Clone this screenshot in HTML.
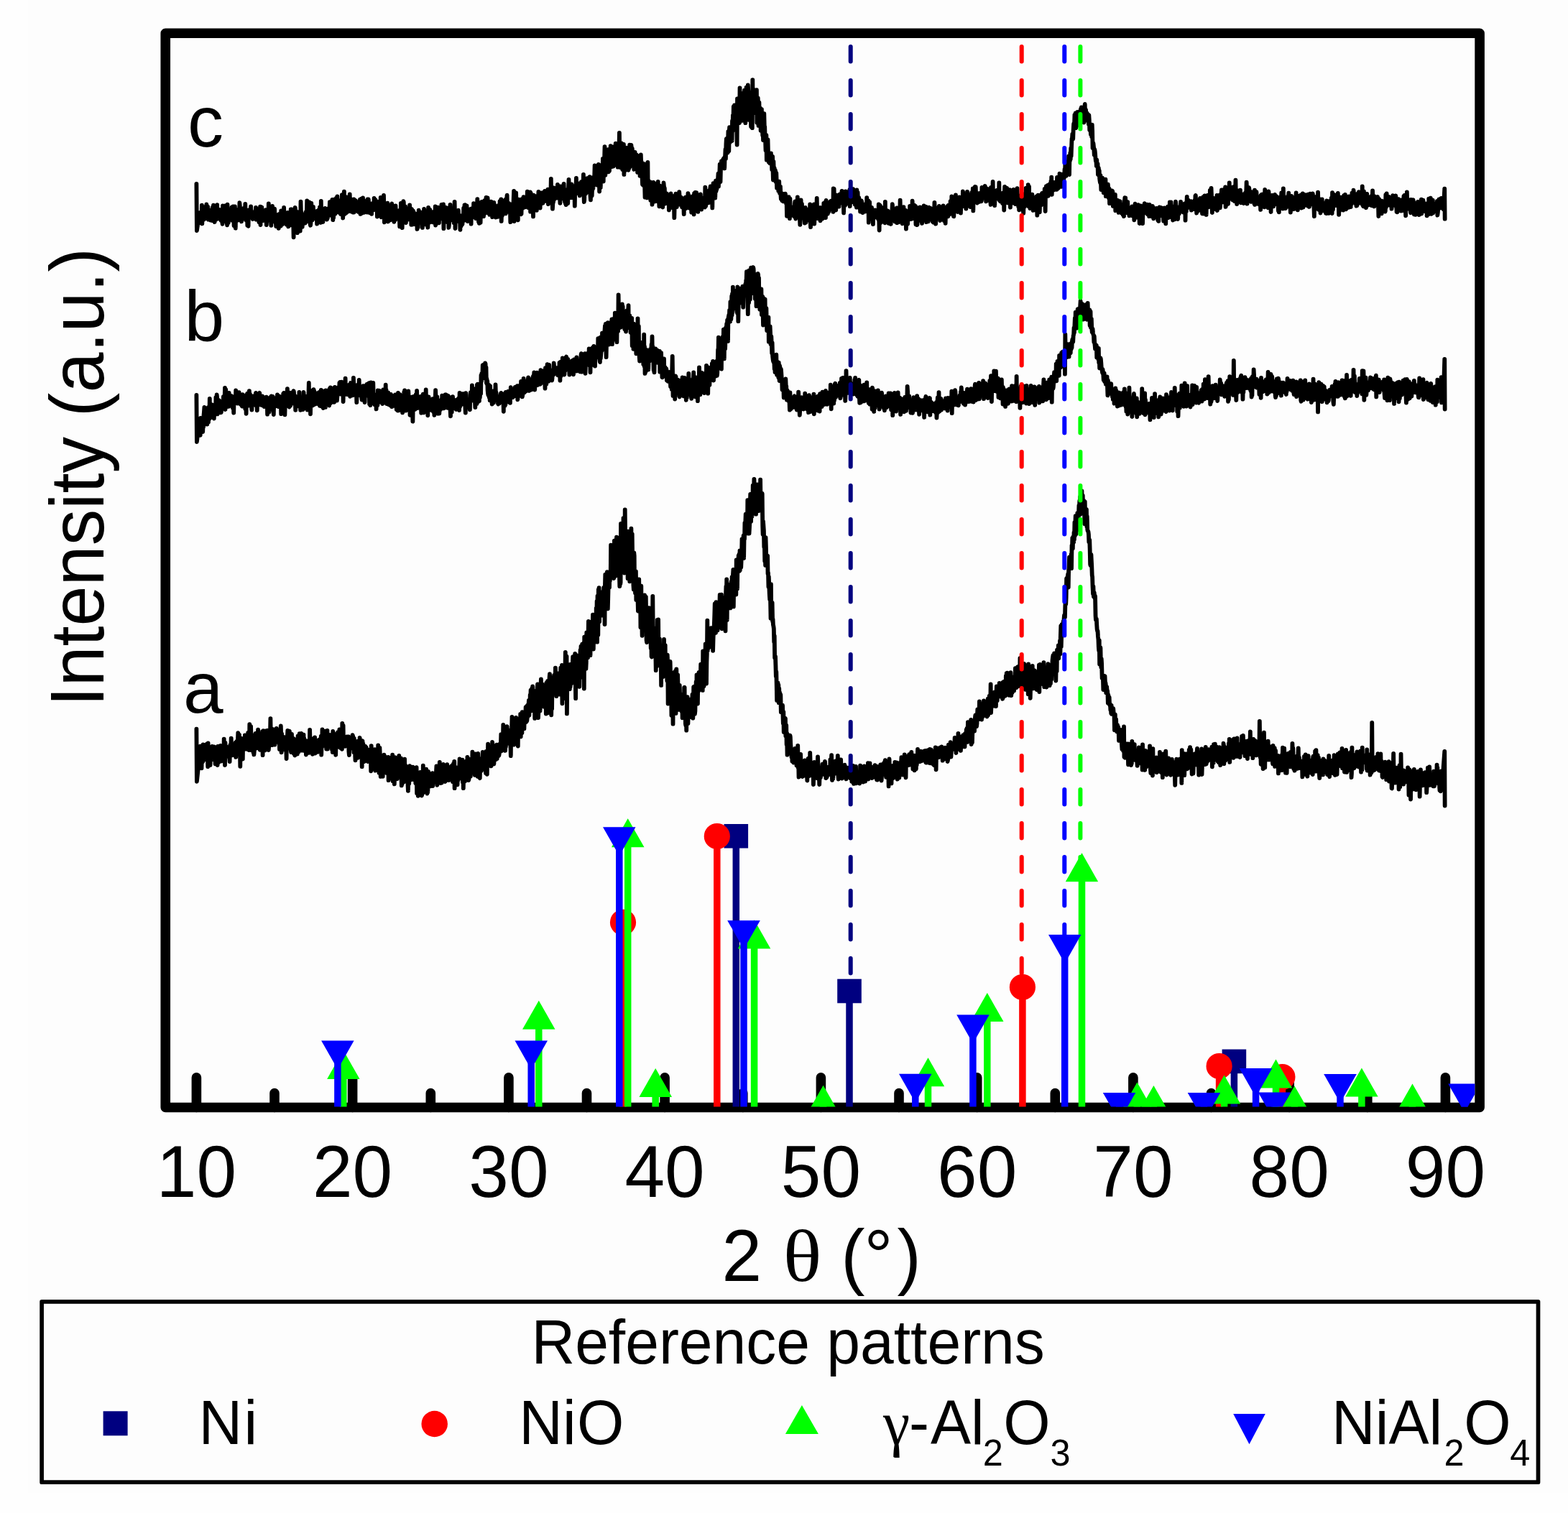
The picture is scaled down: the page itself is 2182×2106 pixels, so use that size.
<!DOCTYPE html>
<html><head><meta charset="utf-8"><style>html,body{margin:0;padding:0;background:#fdfdfd;}svg{display:block;}</style></head>
<body>
<svg width="2182" height="2106" viewBox="0 0 2182 2106" font-family="'Liberation Sans', Arial, sans-serif" fill="#000">
<defs><clipPath id="pc"><rect x="237" y="53" width="1815.3" height="1487.4"/></clipPath></defs>
<rect x="0" y="0" width="2182" height="2106" fill="#fdfdfd"/>
<rect x="0" y="0" width="39" height="2106" fill="#fefefe"/><rect x="0" y="2078" width="2182" height="28" fill="#fefefe"/>
<rect x="230.25" y="46.25" width="1828.85" height="1495.25" fill="none" stroke="#000" stroke-width="13.6" stroke-linejoin="round"/>
<path d="M273.4,1541.5V1499.8M382.0,1541.5V1521.5M490.6,1541.5V1499.8M599.3,1541.5V1521.5M707.9,1541.5V1499.8M816.5,1541.5V1521.5M925.1,1541.5V1499.8M1033.8,1541.5V1521.5M1142.4,1541.5V1499.8M1251.0,1541.5V1521.5M1359.7,1541.5V1499.8M1468.3,1541.5V1521.5M1576.9,1541.5V1499.8M1685.5,1541.5V1521.5M1794.2,1541.5V1499.8M1902.8,1541.5V1521.5M2011.4,1541.5V1499.8" stroke="#000" stroke-width="13.6" stroke-linecap="round" fill="none"/>
<g clip-path="url(#pc)">
<g fill="none" stroke="#000" stroke-width="5.8" stroke-linejoin="round" stroke-linecap="round">
<path d="M273.4,256.0l.5,65 3.1,-20.8 .4,10 .5,-1.1 .4,-13.1 .4,1.5 .5,-1.8 .4,8.3 .4,-4.8 .5,6.1 .4,-19.7 .4,25.8 .5,-12.6 .4,5.8 .4,-6.2 .5,-1.9 .4,6.4 .4,2.7 .5,-7.8 .4,.3 .4,6.3 .5,-11.8 .4,-4.9 .5,14.4 .4,-8.1 .4,-9.5 .5,8.4 .4,2.6 .4,-5.5 .5,-2.3 .4,11.5 .4,6.5 .5,-8.5 .4,-3.9 .4,8.5 .5,2.5 .4,-7.7 .4,6.4 .5,3.7 .4,-9.4 .4,-4.6 .5,8.7 .4,-.8 .4,6.5 .5,-18.1 .4,4.7 .4,-1.3 .5,-6.8 .4,14 .4,3.1 .5,-9.6 .4,16 .4,-4.3 .5,-1.4 .4,-1.8 .4,4.2 .5,-17.3 .4,14.7 .4,-.1 .5,-17.9 .4,15.9 .5,-4.5 .4,7.8 .4,-9.2 .5,3.1 .4,2.7 .4,-9.2 .5,11.1 .4,-5.3 .4,4.5 .5,-7.7 .4,12.2 .4,-3.7 .5,-5.9 .4,6.1 .4,4.7 .5,4 .4,-25.4 .4,18.5 .5,-3.1 .4,-4.3 .4,-6.9 .5,17.1 .4,-19 .4,13.8 .5,5.5 .4,-21.9 .4,9.8 .5,-7.7 .4,11.8 .4,9.5 .5,3.9 .4,-28.8 .4,9.1 .5,9.7 .4,6.6 .4,-8.8 .5,-8.8 .4,7.9 .5,-2.4 .4,-1.4 .4,-4 .5,8.5 .4,-.6 .4,-3 .5,-1 .4,-8 .4,6 .5,12.8 .4,-10.5 .4,-9.4 .5,20.9 .4,-6 .4,11.9 .5,-15.4 .4,-4 .4,-7.4 .5,20.9 .4,9.5 .4,-25.7 .5,1.4 .4,9.4 .4,-10.8 .5,4.2 .4,-.6 .4,4.2 .5,6.8 .4,-8.1 .4,6.8 .5,-10.1 .4,5.6 .4,-18.6 .5,5.2 .4,17 .4,-10.5 .5,8.9 .4,-.3 .5,5.9 .4,-3.8 .4,1.5 .5,-8.5 .4,-4.4 .4,-.2 .5,1.8 .4,-4.8 .4,4.4 .5,3.4 .4,2.6 .4,-4.4 .5,-12 .4,14 .4,2.3 .5,6.5 .4,-3.8 .4,-9.3 .5,-.5 .4,20.6 .4,-9.4 .5,8.1 .4,2.3 .4,-22.3 .5,9.1 .4,.6 .4,.7 .5,-.1 .4,-2.5 .4,-.2 .5,-12.7 .4,10.1 .4,-4.4 .5,6.6 .4,-4.4 .4,8.2 .5,1.5 .4,-3.8 .5,0 .4,-1.6 .4,-4.1 .5,2.1 .4,-2.5 .4,6.7 .5,-2.8 .4,4.3 .4,-14.4 .5,16.7 .4,-12.4 .4,.2 .5,4.1 .4,-2.8 .4,6.5 .5,-6.5 .4,-3.7 .4,1.7 .5,16.4 .4,-9.5 .4,-9.2 .5,9 .4,-11.8 .4,25.4 .5,-25 .4,15.2 .4,.5 .5,-15 .4,13.3 .4,5.3 .5,-4 .4,-1.5 .4,5.3 .5,-5.9 .4,1.4 .4,-3.5 .5,5.8 .4,-11.8 .5,13.1 .4,-9.7 .4,-4.4 .5,11 .4,10.1 .4,-5.4 .5,-11.2 .4,9.3 .4,-8.7 .5,2.6 .4,1.6 .4,-18.1 .5,19 .4,-9.2 .4,2.6 .5,-5.8 .4,-.3 .4,4.4 .5,13.4 .4,6.4 .4,-12.7 .5,8.5 .4,-10.2 .4,-12.4 .5,15.6 .4,2.3 .4,-6.5 .5,5.5 .4,2.1 .4,-10.8 .5,-4.6 .4,9.6 .4,.1 .5,-1 .4,10.2 .4,5.6 .5,-16.1 .4,8.5 .4,1.9 .5,-1.7 .4,2.6 .5,-10.8 .4,8.5 .4,9.8 .5,-9.2 .4,-10.7 .4,9.4 .5,5 .4,-6.7 .4,-7 .5,15.9 .4,-21 .4,13.3 .5,-3.9 .4,-8.8 .4,18.3 .5,-6.6 .4,-11.4 .4,13.4 .5,-7.7 .4,-11.1 .4,9.2 .5,7.3 .4,2.9 .4,-3.5 .5,-.9 .4,3.3 .4,-5.1 .5,10.5 .4,-7.7 .4,1.2 .5,1.9 .4,-12.1 .4,2.5 .5,16.9 .4,-9.1 .4,-4.7 .5,4.7 .4,-6.3 .5,5.7 .4,-7.2 .4,7 .5,-14 .4,21.9 .4,-14 .5,-8.1 .4,10.2 .4,-1.2 .5,3.9 .4,-9.9 .4,11.7 .5,24.3 .4,-37.1 .4,12.1 .5,-4.9 .4,3.7 .4,-15.2 .5,5 .4,12.1 .4,-3.8 .5,12.6 .4,-17.8 .4,6.6 .5,20.6 .4,-27.8 .4,-1.1 .5,6.5 .4,-.1 .4,6.6 .5,-5.4 .4,-6.8 .4,7.3 .5,18.3 .4,-10.4 .4,-30.7 .5,19.9 .4,-5.6 .5,11.2 .4,-6 .4,15.8 .5,-7.6 .4,-.4 .4,-5.3 .5,-1.8 .4,2.8 .4,7.2 .5,-5.8 .4,-6.8 .4,12.3 .5,-8.3 .4,-2.1 .4,-5.4 .5,1.6 .4,-.6 .4,-16.3 .5,28.7 .4,-3.4 .4,-6 .5,9.5 .4,-4.7 .4,-.5 .5,-21.6 .4,16.9 .4,5.7 .5,8.1 .4,1.7 .4,-3.2 .5,-19.7 .4,-7.9 .4,20.9 .5,-4.2 .4,7 .4,-8.3 .5,2.6 .4,-13.1 .5,14.7 .4,-6.8 .4,5.9 .5,.8 .4,-4.4 .4,3.2 .5,-2.6 .4,5.8 .4,-2 .5,-8 .4,-.4 .4,17.6 .5,-14.1 .4,8.2 .4,-4.5 .5,-7.3 .4,-1.5 .4,6.5 .5,1 .4,2.6 .4,-14.3 .5,5 .4,3.7 .4,12.8 .5,-30 .4,21.1 .4,-7.5 .5,7.3 .4,-7 .4,6.4 .5,9 .4,-9.2 .4,.5 .5,-.5 .4,-8.6 .4,9.5 .5,-5.9 .4,-4.9 .5,5.6 .4,-1.6 .4,7.1 .5,-6.3 .4,-3.9 .4,14.8 .5,-3.8 .4,1.9 .4,-5.3 .5,-5.7 .4,-2.6 .4,.8 .5,9.1 .4,-6.6 .4,-12.3 .5,10.7 .4,-10.7 .4,11.7 .5,-10.6 .4,-.7 .4,10.2 .5,-1.8 .4,-12.2 .4,18 .5,10.4 .4,-27.8 .4,24.7 .5,-19.2 .4,1.2 .4,2.2 .5,-9.9 .4,20.5 .4,-6.3 .5,-9.7 .4,3.4 .4,-9.6 .5,8.5 .4,9.5 .5,-20.3 .4,9.4 .4,4.2 .5,6.5 .4,2.1 .4,-14 .5,-2.2 .4,9.1 .4,-6.2 .5,.5 .4,10.5 .4,4.7 .5,-10.8 .4,-3.4 .4,5.8 .5,-18.5 .4,14.1 .4,-7.8 .5,26.1 .4,-12.6 .4,-4.3 .5,-2.5 .4,-17.5 .4,24.4 .5,7 .4,-17.8 .4,10.7 .5,.3 .4,-17.1 .4,18.8 .5,3.2 .4,-8.4 .4,-2.2 .5,6.5 .4,-17.6 .4,12.4 .5,7.3 .4,-17.3 .5,16.9 .4,-10.6 .4,-12.6 .5,15 .4,-6.5 .4,9.8 .5,-11.3 .4,16.9 .4,-13.5 .5,8.3 .4,-7.1 .4,2 .5,11.5 .4,-7.3 .4,-4.6 .5,-6.4 .4,18.2 .4,-3.2 .5,-8 .4,4.3 .4,-9.6 .5,.2 .4,1.4 .4,8.9 .5,-.4 .4,-7.8 .4,11.2 .5,.4 .4,-4.6 .4,6.5 .5,-10 .4,1.4 .4,4.4 .5,-3.8 .4,6.3 .4,-15.5 .5,20.3 .4,-16.7 .4,4.7 .5,-9.2 .4,15 .5,5.1 .4,-1.5 .4,-1.8 .5,-18 .4,5.9 .4,2.4 .5,-3.6 .4,15.6 .4,-7.1 .5,-1.5 .4,3.9 .4,-10.9 .5,.3 .4,.3 .4,10.4 .5,-1.1 .4,1.8 .4,3.8 .5,-18.4 .4,6 .4,5.4 .5,-11.3 .4,6.2 .4,11.7 .5,.7 .4,-.2 .4,-7.8 .5,-1.9 .4,9.8 .4,-11 .5,5.4 .4,7.5 .4,-12.8 .5,-1.8 .4,4.5 .4,4.7 .5,-.9 .4,-2.4 .5,3 .4,-16.3 .4,5.6 .5,7.8 .4,-8.3 .4,-3.1 .5,1.1 .4,2.3 .4,5.8 .5,-6.3 .4,9.7 .4,11.2 .5,-13.8 .4,10.9 .4,-7.4 .5,-10.5 .4,6.7 .4,-5.3 .5,13.3 .4,-14.3 .4,18.8 .5,-5.5 .4,-19.5 .4,21.4 .5,5.9 .4,-17.5 .4,13.5 .5,-20.9 .4,15.7 .4,-14.3 .5,16.3 .4,-17 .4,-6.3 .5,23.1 .4,14.4 .4,-21.6 .5,10.9 .4,-5.3 .5,-3.1 .4,7.2 .4,7.9 .5,-21.6 .4,13.7 .4,-1.5 .5,-13.2 .4,23.1 .4,2.7 .5,-21.8 .4,20.5 .4,-12.6 .5,-1.5 .4,12.7 .4,-9.5 .5,.9 .4,9.2 .4,-1.6 .5,-2.9 .4,-17.2 .4,-1.1 .5,20.5 .4,-15.3 .4,8.2 .5,-9.1 .4,6.9 .4,-8.1 .5,22.1 .4,-19.9 .4,6.9 .5,-.3 .4,10.7 .4,-19.7 .5,10.6 .4,-1.2 .4,5.7 .5,-.3 .4,-6.9 .5,5.4 .4,-4.6 .4,6.4 .5,-4.2 .4,-4.2 .4,4.8 .5,3 .4,14.4 .4,-20.8 .5,6.1 .4,8.8 .4,-26.7 .5,2.5 .4,4.3 .4,8.1 .5,19.4 .4,-15.5 .4,6.3 .5,-10.8 .4,-16.9 .4,1.2 .5,25.2 .4,-6.3 .4,-11.1 .5,18.3 .4,-20.1 .4,20.3 .5,2.4 .4,-16.7 .4,-2.5 .5,14.8 .4,-14.7 .4,14.9 .5,-15.5 .4,15.1 .4,-5.3 .5,-3.9 .4,-3.5 .5,8.6 .4,-16.1 .4,12.3 .5,-.9 .4,8.2 .4,-14.6 .5,22.5 .4,-15.3 .4,-6.2 .5,19.2 .4,2.1 .4,-13.9 .5,-5.3 .4,6.9 .4,-5.3 .5,2.9 .4,14.2 .4,-8.8 .5,-1.8 .4,1.5 .4,-3 .5,6.9 .4,.3 .4,-9.4 .5,3.6 .4,17.5 .4,-15 .5,-4.6 .4,17 .4,-15.4 .5,-8.3 .4,13.4 .4,-11.8 .5,3 .4,6.3 .4,-3.4 .5,-4.7 .4,1.6 .5,-.2 .4,13.3 .4,-14.2 .5,1.2 .4,19.8 .4,-19.5 .5,15.5 .4,-1.3 .4,-11.1 .5,-9.5 .4,14.2 .4,1.8 .5,2.2 .4,-6.7 .4,8.6 .5,1.5 .4,-18.4 .4,18.8 .5,-9.4 .4,-5.6 .4,1.9 .5,16.7 .4,-6.7 .4,-20.9 .5,14.2 .4,-1.6 .4,-.2 .5,-2.5 .4,-7.1 .4,17.6 .5,-13.6 .4,4.4 .4,-1.8 .5,-1 .4,11 .4,-2.9 .5,-8.1 .4,-2.2 .4,3.5 .5,10.8 .4,-6.5 .5,.7 .4,-4.4 .4,.4 .5,3.5 .4,-15.7 .4,26 .5,-18.3 .4,1.6 .4,14.3 .5,-8.6 .4,-1.5 .4,-4.8 .5,-7.5 .4,13.1 .4,7.5 .5,-16 .4,17 .4,-18.9 .5,2.8 .4,9.3 .4,-4 .5,5.1 .4,-10.9 .4,-2.3 .5,-6.5 .4,5 .4,1.1 .5,-2.6 .4,13.2 .4,-7.3 .5,-10 .4,33.9 .4,-25 .5,-3.1 .4,18.9 .4,-.5 .5,-17.5 .4,-2.3 .5,3.6 .4,16.2 .4,-10.9 .5,-3.7 .4,6 .4,9.4 .5,-19.6 .4,7.7 .4,-7.5 .5,27 .4,-2.6 .4,-6.5 .5,-8.2 .4,6.1 .4,-20.8 .5,18 .4,-12.1 .4,.1 .5,4.8 .4,2.7 .4,7.1 .5,1 .4,-3.2 .4,-9.1 .5,12.3 .4,-6 .4,9.9 .5,-15.7 .4,-13.9 .4,17.3 .5,19.9 .4,-12.6 .4,-5 .5,8.2 .4,-2.9 .4,-.4 .5,-7.5 .4,4.3 .5,.8 .4,-6.5 .4,-3.7 .5,9.3 .4,6.2 .4,-2.6 .5,-1.3 .4,-.1 .4,15.6 .5,-17.7 .4,5.8 .4,6.8 .5,-14.5 .4,1.4 .4,5.8 .5,4.7 .4,-10.5 .4,.2 .5,-2.2 .4,-9.9 .4,17.4 .5,-10.5 .4,-11.2 .4,11.8 .5,-12.1 .4,5.3 .4,7.6 .5,-7.2 .4,14.9 .4,-19.3 .5,12.9 .4,2.1 .4,6.7 .5,-4.2 .4,-5.3 .4,-1.3 .5,-1.2 .4,8.9 .5,-13.7 .4,8.8 .4,-4.8 .5,2.4 .4,-4 .4,18 .5,-21.2 .4,6.7 .4,.1 .5,2.4 .4,-1.4 .4,-.3 .5,4.1 .4,-19 .4,11.4 .5,-9.6 .4,11 .4,-10.9 .5,1.6 .4,6.6 .4,10.9 .5,-6.3 .4,-2.3 .4,8.3 .5,-17.9 .4,-8.8 .4,12.4 .5,1 .4,11.3 .4,6.7 .5,-26.3 .4,28.6 .4,-7 .5,-5.7 .4,-3.7 .4,15.5 .5,-17.9 .4,-4.3 .5,4.5 .4,-11.4 .4,13.9 .5,-4.4 .4,3.3 .4,.3 .5,-10.7 .4,17.9 .4,-17.6 .5,14.4 .4,-18.7 .4,14.8 .5,-9 .4,6.6 .4,-5.3 .5,-11.5 .4,8 .4,9 .5,4.2 .4,-15.8 .4,-4.9 .5,9.4 .4,5 .4,-3.1 .5,-1.4 .4,12.6 .4,.9 .5,-1.7 .4,-12.7 .4,7.7 .5,-2 .4,-9.4 .4,17.5 .5,-6 .4,-4.3 .4,14.4 .5,-4.9 .4,.7 .5,2.6 .4,-3.7 .4,-14.9 .5,6.6 .4,10.5 .4,-13.4 .5,6.1 .4,2.8 .4,7.9 .5,-1.1 .4,-3 .4,-8.2 .5,8.3 .4,-2.9 .4,-5.2 .5,11.5 .4,-6.5 .4,-9.4 .5,15.3 .4,-11.5 .4,6.4 .5,-16 .4,11.4 .4,-7 .5,-.2 .4,-7.1 .4,30.6 .5,-17.3 .4,3 .4,6.5 .5,-9.2 .4,4.8 .4,-14.2 .5,11.8 .4,-4.6 .4,6.9 .5,-2.4 .4,-11.8 .5,-3.5 .4,6.3 .4,13.2 .5,-2.3 .4,-.2 .4,-18.3 .5,-5 .4,15.6 .4,2.2 .5,-2 .4,7.2 .4,-3.9 .5,-7.7 .4,2.3 .4,7.7 .5,-.5 .4,-1.1 .4,17.7 .5,-19.1 .4,2.9 .4,-8.4 .5,4.8 .4,6.5 .4,.1 .5,-5.7 .4,4 .4,-2.7 .5,-14.9 .4,-10.7 .4,42.1 .5,-11.4 .4,-6.9 .4,-12.9 .5,3.3 .4,19.7 .4,-31.5 .5,18.4 .4,8.9 .4,-5.7 .5,4.4 .4,-6.9 .5,18.9 .4,-26 .4,-2.7 .5,12.2 .4,8.5 .4,-11.4 .5,8.2 .4,-12.2 .4,-5.1 .5,19.4 .4,1 .4,-.4 .5,-15.1 .4,-5.6 .4,-.3 .5,7 .4,5.9 .4,-.8 .5,-14.8 .4,12.1 .4,-1.5 .5,.3 .4,-1 .4,-1.6 .5,5.9 .4,-3.7 .4,.5 .5,-7.1 .4,8 .4,-4.1 .5,-15.2 .4,19.4 .4,-5.8 .5,8.8 .4,-8.4 .4,.3 .5,2.2 .4,-1.9 .5,-3.5 .4,-10.4 .4,27.3 .5,-26 .4,9.2 .4,7.3 .5,-2.3 .4,1.3 .4,1.4 .5,3.6 .4,-7.4 .4,19.6 .5,-29.8 .4,9.3 .4,-4.6 .5,-1.5 .4,6.2 .4,8.7 .5,-16.5 .4,-.1 .4,10.7 .5,-1.5 .4,10.6 .4,-7.2 .5,-6.2 .4,-4.3 .4,4 .5,-3.1 .4,-9.1 .4,10.2 .5,-1.5 .4,-.5 .4,-1.6 .5,15.9 .4,-7.7 .4,1.7 .5,-11.8 .4,-3.2 .5,5.4 .4,3.9 .4,-4.6 .5,1.1 .4,8.5 .4,-5.1 .5,-9.8 .4,4.1 .4,-1.9 .5,6.2 .4,-10.3 .4,7.4 .5,6.4 .4,-5.1 .4,-7.3 .5,2.2 .4,5.4 .4,2.6 .5,2.6 .4,-7.6 .4,-9 .5,20.6 .4,-8.6 .4,.7 .5,-.9 .4,-10.3 .4,5.3 .5,4.3 .4,5.7 .4,-7.5 .5,-24.1 .4,21.6 .4,4.4 .5,7 .4,-4.5 .4,13.4 .5,-8.1 .4,-.6 .5,-3.1 .4,-17.6 .4,16.8 .5,-1.9 .4,-8.5 .4,8.4 .5,-1.4 .4,-6.7 .4,2.6 .5,-1.1 .4,3.7 .4,-5 .5,7.3 .4,-18.7 .4,12.4 .5,-10.7 .4,9.1 .4,7.5 .5,-3.8 .4,-1 .4,1.3 .5,11.3 .4,-20.3 .4,15.1 .5,-18.2 .4,7.8 .4,4.8 .5,-7.7 .4,7.9 .4,3.9 .5,-14.5 .4,8.4 .4,-2.3 .5,-11.9 .4,13.2 .4,-4.6 .5,16.1 .4,-16.8 .5,19.4 .4,-16.9 .4,18.7 .5,-10.6 .4,-.7 .4,2.6 .5,.7 .4,3.7 .4,2.5 .5,-15.8 .4,-6.8 .4,-10.8 .5,17.2 .4,8.7 .4,-3 .5,-2 .4,-3.6 .4,-2.2 .5,2.7 .4,5 .4,-16.3 .5,18.8 .4,-16.7 .4,9.7 .5,-3.8 .4,1.8 .4,-5.3 .5,-1 .4,6.8 .4,-6.6 .5,26.6 .4,-21.9 .4,-2.1 .5,.6 .4,-4.2 .4,-11 .5,16.9 .4,4.3 .5,-14.6 .4,11.8 .4,-9.9 .5,9.2 .4,3 .4,.9 .5,-.6 .4,-9.5 .4,12.9 .5,-11.2 .4,6.5 .4,2.8 .5,-8.7 .4,-8.6 .4,16.1 .5,-15.1 .4,1.7 .4,-2 .5,16.8 .4,-9 .4,-18.7 .5,26.3 .4,11.8 .4,-2.5 .5,-21.5 .4,5.6 .4,3.8 .5,3.4 .4,-8.1 .4,-10.7 .5,17 .4,-1.4 .4,-18.5 .5,8.9 .4,5.8 .4,-2.7 .5,4.8 .4,2.5 .4,-2.6 .5,-6.5 .4,-12.3 .5,19.1 .4,7.6 .4,5.6 .5,-20.2 .4,-.2 .4,14.8 .5,-.2 .4,-11.4 .4,3.2 .5,-15.7 .4,13.2 .4,-15.2 .5,6.4 .4,-.4 .4,-4.3 .5,-18 .4,12.9 .4,11.7 .5,-4.9 .4,-4.2 .4,8.2 .5,2.2 .4,1.1 .4,-18.5 .5,8.3 .4,-4.4 .4,-6.6 .5,-7.3 .4,14.5 .4,-9 .5,32.1 .4,-25 .4,-2 .5,-2.5 .4,23.9 .4,-31 .5,7.8 .4,-7.2 .5,6.3 .4,.4 .4,11.6 .5,-27.8 .4,14.4 .4,17.1 .5,-23.6 .4,2.9 .4,-8.2 .5,-19.4 .4,26.5 .4,13.2 .5,-18.3 .4,-15.6 .4,22.2 .5,-2.6 .4,9.7 .4,-1.2 .5,-13 .4,7 .4,-24 .5,31.2 .4,-10.3 .4,9.5 .5,-.5 .4,-14.9 .4,1.3 .5,-8.1 .4,-13.2 .4,20.7 .5,2.8 .4,-13.6 .4,19.1 .5,-6.9 .4,3.6 .4,-13.4 .5,-11 .4,27.2 .5,-2.1 .4,-8 .4,-3.7 .5,1.3 .4,1.3 .4,-4.3 .5,-16.4 .4,29.9 .4,-24.9 .5,12.3 .4,0 .4,5.9 .5,-20.5 .4,30.2 .4,-6.2 .5,1 .4,5.1 .4,-22.3 .5,-25.2 .4,37.5 .4,10.5 .5,-1.6 .4,-18.3 .4,4.8 .5,4.1 .4,-22.6 .4,12.3 .5,.4 .4,23.9 .4,-24.1 .5,24 .4,-16.8 .4,-18.2 .5,42 .4,-34.4 .4,17.2 .5,11.7 .4,-24.2 .5,-7.5 .4,24.5 .4,-10.5 .5,-14 .4,1.6 .4,7.5 .5,14.6 .4,-13.5 .4,10.2 .5,10.7 .4,-4.1 .4,1.8 .5,-2.2 .4,-30.7 .4,30.6 .5,-9.7 .4,-4.8 .4,-10.4 .5,-5.5 .4,5.2 .4,11.8 .5,-12.5 .4,3.9 .4,2.1 .5,14.5 .4,-9.8 .4,2.3 .5,16.5 .4,-17.1 .4,10.6 .5,-17.3 .4,15.6 .4,-1.6 .5,1.3 .4,-6.3 .4,-5.5 .5,8.6 .4,-1.2 .5,16.9 .4,-.7 .4,-22.2 .5,20.4 .4,-11.3 .4,10.8 .5,-9.5 .4,-10 .4,27.5 .5,-5.5 .4,-17.4 .4,-6.6 .5,15.6 .4,-6 .4,9.9 .5,11.7 .4,10.2 .4,-18.7 .5,19.8 .4,-1.2 .4,-16.3 .5,-12.2 .4,28.3 .4,-1.6 .5,19.9 .4,-9 .4,-5.9 .5,10.8 .4,-28.5 .4,14.5 .5,-4 .4,22.8 .4,-11.6 .5,-37.9 .4,48.6 .4,-23.4 .5,19.1 .4,-12.6 .5,8 .4,4.3 .4,-4.4 .5,-12 .4,25.1 .4,-10.4 .5,-4.1 .4,7.8 .4,-12.8 .5,25.5 .4,-17.1 .4,1.6 .5,0 .4,-12.8 .4,-2.5 .5,14.6 .4,1.6 .4,10.5 .5,-9.1 .4,-15.6 .4,16.8 .5,3.3 .4,2 .4,-6.7 .5,-15.6 .4,24.4 .4,-19 .5,13.5 .4,-21.5 .4,23.8 .5,-15.4 .4,18.9 .4,7.1 .5,-5.8 .4,-23.2 .4,2.5 .5,.9 .4,15.5 .5,-3 .4,-1.6 .4,1.7 .5,2.8 .4,.9 .4,10.4 .5,-16.9 .4,2.7 .4,-19.9 .5,5.5 .4,6.3 .4,-4.6 .5,13.8 .4,8.1 .4,-14 .5,-.3 .4,0 .4,6.3 .5,-6.2 .4,9.4 .4,-1 .5,.6 .4,4.2 .4,-6.8 .5,1.3 .4,15.4 .4,-16.8 .5,8.1 .4,-6.8 .4,-4.6 .5,.2 .4,-3.1 .4,7.9 .5,-5.5 .4,1.9 .4,15.3 .5,-12.2 .4,11.9 .4,-7.9 .5,5.7 .4,-13.3 .5,7.1 .4,22.8 .4,-16.2 .5,1.8 .4,-6.8 .4,5.8 .5,-18 .4,3.1 .4,11.6 .5,3.7 .4,-10.8 .4,2.2 .5,-1.3 .4,1.7 .4,-8.7 .5,-1.9 .4,12.1 .4,-14.3 .5,6.9 .4,3 .4,-3.2 .5,11.4 .4,-5.8 .4,3.4 .5,-7.8 .4,2.5 .4,11 .5,-1.1 .4,-6.9 .4,7.2 .5,-1.3 .4,-.3 .4,12.1 .5,-16.9 .4,6.8 .4,0 .5,-5.6 .4,-7.8 .5,15.5 .4,-3.7 .4,-1.8 .5,-.3 .4,0 .4,-7.6 .5,9.7 .4,-17.3 .4,14.6 .5,-12.1 .4,9.3 .4,8.6 .5,-7.9 .4,-1.9 .4,8 .5,-6.4 .4,-1.1 .4,0 .5,15.3 .4,-6.8 .4,-1.6 .5,-13.5 .4,14.5 .4,-15.4 .5,14.2 .4,-13 .4,24.4 .5,-29.3 .4,23 .4,-3.5 .5,-20.7 .4,12 .4,13.2 .5,-2.6 .4,-22.4 .4,8.8 .5,-5.3 .4,1 .5,2.8 .4,19.4 .4,-13.6 .5,-3.1 .4,-1 .4,7.7 .5,0 .4,-12.8 .4,18.5 .5,-20.2 .4,6.1 .4,5.5 .5,9.7 .4,-16.3 .4,4.8 .5,7.7 .4,-5.5 .4,3.7 .5,-.9 .4,-6.2 .4,2.7 .5,2 .4,-7.5 .4,12.4 .5,-27.8 .4,8 .4,18 .5,-8 .4,-8.4 .4,7.6 .5,5.3 .4,-12.8 .4,9.9 .5,-6.9 .4,-.2 .4,.2 .5,8.8 .4,-17.1 .5,5.1 .4,7.2 .4,-14.8 .5,-3.3 .4,15.6 .4,-4.9 .5,-1.7 .4,1.6 .4,-9 .5,28.5 .4,-29.8 .4,3.5 .5,-7.9 .4,6.9 .4,13.9 .5,-11.9 .4,3.7 .4,-8.6 .5,16.5 .4,-12.9 .4,-11.2 .5,14.6 .4,-9.3 .4,6.9 .5,-4.2 .4,.4 .4,-2 .5,-9.8 .4,-6.5 .4,17.9 .5,-10.5 .4,1.6 .4,-7.7 .5,-14.4 .4,4.3 .4,20.1 .5,-19.6 .4,1.6 .5,-10.7 .4,6.1 .4,-.4 .5,-.5 .4,-.4 .4,-6.5 .5,-1.3 .4,3.1 .4,1.2 .5,-5.9 .4,14.7 .4,-15.3 .5,-2.3 .4,-9 .4,13.1 .5,-20.2 .4,-7.2 .4,3.9 .5,12.7 .4,-18 .4,20.5 .5,-13.9 .4,-15.7 .4,10.1 .5,17 .4,-26.6 .4,-6.4 .5,15.2 .4,5.8 .4,-4.9 .5,-16.1 .4,3.2 .4,-.7 .5,7.3 .4,9.1 .4,-28 .5,14.4 .4,-21.8 .5,9.1 .4,-21.2 .4,.6 .5,14.9 .4,-17.7 .4,23.5 .5,-19.9 .4,8.3 .4,-2.6 .5,-4 .4,6.4 .4,13.7 .5,29.8 .4,-64.1 .4,21.7 .5,-7.4 .4,-11.3 .4,17.5 .5,-17.6 .4,11.5 .4,19.2 .5,-48.7 .4,33.3 .4,2.6 .5,-21.2 .4,21.7 .4,-2.9 .5,-10.7 .4,22.8 .4,-37.8 .5,28.7 .4,-13.4 .4,-12.6 .5,12.8 .4,-2.9 .4,17.4 .5,-34.4 .4,19.2 .4,-3.9 .5,30.1 .4,-40 .5,32.3 .4,-41.8 .4,31.1 .5,-7.2 .4,7.6 .4,-16.1 .5,-18.5 .4,5.9 .4,42.4 .5,-16.3 .4,-16.1 .4,26.2 .5,-24.5 .4,0 .4,-7.1 .5,35.5 .4,11.6 .4,-43.5 .5,18.6 .4,10.2 .4,16.8 .5,-67.1 .4,37.7 .4,7.4 .5,-31.6 .4,28 .4,-3.1 .5,7.7 .4,-19.4 .4,14.8 .5,-15.2 .4,17.9 .4,-6.7 .5,-7.9 .4,-15.5 .4,45.5 .5,-8.1 .4,-3.4 .5,-22.7 .4,6.7 .4,31.7 .5,-11.5 .4,-20.7 .4,14.8 .5,3.5 .4,-2.6 .4,-7.7 .5,31.1 .4,-6.7 .4,-8 .5,-15 .4,14.6 .4,9.2 .5,12.5 .4,-12.5 .4,19.1 .5,-9 .4,-7.6 .4,-20.2 .5,19.2 .4,-1.4 .4,15.4 .5,6.3 .4,11.8 .4,-12.1 .5,-9.2 .4,34.5 .4,-17.7 .5,-3.8 .4,1.6 .4,-8.5 .5,19.8 .4,-.9 .4,12.5 .5,-2.9 .4,-.6 .5,5.1 .4,-11.7 .4,.6 .5,5.6 .4,-8.5 .4,11.7 .5,.4 .4,10.7 .4,-3.9 .5,-14.2 .4,18.7 .4,13.8 .5,-25.5 .4,11.2 .4,8 .5,-10.2 .4,7.5 .4,6.1 .5,-10.3 .4,14.3 .4,1.9 .5,-12.6 .4,11.5 .4,9.5 .5,-9 .4,5.8 .4,2.7 .5,-5.9 .4,10.5 .4,-3.7 .5,-9.6 .4,12.7 .4,3.6 .5,.5 .4,-9.9 .4,9.3 .5,7.8 .4,-7.5 .5,8.1 .4,1.7 .4,-9 .5,5.9 .4,-6.2 .4,10.6 .5,-7.6 .4,-2.5 .4,4.6 .5,.4 .4,4 .4,1.4 .5,-10.9 .4,4.5 .4,8 .5,1.6 .4,-2 .4,19 .5,-10.1 .4,-7.8 .4,6.6 .5,5.1 .4,-6.2 .4,-14.3 .5,14 .4,.4 .4,15.7 .5,-27.6 .4,24.5 .4,-12 .5,7.9 .4,-8.6 .4,3.5 .5,7 .4,-7.4 .4,7.1 .5,-8 .4,-2.2 .5,1.5 .4,-1.9 .4,2.9 .5,10.7 .4,-17.9 .4,-3.4 .5,11.9 .4,12.3 .4,-4.4 .5,2.1 .4,-.4 .4,-14 .5,6.2 .4,-19.7 .4,14.8 .5,8.8 .4,-15.3 .4,-3.5 .5,5.6 .4,11 .4,6.9 .5,10.3 .4,-8.1 .4,-20.9 .5,-5.6 .4,17.8 .4,6.6 .5,-18.9 .4,7.9 .4,.7 .5,3.6 .4,-1.4 .4,5.1 .5,4 .4,-6.8 .4,4.8 .5,8.9 .4,-21.5 .5,-.1 .4,11.1 .4,9.5 .5,-12 .4,6.6 .4,-9.9 .5,8.7 .4,-11 .4,9.3 .5,-2 .4,0 .4,7.1 .5,-2.2 .4,-11.9 .4,10.6 .5,-18.4 .4,19.2 .4,12.5 .5,-15.8 .4,-.1 .4,-3.1 .5,5.4 .4,-9.1 .4,8 .5,-6.6 .4,-1.1 .4,3.9 .5,-1.3 .4,-11.9 .4,27.1 .5,-13.7 .4,-13.1 .4,19.7 .5,-7.8 .4,1.6 .4,3.6 .5,-11.4 .4,-14.5 .5,20.2 .4,2.4 .4,5.4 .5,-12.5 .4,3.5 .4,4.7 .5,-5.1 .4,.4 .4,3.3 .5,-9.1 .4,18.1 .4,-18.1 .5,6.6 .4,-2.9 .4,-2.9 .5,8.6 .4,3.1 .4,2.9 .5,-6.4 .4,-7.6 .4,9.1 .5,-16.7 .4,10.4 .4,3.1 .5,-.1 .4,-12.5 .4,-2.8 .5,22.1 .4,-15.8 .4,-8.4 .5,2.6 .4,8.5 .4,8 .5,-8.8 .4,8.2 .4,-7.2 .5,1.4 .4,3.3 .4,-10 .5,4.4 .4,-5.2 .5,-2.1 .4,8.8 .4,-10.8 .5,6.1 .4,-6.5 .4,4.6 .5,-3.4 .4,11.1 .4,-7.5 .5,-.4 .4,10.8 .4,-32.5 .5,12.2 .4,-11.8 .4,19 .5,2.8 .4,1.1 .4,-3 .5,-8.5 .4,18.3 .4,-10.5 .5,-4.2 .4,-6.2 .4,10.8 .5,-6.6 .4,.2 .4,4.6 .5,-.1 .4,-7.5 .4,14.6 .5,-16.1 .4,-.9 .4,10 .5,-1.4 .4,-.5 .4,-3.6 .5,3.1 .4,-4.4 .5,-7.8 .4,16.8 .4,-12.5 .5,5.5 .4,6.6 .4,-5.1 .5,19.1 .4,-29.4 .4,4.5 .5,5.8 .4,8.9 .4,-11.5 .5,-8.4 .4,18 .4,-14.7 .5,5 .4,7.5 .4,-11 .5,1.4 .4,6.5 .4,-5 .5,3.4 .4,-8.8 .4,5.7 .5,-7 .4,-3.4 .4,23.3 .5,-9.3 .4,3.2 .4,-13.5 .5,6.6 .4,-1.4 .4,-8.7 .5,13.8 .4,-9.1 .4,3.6 .5,-9.3 .4,18.1 .5,-1.3 .4,-2.2 .4,-8.8 .5,3 .4,12.8 .4,-10.2 .5,4.2 .4,-.5 .4,-8.5 .5,19 .4,-24.4 .4,16 .5,-1.9 .4,-10.4 .4,14.2 .5,1.7 .4,-3 .4,-5.8 .5,9.4 .4,5 .4,-5.9 .5,11 .4,-5.7 .4,-.3 .5,4.8 .4,-14.1 .4,1.4 .5,7.6 .4,.4 .4,7.4 .5,-2.2 .4,-6.5 .4,.7 .5,-3.1 .4,-.2 .4,-.2 .5,9.9 .4,-9.3 .5,1.2 .4,4 .4,-4.3 .5,2.3 .4,-13.3 .4,18.3 .5,-4.3 .4,3.9 .4,1.6 .5,-15.3 .4,30.4 .4,-15.4 .5,.6 .4,-13.4 .4,17.1 .5,-1.3 .4,-5.2 .4,4.5 .5,7.4 .4,-11.2 .4,-3.8 .5,15.9 .4,-7.3 .4,-3 .5,17.6 .4,-14.9 .4,-2.2 .5,3.2 .4,-4.6 .4,4.5 .5,-.4 .4,-5.5 .4,2.9 .5,4.1 .4,.6 .4,1.5 .5,1.6 .4,-3.7 .5,2 .4,-6.2 .4,1 .5,9.2 .4,-21 .4,16.5 .5,19.7 .4,-35.1 .4,23.7 .5,-22.8 .4,14.9 .4,9 .5,-.9 .4,-16.7 .4,-2.7 .5,-.8 .4,15.2 .4,-7.7 .5,2.9 .4,1.8 .4,1.2 .5,1 .4,-2.8 .4,-12 .5,21.6 .4,-29.4 .4,28.1 .5,-12.8 .4,3 .4,-2.2 .5,1.2 .4,2.5 .4,-1.6 .5,-5.7 .4,13.8 .4,-9.9 .5,13.6 .4,-10.4 .5,-3.7 .4,8.1 .4,3.3 .5,-12.6 .4,4.3 .4,11.9 .5,-17.1 .4,1 .4,7 .5,-9.8 .4,-8.8 .4,5.5 .5,14.1 .4,1.9 .4,-.5 .5,-1.5 .4,-11.5 .4,13.3 .5,3.2 .4,-13.1 .4,11.4 .5,-9.2 .4,3.8 .4,1.1 .5,-13.1 .4,20.6 .4,-16.3 .5,5.1 .4,-2.8 .4,6.5 .5,-.2 .4,-3 .4,9.6 .5,-8 .4,-4.8 .4,-17.5 .5,18.1 .4,-.2 .4,-4.1 .5,-.1 .4,10.1 .5,3 .4,5.9 .4,-5.4 .5,-13 .4,6.6 .4,-11.4 .5,14.6 .4,-2.8 .4,-6.8 .5,3.4 .4,-1.1 .4,-2.8 .5,13.6 .4,12.3 .4,-16 .5,1.5 .4,-6.3 .4,-3.7 .5,17.7 .4,-18 .4,5.2 .5,-3.7 .4,4.9 .4,-4.6 .5,4.4 .4,-13.1 .4,8.1 .5,10.1 .4,-16.8 .4,2.4 .5,14.1 .4,-6.8 .4,4.6 .5,-23 .4,16.8 .4,-9.8 .5,-.7 .4,12.6 .5,5.5 .4,-18.5 .4,2.8 .5,3.7 .4,3.3 .4,-8.3 .5,25.2 .4,-11.6 .4,-6.5 .5,-1 .4,20 .4,-.5 .5,-19 .4,6 .4,6.4 .5,-16.9 .4,4.3 .4,13.6 .5,-14.2 .4,2 .4,-6.3 .5,4.2 .4,10.2 .4,-10.5 .5,-3.2 .4,4.8 .4,16.9 .5,-11.1 .4,-5 .4,5.1 .5,2.1 .4,-2.2 .4,-13.3 .5,14.8 .4,-3.5 .4,7.5 .5,-15.2 .4,16.8 .5,-10.7 .4,-8.3 .4,21.3 .5,-12.8 .4,6.3 .4,-3.6 .5,8.9 .4,.2 .4,.1 .5,-2.7 .4,-16.2 .4,-.6 .5,13 .4,-8.2 .4,9.8 .5,-2.2 .4,-11.2 .4,2.5 .5,-.8 .4,1.6 .4,4.6 .5,6.1 .4,4.4 .4,-16.2 .5,2.7 .4,14.7 .4,-4.8 .5,-4.8 .4,-18.1 .4,9.2 .5,8 .4,-5.3 .4,17.9 .5,-13.5 .4,1.3 .4,-9.8 .5,.2 .4,2.5 .5,.2 .4,2.6 .4,4.1 .5,-1.1 .4,5.2 .4,-16.6 .5,10.8 .4,.1 .4,9.3 .5,-12.8 .4,3.7 .4,-8.1 .5,8.5 .4,-.3 .4,-7.3 .5,1.2 .4,2.7 .4,4.2 .5,-12.3 .4,14.1 .4,-8.6 .5,15.5 .4,-3.2 .4,-13.2 .5,-1.7 .4,21.4 .4,-12.9 .5,-.5 .4,-7.1 .4,1.9 .5,6.4 .4,-1.4 .4,-10.3 .5,14.4 .4,-6.7 .4,-8.9 .5,13.5 .4,-8.3 .5,6.5 .4,-9.5 .4,6.3 .5,-14 .4,13.8 .4,-13.3 .5,11.6 .4,-19 .4,17.1 .5,5.4 .4,-1.8 .4,4.8 .5,-15.9 .4,18.3 .4,.1 .5,-19.7 .4,2.5 .4,1.3 .5,3.6 .4,1.2 .4,-18.8 .5,21.1 .4,-6.2 .4,-5.5 .5,13.4 .4,-9.3 .4,10.1 .5,-4.5 .4,-6.2 .4,10.1 .5,-2.8 .4,-9.4 .4,-7.9 .5,7.1 .4,7.9 .4,-6.2 .5,13.6 .4,-10.7 .5,-.7 .4,1.2 .4,-9.2 .5,5 .4,-4 .4,-12 .5,3.7 .4,17.2 .4,-8.4 .5,1.9 .4,-9.7 .4,6 .5,9.2 .4,-5 .4,-4.5 .5,13.9 .4,-11.3 .4,-2.2 .5,10.1 .4,-20.3 .4,15.6 .5,-11.8 .4,2 .4,.5 .5,5.4 .4,-.5 .4,1.1 .5,-.9 .4,8 .4,1.8 .5,-7.1 .4,.1 .4,-8 .5,-5.1 .4,11.5 .4,-4 .5,5.6 .4,-18.8 .5,31.1 .4,-27.5 .4,8.9 .5,6.5 .4,-16.6 .4,5.6 .5,-10.4 .4,4 .4,-3.7 .5,14 .4,1.2 .4,-4.4 .5,10.8 .4,.7 .4,-9.8 .5,-1.6 .4,-.5 .4,-1.4 .5,12 .4,-7.5 .4,-4.1 .5,.5 .4,5.2 .4,-6.6 .5,4.7 .4,-2.5 .4,9.4 .5,-1.5 .4,-17.9 .4,8.5 .5,5.9 .4,-8.2 .4,8.6 .5,-3.5 .4,1.7 .4,-4.7 .5,2.4 .4,1.4 .4,-14 .5,3.7 .4,-.9 .5,18.6 .4,-9.7 .4,.3 .5,-1.5 .4,-4.9 .4,-1.8 .5,10.9 .4,-8.4 .4,13.6 .5,-9.4 .4,-.6 .4,-2 .5,1.1 .4,.8 .4,10.4 .5,5.7 .4,-23.9 .4,9.8 .5,3.2 .4,-11 .4,2 .5,1.3 .4,-13.3 .4,21.2 .5,-4.7 .4,-.2 .4,1.3 .5,1.3 .4,14.3 .4,-14.6 .5,4.6 .4,-9.2 .4,6.1 .5,-4.4 .4,1.2 .4,-5.1 .5,.7 .4,8.9 .5,2.1 .4,-1.8 .4,-7.7 .5,6.9 .4,-19.5 .4,24 .5,-6.6 .4,2.2 .4,6.3 .5,-10.8 .4,9.6 .4,-9.5 .5,6.9 .4,-6.4 .4,5 .5,7.9 .4,-14.3 .4,.4 .5,2.1 .4,4.4 .4,16.9 .5,-22.7 .4,-9.9 .4,9.6 .5,-6.2 .4,7.1 .4,4.1 .5,-6.6 .4,2 .4,-8 .5,14.1 .4,-6.2 .4,12.6 .5,-.1 .4,-13 .4,3.5 .5,3 .4,4.9 .5,-16.5 .4,11.1 .4,13.3 .5,-13.2 .4,2.2 .4,-1.4 .5,-8 .4,14.7 .4,-4.5 .5,-.6 .4,3.9 .4,.6 .5,-18.3 .4,16.4 .4,-7.2 .5,5.2 .4,-5.8 .4,-1 .5,12.6 .4,-6.5 .4,-1.7 .5,0 .4,2.7 .4,-.6 .5,-15.9 .4,10.3 .4,4.5 .5,6.8 .4,4.3 .4,-15.6 .5,19.8 .4,-12.5 .4,2.8 .5,-6.9 .4,-.3 .4,14 .5,-11.1 .4,.9 .5,8.7 .4,3.9 .4,-22 .5,8.9 .4,1.3 .4,12.4 .5,4.5 .4,-17.2 .4,2.9 .5,3.4 .4,2 .4,-10.1 .5,8.1 .4,-10.6 .4,-13.5 .5,8.8 .4,10.9 .4,3.9 .5,-20.7 .4,3.1 .4,12.1 .5,-22.8 .4,26.8 .4,3.3 .5,-27.4 .4,25.6 .4,-6.5 .5,11 .4,-7.8 .4,-3.5 .5,2.5 .4,5.5 .4,-5 .5,-1.1 .4,-10 .4,13.1 .5,-3.1 .4,12.3 .5,-12.6 .4,-.5 .4,-3.6 .5,9.2 .4,-6.3 .4,-3.4 .5,15.7 .4,1.2 .4,-15.2 .5,-3.9 .4,14.7 .4,-13.4 .5,24.9 .4,-20.1 .4,7.5 .5,-15.4 .4,8.6 .4,7.2 .5,-5 .4,-7.1 .4,19.9 .5,-12.2 .4,-7.1 .4,-3 .5,1.8 .4,10.5 .4,-14.9 .5,4.9 .4,-6.3 .4,13.7 .5,-10.2 .4,6.5 .4,-2.5 .5,-8.3 .4,8.3 .4,1.1 .5,-14.7 .4,12.1 .5,19 .4,-26.8 .4,5.9 .5,-13.9 .4,11.7 .4,-7.6 .5,8.7 .4,-6.1 .4,-8.1 .5,15 .4,-9.5 .4,-5.9 .5,6.9 .4,-7.6 .4,8.8 .5,-3.6 .4,-2.6 .4,6.7 .5,-13.6 .4,14.9 .4,-20.7 .5,24.3 .4,-10.1 .4,-3.5 .5,-3.6 .4,8.4 .4,-5.2 .5,-.5 .4,7.9 .4,-10.4 .5,.9 .4,4.2 .4,4 .5,-8.7 .4,1.7 .4,-1.2 .5,4.4 .4,4.7 .4,-16.9 .5,5 .4,.2 .5,4 .4,5.8 .4,-10.7 .5,1.2 .4,5.9 .4,-16.7 .5,2.9 .4,1.8 .4,2.6 .5,1.3 .4,-5.6 .4,15.2 .5,-17.2 .4,3 .4,8.5 .5,-2.6 .4,-5.7 .4,2.2 .5,2.4 .4,-6.7 .4,3.4 .5,-11.6 .4,5.6 .4,-12.6 .5,4 .4,-2.7 .4,14.9 .5,-12.4 .4,4 .4,-9.1 .5,3.7 .4,-1.6 .4,-4.8 .5,10.1 .4,-17.4 .4,13.7 .5,12 .4,-23.3 .5,4.3 .4,-11.1 .4,8.5 .5,-14.9 .4,10.7 .4,-11.2 .5,-12.6 .4,-.8 .4,-5.9 .5,3.9 .4,2.8 .4,-11.9 .5,-8.9 .4,-1.3 .4,4.9 .5,-16.3 .4,17.3 .4,-1.9 .5,-18 .4,20.8 .4,-17.6 .5,7.6 .4,7.3 .4,-17.4 .5,-2 .4,3.4 .4,-.7 .5,4.6 .4,-3.1 .4,-.7 .5,-.8 .4,.9 .4,-4.7 .5,5.9 .4,-2.7 .4,-6.5 .5,16.1 .4,-18.3 .5,11.3 .4,-9 .4,6.1 .5,.6 .4,1.6 .4,2.9 .5,-13.5 .4,21.1 .4,-14.6 .5,-7.4 .4,-3.5 .4,21.1 .5,-4.4 .4,-9 .4,6.2 .5,5 .4,-5.3 .4,-1.3 .5,4 .4,6.9 .4,-3 .5,-5.5 .4,13.2 .4,-12.6 .5,7.4 .4,13.3 .4,-4.1 .5,1.8 .4,1 .4,7.4 .5,-3.7 .4,-8.4 .4,15.3 .5,-16.6 .4,8.5 .4,23.7 .5,-.6 .4,-6.1 .5,4.9 .4,3.5 .4,7.9 .5,-7.6 .4,1.9 .4,4.1 .5,7.1 .4,3.3 .4,-1.8 .5,8.5 .4,-8.5 .4,7.3 .5,-1.7 .4,0 .4,14.8 .5,-7.2 .4,-2.1 .4,7.9 .5,-4.2 .4,11.1 .4,3.3 .5,2.9 .4,-10.4 .4,7.2 .5,12.7 .4,-11.5 .4,9.4 .5,2.2 .4,-16.6 .4,16 .5,-2.1 .4,1.4 .4,5.5 .5,-6.8 .4,-1.7 .4,3.9 .5,-5.2 .4,5.7 .5,-14.7 .4,23.5 .4,-13.2 .5,7.2 .4,-.8 .4,-.7 .5,.7 .4,.3 .4,-10 .5,7.4 .4,11.5 .4,-13.3 .5,.4 .4,20.6 .4,-5.1 .5,2.9 .4,-9.3 .4,2.4 .5,3.7 .4,-.6 .4,-3.6 .5,-8.2 .4,5.3 .4,-4.4 .5,20.6 .4,-12.2 .4,2 .5,3.6 .4,-1.1 .4,4 .5,-7 .4,-5.3 .4,22.2 .5,-15.6 .4,2.1 .4,-1.5 .5,2.3 .4,4.3 .5,5.5 .4,-11.4 .4,9.6 .5,-5.9 .4,13.3 .4,-15.8 .5,9.6 .4,4.5 .4,-14 .5,10.1 .4,.3 .4,-6.3 .5,4 .4,8.4 .4,-5 .5,-4.5 .4,1.5 .4,4.6 .5,5.7 .4,-3.2 .4,-.3 .5,5.8 .4,-21.2 .4,.8 .5,-5.6 .4,21.3 .4,-21.2 .5,15.4 .4,5.5 .4,-14.6 .5,5.1 .4,2.8 .4,6.9 .5,-15.3 .4,12.6 .4,2.7 .5,-3.7 .4,.2 .5,7.5 .4,-6.9 .4,-1.6 .5,-2 .4,6.8 .4,-6.3 .5,6.5 .4,-3.7 .4,7 .5,-12.9 .4,5.9 .4,1.9 .5,.5 .4,5 .4,-5 .5,3.6 .4,7.2 .4,-7.5 .5,-12.9 .4,-2.4 .4,14.3 .5,-7 .4,4.6 .4,-3.1 .5,10.1 .4,-.7 .4,-15.7 .5,9.6 .4,-3.9 .4,-6.7 .5,13.3 .4,-5.3 .4,4 .5,13.9 .4,-7.7 .4,-1.5 .5,-10.2 .4,-5.1 .4,16.5 .5,-10.5 .4,2.5 .5,-2.8 .4,3.3 .4,15.6 .5,-18.3 .4,.3 .4,3.3 .5,.6 .4,-9.9 .4,-3.9 .5,8.2 .4,2.5 .4,-3.8 .5,-1.4 .4,.5 .4,3.7 .5,1.9 .4,-10.2 .4,7.4 .5,6.2 .4,-3.2 .4,-8.3 .5,6.8 .4,2.3 .4,5.4 .5,-16.2 .4,15.7 .4,-7.7 .5,4.5 .4,3.3 .4,-10.5 .5,.5 .4,4.7 .4,5.7 .5,-8.5 .4,-5.9 .4,4.9 .5,7.3 .4,5.3 .5,-11.2 .4,1.2 .4,1 .5,.4 .4,-5.5 .4,3.5 .5,4.4 .4,-.7 .4,-.5 .5,-6.9 .4,3.1 .4,-1 .5,11.9 .4,2.7 .4,-7.4 .5,8.5 .4,-12.7 .4,.1 .5,-6.7 .4,10.3 .4,-4.7 .5,3.6 .4,2.5 .4,-5 .5,-6 .4,7.1 .4,-.3 .5,.6 .4,4.2 .4,-6 .5,-.5 .4,13.3 .4,-4.5 .5,-7.9 .4,-5.8 .4,3.2 .5,5.4 .4,3 .5,10.4 .4,-17.8 .4,2.5 .5,-3.5 .4,2.8 .4,-3.2 .5,-4.6 .4,13.8 .4,-6 .5,7.6 .4,-12.1 .4,5.1 .5,2.5 .4,-17 .4,3.6 .5,13.7 .4,-4.4 .4,-13 .5,7.2 .4,-2.2 .4,3.7 .5,13.4 .4,-14.2 .4,17.2 .5,-15.3 .4,-3.3 .4,15.3 .5,-4.3 .4,2.8 .4,3.7 .5,-6 .4,1 .4,-19.7 .5,5.8 .4,8.4 .4,-1.7 .5,3.3 .4,-8 .5,10.5 .4,6 .4,-9.6 .5,1.7 .4,-2.3 .4,2.8 .5,-4.8 .4,-4.9 .4,4.6 .5,-.6 .4,-11 .4,11.7 .5,-1.5 .4,1.2 .4,-5.1 .5,6.8 .4,.9 .4,-9 .5,6.8 .4,3 .4,-.3 .5,-11.2 .4,-.7 .4,6.9 .5,-7.3 .4,23.6 .4,-22.1 .5,0 .4,9.5 .4,-7.5 .5,-12.6 .4,14.5 .4,-5.7 .5,3 .4,-7.3 .4,4.6 .5,4.8 .4,.5 .5,-7 .4,2.6 .4,-1 .5,6.5 .4,-2 .4,-7.4 .5,12.5 .4,-9 .4,7.2 .5,-8.8 .4,8 .4,-2.9 .5,1.1 .4,3 .4,-.5 .5,-1.9 .4,-.1 .4,-9.7 .5,7.9 .4,-14.3 .4,-.5 .5,12.8 .4,.4 .4,11.3 .5,-5.6 .4,2.8 .4,-9.6 .5,4.9 .4,4.7 .4,-4.3 .5,-1.3 .4,-1.8 .4,-6.9 .5,0 .4,-3.7 .4,12.2 .5,-4.7 .4,-2.8 .5,6.8 .4,-6.3 .4,10.6 .5,5.7 .4,-9.9 .4,-7.7 .5,-5.5 .4,23.3 .4,-10.6 .5,-10.9 .4,14.9 .4,-18.4 .5,8 .4,1.2 .4,-.9 .5,-5.3 .4,23.4 .4,-18.7 .5,5 .4,-2.4 .4,-11 .5,6.8 .4,5 .4,4.7 .5,-8.7 .4,4.7 .4,-4.9 .5,6.1 .4,-20.6 .4,20.4 .5,-8.3 .4,.2 .4,-15.3 .5,11.8 .4,11.1 .4,11.2 .5,-20.3 .4,.2 .4,7.6 .5,-1.5 .4,-6 .5,2.7 .4,-1.6 .4,6.6 .5,1 .4,6.4 .4,-5.8 .5,-1.8 .4,-3.5 .4,5.1 .5,-13.1 .4,21 .4,-12.7 .5,7.4 .4,-14.9 .4,12.1 .5,-4.3 .4,-4.1 .4,-3.4 .5,-1.5 .4,17.8 .4,-4 .5,-7.5 .4,.4 .4,-6.3 .5,-7.6 .4,.1 .4,7.9 .5,2.9 .4,-7 .4,13.1 .5,-2 .4,-2.5 .4,-13.1 .5,10.3 .4,1.1 .4,-8.4 .5,-6.4 .4,27.5 .5,-8.9 .4,-6.9 .4,13.3 .5,-3.4 .4,-4.6 .4,-1.7 .5,3.6 .4,4.5 .4,-9.5 .5,-2.2 .4,5.4 .4,-23.1 .5,19.5 .4,-3.5 .4,2.5 .5,-1.3 .4,3.4 .4,-1.7 .5,-.3 .4,-1.5 .4,3.8 .5,-6.6 .4,9.9 .4,-18.1 .5,12.6 .4,1.5 .4,-11.7 .5,5.5 .4,11.7 .4,-9.9 .5,-5.2 .4,-14.3 .4,22.2 .5,-1.7 .4,3.3 .4,9.6 .5,-14 .4,.8 .5,-5.4 .4,4.3 .4,.4 .5,5.4 .4,-1.2 .4,-8.8 .5,2.1 .4,12.6 .4,-15.6 .5,11.6 .4,6.1 .4,-6.5 .5,-2.5 .4,7.6 .4,-6.7 .5,-2.3 .4,-1.2 .4,9.2 .5,-2.9 .4,5.9 .4,-12.6 .5,.3 .4,-.7 .4,4.9 .5,-6.4 .4,11 .4,-3.8 .5,-8.8 .4,-13.2 .4,7.8 .5,22.1 .4,-10 .4,1.6 .5,-3.8 .4,5.7 .4,-15.5 .5,-.4 .4,2.6 .5,11.6 .4,4.4 .4,-1.4 .5,-3.9 .4,-7.7 .4,14.1 .5,-7.1 .4,1.9 .4,-.3 .5,-2.5 .4,-1.6 .4,1 .5,-4.6 .4,10.5 .4,-2.7 .5,8.2 .4,-19 .4,20.2 .5,-8.3 .4,-.6 .4,-4.2 .5,-.1 .4,-4.5 .4,16.2 .5,-7.4 .4,6.3 .4,.8 .5,-8.9 .4,1.9 .4,-.7 .5,9.3 .4,-5.9 .4,.3 .5,3.8 .4,-5.4 .4,14.4 .5,-20 .4,14.8 .5,1.1 .4,-17.1 .4,13.5 .5,-3.8 .4,4 .4,-13.9 .5,9.8 .4,-8.2 .4,4.5 .5,11.8 .4,-10.4 .4,-14.2 .5,5.8 .4,1.8 .4,14.6 .5,-11.5 .4,-5.7 .4,18.1 .5,-5.8 .4,.7 .4,-7.7 .5,15.1 .4,-10.4 .4,-12.4 .5,5.7 .4,2 .4,4.7 .5,6.3 .4,-10 .4,.9 .5,19 .4,-14.3 .4,-4 .5,3.8 .4,-8.6 .4,12.1 .5,3 .4,-10.4 .5,10.8 .4,-8.7 .4,4 .5,-6.9 .4,-.4 .4,-4.6 .5,11.6 .4,-3.3 .4,.3 .5,-5.9 .4,-.2 .4,3.7 .5,7.5 .4,-1.1 .4,-6.6 .5,6.7 .4,9.9 .4,-11.1 .5,13 .4,-10.6 .4,6.1 .5,-12.5 .4,11.6 .4,-15.9 .5,9.6 .4,-3.9 .4,-11.2 .5,4.2 .4,16.9 .4,-4.4 .5,5.4 .4,-7.4 .4,-20.9 .5,21.2 .4,-5.5 .4,.4 .5,.3 .4,-2.1 .5,-1.3 .4,14.8 .4,-5.4 .5,-7.4 .4,1.5 .4,9.4 .5,-4 .4,-1.3 .4,-9.6 .5,5.4 .4,-4.8 .4,-5.3 .5,19 .4,-8.3 .4,-.6 .5,-3.7 .4,11.6 .4,9 .5,-10.2 .4,2.3 .4,-14.7 .5,9.6 .4,.2 .4,8.6 .5,-10 .4,-6.5 .4,6 .5,-2.5 .4,12.6 .4,-5.3 .5,-2.2 .4,-1.1 .4,4.5 .5,-9 .4,-2.9 .4,-6.5 .5,20.6 .4,-4.6 .4,.9 .5,-4 .4,10.9 .5,-17.9 .4,14.7 .4,-13.8 .5,2.6 .4,-5.2 .4,8.9 .5,-2.6 .4,4.8 .4,-6.9 .5,-5.4 .4,13.2 .4,4.8 .5,-3.7 .4,-5.4 .4,3.1 .5,-14.2 .4,9.2 .4,10 .5,-4.7 .4,-8.9 .4,11.5 .5,-6.7 .4,5.9 .4,-14.5 .5,5.9 .4,5.8 .4,-.2 .5,1.7 .4,-3.8 .4,-1.2 .5,4.6 .4,2.7 .4,-16 .5,8.1 .4,.9 .4,2.5 .5,5.8 .4,-15.7 .5,12.6 .4,-15.2 .4,6.6 .5,1.6 .4,1.8 .4,-2.3 .5,.8 .4,1.2 .4,.5 .5,-10.5 .4,3 .4,6.6 .5,6.5 .4,3.3 .4,12.5 .5,-18.4 .4,-6 .4,6.6 .5,3.4 .4,-3.6 .4,-8 .5,6.5 .4,.5 .4,-9.1 .5,1.4 .4,16.2 .4,-23 .5,16.2 .4,-2.8 .4,11.1 .5,-5.2 .4,-9.8 .4,14.3 .5,-12.2 .4,17.2 .4,-2.2 .5,-11.5 .4,5.7 .5,-3.9 .4,-7.2 .4,13.3 .5,-4.3 .4,3 .4,1.5 .5,2.4 .4,-2.5 .4,-7.5 .5,1.3 .4,2.2 .4,-3.5 .5,-.7 .4,14.1 .4,-9.1 .5,9.5 .4,-17.8 .4,4.9 .5,-2.6 .4,.4 .4,.7 .5,1.2 .4,-2 .4,15 .5,-7.5 .4,-9.4 .4,1.4 .5,8.7 .4,-1.3 .4,-7.7 .5,10.3 .4,-15.7 .4,6.5 .5,14.8 .4,-28.9 .4,15.9 .5,7.9 .4,-7.7 .5,-4.4 .4,-.8 .4,-8.1 .5,4.9 .4,9.2 .4,-4.4 .5,3.7 .4,-1.1 .4,2.8 .5,-13.1 .4,8.9 .4,-.3 .5,.1 .4,-4 .4,-8.8 .5,18.7 .4,1.1 .4,10.3 .5,-11.1 .4,6 .4,-7.1 .5,-6.6 .4,5.7 .4,-11.2 .5,9.3 .4,-2.5 .4,-6.4 .5,15.1 .4,-.8 .4,-4.5 .5,2.3 .4,5.4 .4,-12 .5,-8.3 .4,2.6 .4,10.9 .5,-3.2 .4,-11.6 .5,18.6 .4,-7.5 .4,9.3 .5,-3.4 .4,-10.5 .4,3.4 .5,-5.7 .4,-.8 .4,3.5 .5,5.3 .4,5.7 .4,-15.3 .5,10.6 .4,-4.6 .4,-1.8 .5,8.9 .4,-10 .4,11.5 .5,-11.6 .4,-4 .4,11.2 .5,-15 .4,1.7 .4,6.6 .5,1.1 .4,-1.9 .4,-11.6 .5,4.2 .4,12.3 .4,.1 .5,-10.5 .4,8.4 .4,-.5 .5,5.3 .4,-11.8 .4,14.6 .5,-12 .4,11.6 .5,-3.5 .4,-13.1 .4,4.5 .5,4 .4,4.9 .4,-16 .5,6 .4,7.7 .4,-.9 .5,-10.2 .4,1.1 .4,9 .5,-9.7 .4,8.6 .4,4.6 .5,-5.9 .4,-18.1 .4,26 .5,-.1 .4,1.9 .4,-3.6 .5,-17 .4,20.9 .4,-7.1 .5,4 .4,-7.3 .4,-.4 .5,.1 .4,12.4 .4,-8.8 .5,-3.1 .4,-7.2 .4,11.9 .5,-3 .4,1 .4,5.7 .5,-1.7 .4,-4.7 .4,1.5 .5,-.8 .4,4.3 .5,-.1 .4,-3.6 .4,-6.6 .5,11.5 .4,.5 .4,-13.2 .5,9.9 .4,-5.1 .4,-12.1 .5,14.5 .4,6.8 .4,-11.2 .5,.2 .4,11.7 .4,-14.2 .5,1.2 .4,4.2 .4,6.5 .5,.1 .4,-7.7 .4,1.5 .5,2.8 .4,-3.1 .4,-3.2 .5,-1.4 .4,12.2 .4,-6.2 .5,20.9 .4,-15 .4,-9.2 .5,5.2 .4,2.3 .4,.5 .5,.4 .4,.1 .4,-3.9 .5,5.4 .4,10.5 .5,-17.6 .4,.4 .4,7.5 .5,3.7 .4,-2.8 .4,2.7 .5,-8.4 .4,-1.2 .4,6 .5,.2 .4,6.8 .4,-.8 .5,-22.7 .4,17.6 .4,-9.7 .5,-9.6 .4,16.8 .4,-3.7 .5,-1.2 .4,-6.2 .4,1.8 .5,5.4 .4,-8.5 .4,9.3 .5,1.6 .4,-1.8 .4,3.1 .5,-2.4 .4,-7.4 .4,.9 .5,7.9 .4,5.7 .4,-5.5 .5,-4.3 .4,4.5 .4,-13.2 .5,5.5 .4,4.2 .5,2.1 .4,-1.7 .4,.4 .5,-6.1 .4,4.2 .4,5.5 .5,-14 .4,4.4 .4,5.7 .5,12.4 .4,-5.4 .4,6 .5,-1.4 .4,-12 .4,2.6 .5,-7.4 .4,15.8 .4,-2.9 .5,-.9 .4,.5 .4,-1.3 .5,-1.6 .4,.5 .4,6.3 .5,-13.4 .4,-1.7 .4,7.1 .5,7.8 .4,-6.1 .4,-3 .5,7.1 .4,-4.8 .4,-13.5 .5,6 .4,-7.2 .4,12.6 .5,-1.5 .4,6.1 .5,11.2 .4,-18.1 .4,4.1 .5,-2.6 .4,-16.3 .4,13.9 .5,.3 .4,6.7 .4,-7.4 .5,-3 .4,12.7 .4,-4.4 .5,-5.5 .4,.9 .4,3.1 .5,7.6 .4,4 .4,-18.3 .5,16.7 .4,-7.5 .4,2.1 .5,4.1 .4,-13 .4,12.3 .5,-14.6 .4,5.7 .4,-2.6 .5,17.1 .4,-.3 .4,-5.9 .5,-1.6 .4,-7 .4,15.3 .5,-2.3 .4,-3.3 .4,-6.8 .5,-1.6 .4,1.8 .5,9.5 .4,-15.2 .4,7.1 .5,10.2 .4,-5 .4,5.8 .5,-8.9 .4,.1 .4,6.5 .5,-4.9 .4,-2.1 .4,-5.7 .5,-6.4 .4,19.9 .4,-12.8 .5,-2.1 .4,10.8 .4,-11.7 .5,-3.1 .4,5.2 .4,3.5 .5,2.2 .4,1.7 .4,3 .5,-7.2 .4,3.2 .4,-3.1 .5,-3.6 .4,7 .4,-.3 .5,10.1 .4,-8.4 .4,-8.6 .5,8.6 .4,-5.6 .4,12.2 .5,-21.9 .4,7 .5,0 .4,5.2 .4,-1.6 .5,-9.7 .4,-1.8 .4,13.6 .5,8.6 .4,-.1 .4,-12.3 .5,5.7 .4,-8.8 .4,-3.8 .5,17.8 .4,-3.6 .4,-6.8 .5,-.2 .4,8.6 .4,-3.9 .5,-4.4 .4,4.1 .4,-1.9 .5,-2.8 .4,-2.1 .4,10.8 .5,-9.4 .4,-4.9 .4,19.8 .5,-3.8 .4,-5 .4,-4 .5,1.6 .4,-11 .4,9.4 .5,1.8 .4,-3.3 .4,4.1 .5,-8.1 .4,6.2 .5,-11.8 .4,10.2 .4,-4.1 .5,-4.8 .4,6 .4,2.7 .5,-4.2 .4,9.9 1.6,-28.8 .4,42"/>
<path d="M273.4,550.0l.5,65 3.1,-25.4 .4,.2 .5,-2 .4,3.9 .4,14.1 .5,-23.9 .4,17.7 .4,1.1 .5,-13.3 .4,-3.8 .4,7.5 .5,4.3 .4,5.7 .4,-10.6 .5,4 .4,-16.5 .4,-4.3 .5,-6.9 .4,3.8 .4,5.5 .5,3.6 .4,-11.6 .5,15.4 .4,-7.3 .4,-4.4 .5,-1.3 .4,20.2 .4,-14.2 .5,-8.3 .4,-.9 .4,20.3 .5,-18.4 .4,12.7 .4,1.3 .5,-28.2 .4,26.8 .4,-12 .5,-6.9 .4,3.6 .4,7.7 .5,-1.8 .4,0 .4,-9 .5,14.4 .4,1.3 .4,2.2 .5,-6.4 .4,6.5 .4,1.2 .5,-10.5 .4,1.1 .4,-2.5 .5,-.4 .4,2.1 .4,-19.3 .5,10 .4,5.8 .4,-19.5 .5,4.8 .4,22.2 .5,-19.8 .4,4.2 .4,6 .5,-6.6 .4,-3 .4,2.3 .5,.4 .4,-1.3 .4,5.4 .5,10.4 .4,-9.5 .4,9.2 .5,-6.8 .4,.5 .4,-2.1 .5,-6.8 .4,5.1 .4,-1.1 .5,-10.7 .4,13.6 .4,-1.5 .5,-1.8 .4,-7.1 .4,-15.6 .5,30.2 .4,-11.6 .4,-15.9 .5,20.8 .4,-10.2 .4,10.1 .5,-6.1 .4,8.9 .4,-6.9 .5,.1 .4,-1.1 .4,7.8 .5,-19 .4,18.1 .5,-3.8 .4,-9.3 .4,4.1 .5,-3.3 .4,3.8 .4,6.6 .5,-12 .4,10.5 .4,1.5 .5,-2.2 .4,6.9 .4,-12.1 .5,5.7 .4,13.2 .4,-18.1 .5,-1.3 .4,1.1 .4,4.4 .5,-9 .4,2.8 .4,-11.2 .5,5.3 .4,.2 .4,-1 .5,5.3 .4,8.5 .4,-8 .5,-6.9 .4,11.6 .4,-.5 .5,-11.7 .4,11.6 .4,-9.1 .5,3.3 .4,-.8 .4,11.6 .5,-12.2 .4,3.8 .5,3.7 .4,6.4 .4,1.1 .5,-16.3 .4,16.4 .4,-6.6 .5,6.7 .4,-1.1 .4,-11.7 .5,4.3 .4,-2.5 .4,5 .5,9.5 .4,-11.9 .4,-5.3 .5,23.8 .4,-26.2 .4,7.4 .5,0 .4,-9.3 .4,15.3 .5,2 .4,-8.4 .4,1 .5,-1.6 .4,-11.8 .4,14.9 .5,-11 .4,2.2 .4,10 .5,4 .4,-13.3 .4,15 .5,4.6 .4,-11.8 .4,-1.8 .5,2.1 .4,-4.4 .5,-3.4 .4,11.2 .4,.6 .5,-9 .4,.7 .4,-1.6 .5,-.5 .4,-2 .4,-3.9 .5,17.9 .4,-9.3 .4,3.1 .5,12.8 .4,-16.8 .4,7.9 .5,-14.3 .4,5.4 .4,9.8 .5,-7 .4,-8.7 .4,-.7 .5,13.9 .4,-9.4 .4,11.9 .5,-2.9 .4,-4.4 .4,1.9 .5,6.1 .4,-5.3 .4,-7.2 .5,9.5 .4,-5.1 .4,1 .5,5.9 .4,-1.8 .4,5.1 .5,-8.8 .4,-1.9 .5,.9 .4,5.3 .4,-8.7 .5,3.3 .4,-3.5 .4,.5 .5,4.5 .4,18.9 .4,-20.4 .5,4.7 .4,-1.1 .4,-1.9 .5,1.5 .4,14 .4,-16.1 .5,13.6 .4,-6.9 .4,-11 .5,1.6 .4,1.4 .4,-4.5 .5,16.3 .4,-5.3 .4,.8 .5,-11.3 .4,10.8 .4,-7.3 .5,21.5 .4,-18.3 .4,2.7 .5,1 .4,-6.5 .4,.6 .5,-.1 .4,9 .4,-11.4 .5,4.1 .4,3.5 .4,-5.4 .5,-6.9 .4,1.2 .5,5.6 .4,-4 .4,14 .5,-6.9 .4,-.3 .4,-7.2 .5,11.1 .4,-6.4 .4,-4.3 .5,2.2 .4,21.8 .4,-21.6 .5,-1.9 .4,14.6 .4,-3 .5,-7.5 .4,12 .4,-20.5 .5,7.1 .4,-8.4 .4,21.6 .5,-9.5 .4,18.3 .4,-15.4 .5,.1 .4,-11.6 .4,-.4 .5,4.9 .4,10 .4,-14.1 .5,-9.7 .4,23.3 .4,.4 .5,-13.3 .4,9.8 .4,4.8 .5,.3 .4,-19.7 .5,11.7 .4,-6.1 .4,12.5 .5,-6.4 .4,-9.4 .4,9.4 .5,3.5 .4,-15.5 .4,1.4 .5,4.8 .4,2.7 .4,-2 .5,-9.1 .4,1.8 .4,11.1 .5,3.2 .4,-9.4 .4,7.6 .5,12.4 .4,-15.1 .4,-1.7 .5,-1.9 .4,8.5 .4,-1.7 .5,.2 .4,-4.6 .4,5.7 .5,0 .4,-4.1 .4,9.4 .5,-19.7 .4,16.4 .4,-6.1 .5,7 .4,7.7 .4,-13.5 .5,-1.8 .4,1.3 .5,10.1 .4,1.2 .4,-10.1 .5,3.5 .4,8.4 .4,-9.2 .5,-14.9 .4,4.9 .4,2.4 .5,6.4 .4,-7 .4,14.2 .5,-13.7 .4,14.9 .4,-16.2 .5,14.5 .4,-8.4 .4,8.9 .5,3.9 .4,-1.5 .4,-5.2 .5,-13.1 .4,-.5 .4,-17.4 .5,34 .4,-1.5 .4,-1.8 .5,-15.9 .4,28.5 .4,-25.1 .5,11.2 .4,-18.3 .4,7.4 .5,13.4 .4,-1.5 .4,-15.5 .5,7.3 .4,8.8 .5,-21.8 .4,19.1 .4,-17.1 .5,15.9 .4,-6.6 .4,9.1 .5,-11.1 .4,1.1 .4,-.1 .5,-4.6 .4,4.9 .4,-5.5 .5,3.2 .4,9.1 .4,-7.4 .5,10.2 .4,-2.8 .4,.9 .5,-14.6 .4,11.4 .4,7.5 .5,-4 .4,2.3 .4,2.2 .5,-22.5 .4,15.3 .4,-.2 .5,-5.5 .4,-8.3 .4,10.7 .5,-2.3 .4,15.5 .4,-4.9 .5,-12.9 .4,-5 .4,1.4 .5,5.7 .4,-5.1 .5,19.7 .4,-23.5 .4,7.9 .5,1.6 .4,1.8 .4,-10 .5,5 .4,2.8 .4,.9 .5,-6.8 .4,1.8 .4,3.7 .5,12.4 .4,-23.2 .4,13.9 .5,6.4 .4,-22.1 .4,20.8 .5,-.5 .4,-10 .4,6.5 .5,3.6 .4,-12.1 .4,2.6 .5,-9.7 .4,2.6 .4,5.5 .5,-1.3 .4,12.4 .4,-13.7 .5,-7.4 .4,15.3 .4,0 .5,-4 .4,-4.1 .4,-5 .5,.9 .4,15.8 .5,-5.6 .4,-5.2 .4,2.2 .5,-5.8 .4,-4.5 .4,3.2 .5,2.9 .4,-11.9 .4,1.2 .5,-2.3 .4,9.2 .4,7.6 .5,-14.6 .4,1.3 .4,-3.7 .5,8.2 .4,-5.6 .4,1.1 .5,-.9 .4,24.5 .4,-17.4 .5,-4.4 .4,1.3 .4,9.6 .5,.6 .4,-5.4 .4,-16.6 .5,21.6 .4,.4 .4,-2.3 .5,-2.4 .4,-3.1 .4,8.1 .5,-11.2 .4,9.7 .4,-11.4 .5,.6 .4,-.3 .5,-.7 .4,.7 .4,9.3 .5,6.1 .4,-16.5 .4,-2.3 .5,17 .4,-11.5 .4,4.7 .5,-.7 .4,5.7 .4,-13 .5,15.1 .4,-2.4 .4,-21.9 .5,15.2 .4,-1.5 .4,5.8 .5,-3.1 .4,-4.9 .4,3.1 .5,5.3 .4,-2.1 .4,-1.2 .5,17.6 .4,-12.3 .4,-11.9 .5,9.3 .4,1.7 .4,-9.6 .5,8.4 .4,-6.9 .4,-10 .5,19.1 .4,2.2 .4,.1 .5,-5.4 .4,-3.1 .4,6.2 .5,1.6 .4,3.8 .5,3.3 .4,-3.7 .4,-10.1 .5,4.1 .4,-9.8 .4,15.8 .5,-.8 .4,4.6 .4,-4.9 .5,8.1 .4,-16.5 .4,7.7 .5,-4.1 .4,.4 .4,-11.3 .5,7.6 .4,-9 .4,12.2 .5,-2.6 .4,6.2 .4,-14.2 .5,9.6 .4,2 .4,-14.9 .5,29 .4,-8.4 .4,-9.1 .5,19.6 .4,-3.8 .4,-28 .5,16.1 .4,-2.3 .4,5 .5,-7.2 .4,5.2 .4,2.6 .5,-18.8 .4,19.3 .5,9.6 .4,-9.3 .4,7.7 .5,3.3 .4,-9.4 .4,.9 .5,.3 .4,-6 .4,20 .5,-13.3 .4,1 .4,3 .5,4 .4,-20.8 .4,2.6 .5,8.8 .4,2.9 .4,-12.7 .5,-1.1 .4,15.9 .4,-.2 .5,-7.4 .4,.1 .4,-2.4 .5,-3.9 .4,2.2 .4,7.8 .5,-2.5 .4,8.6 .4,-16.8 .5,-2.7 .4,16.8 .4,-11 .5,4.7 .4,2.6 .4,-9.4 .5,-2 .4,13.4 .5,-21.9 .4,24.7 .4,-17.6 .5,19.2 .4,-3.6 .4,-.4 .5,2 .4,-2.5 .4,-11 .5,16.3 .4,-5 .4,2.6 .5,-4.3 .4,-.8 .4,8.9 .5,.2 .4,-5.1 .4,-10.5 .5,2.1 .4,-.5 .4,15.8 .5,-4.5 .4,-3.1 .4,-1.5 .5,-4.2 .4,11.5 .4,-13.6 .5,1.5 .4,12.5 .4,-1.5 .5,-5 .4,-8.8 .4,.1 .5,15.6 .4,-3.4 .4,8.3 .5,-14.4 .4,3 .5,-6.3 .4,19.1 .4,-24.5 .5,17 .4,7.4 .4,-18.9 .5,-3.5 .4,3.2 .4,-3 .5,13.1 .4,-3.2 .4,-6 .5,4.7 .4,13.2 .4,-12.9 .5,-1.1 .4,17.4 .4,-20.9 .5,3.1 .4,14.4 .4,-10.6 .5,-14.4 .4,7.7 .4,-10.2 .5,11.9 .4,7.2 .4,-14.6 .5,23.6 .4,-2 .4,-3.4 .5,-11.3 .4,5.7 .4,3.9 .5,3.1 .4,2.4 .4,-25.5 .5,10.8 .4,-3.3 .5,6.1 .4,4.2 .4,15.5 .5,-17.7 .4,7.5 .4,-5.9 .5,-1 .4,13.2 .4,-21.2 .5,13.4 .4,10.4 .4,10.1 .5,-29.2 .4,-3.1 .4,-2.4 .5,6.4 .4,3 .4,.2 .5,8.3 .4,-10.7 .4,4.8 .5,-14.7 .4,7.4 .4,3.8 .5,-16.4 .4,18.5 .4,5.7 .5,-6 .4,1.1 .4,-1.7 .5,-8.8 .4,9.2 .4,-4.5 .5,4.9 .4,-.1 .4,.3 .5,-10.7 .4,9.4 .5,13.5 .4,-6 .4,-8.7 .5,-3.7 .4,12.8 .4,-7.4 .5,-13.2 .4,9.9 .4,15.9 .5,-25.2 .4,13.1 .4,-6.1 .5,5.1 .4,-2.6 .4,-3.5 .5,-12.7 .4,17.6 .4,1.9 .5,-1.3 .4,-6.9 .4,3.3 .5,21.2 .4,-25 .4,6 .5,-6.9 .4,7.7 .4,3.5 .5,7.3 .4,-7.4 .4,-1.6 .5,2.7 .4,1.5 .4,-4.4 .5,.1 .4,9.3 .4,-14.4 .5,4.7 .4,-6.2 .4,3 .5,14.9 .4,-16.3 .5,9.1 .4,11.9 .4,-11.8 .5,-5.1 .4,-4.6 .4,-13.2 .5,11.9 .4,.2 .4,14.1 .5,-2 .4,-14.9 .4,14.4 .5,-9.4 .4,18.4 .4,-2.6 .5,-5.9 .4,-7.9 .4,16.2 .5,-6.6 .4,2.2 .4,-4.5 .5,-5.9 .4,7.9 .4,-12 .5,12.2 .4,-4.6 .4,-13.7 .5,15.9 .4,-4.1 .4,-2.6 .5,2.2 .4,6.4 .4,-14.4 .5,.5 .4,13.3 .4,-4.1 .5,-14.4 .4,13.7 .5,-13.6 .4,17.8 .4,-3.2 .5,1.4 .4,-15.1 .4,5.4 .5,12.2 .4,-16.9 .4,14.2 .5,-5.6 .4,2.6 .4,-7.3 .5,10.6 .4,-1.6 .4,3.4 .5,12 .4,-20 .4,2.1 .5,-8.4 .4,20.8 .4,-15.7 .5,8.4 .4,-14.3 .4,6.6 .5,6.3 .4,-.9 .4,-5.7 .5,8.8 .4,-5.9 .4,7 .5,-9.6 .4,6.6 .4,-8.4 .5,13 .4,-9.6 .4,.4 .5,-4.7 .4,11.7 .5,-6.4 .4,-2.9 .4,11.5 .5,-15.6 .4,12.9 .4,3.8 .5,-24.1 .4,19.5 .4,-2.7 .5,-2.7 .4,1.1 .4,-11.8 .5,12.7 .4,-2.1 .4,-12.8 .5,9.6 .4,-7.7 .4,9.6 .5,-7.3 .4,7.3 .4,-11.5 .5,6.5 .4,.9 .4,1.4 .5,10 .4,7.6 .4,-27.5 .5,17.5 .4,-8.4 .4,-.1 .5,-.2 .4,1.1 .4,.3 .5,6.7 .4,3.1 .4,-6.9 .5,-2.5 .4,3.8 .5,-1.5 .4,10.3 .4,-20.6 .5,-3.5 .4,8.1 .4,4 .5,-4.1 .4,3.1 .4,-21 .5,13.2 .4,.5 .4,-5.3 .5,5.3 .4,2.5 .4,4.3 .5,-9.9 .4,-5.6 .4,14.9 .5,11 .4,-13.2 .4,-.5 .5,-8.8 .4,8.2 .4,9.3 .5,-26.5 .4,21.2 .4,-22.3 .5,24.6 .4,-5.5 .4,-8.9 .5,3.8 .4,9.5 .4,-20.6 .5,15.9 .4,-6.1 .4,-7.1 .5,7.7 .4,-25.5 .5,8.3 .4,-10.8 .4,5.5 .5,1.5 .4,-18.4 .4,11 .5,-2.7 .4,-9.1 .4,1 .5,5.7 .4,-4.6 .4,12.3 .5,-16.8 .4,1.3 .4,20.6 .5,-15.8 .4,21.5 .4,-6.2 .5,7.9 .4,-4.5 .4,13.1 .5,5 .4,2 .4,-2.3 .5,-12.1 .4,17.4 .4,-5.5 .5,9.7 .4,-19.9 .4,15.1 .5,-5.7 .4,3.7 .4,7.4 .5,0 .4,4.5 .4,-6.8 .5,.7 .4,-1.5 .5,-10.5 .4,16.3 .4,-13.7 .5,2.4 .4,7 .4,-7.9 .5,1.7 .4,-14.7 .4,11.8 .5,-1.6 .4,3.6 .4,8.6 .5,-5.8 .4,1.1 .4,1.9 .5,6.7 .4,.7 .4,-4.7 .5,-4.6 .4,8.3 .4,-8.4 .5,1 .4,3.7 .4,-5.7 .5,-4.2 .4,-.9 .4,6.8 .5,3.5 .4,2.9 .4,-10.5 .5,7 .4,-1.5 .4,-3.6 .5,21.2 .4,-23.7 .4,-.9 .5,6.8 .4,10 .5,-14 .4,12.1 .4,-17.2 .5,4.3 .4,1.3 .4,-.7 .5,2 .4,-1.3 .4,-.9 .5,-5.8 .4,10.5 .4,-3.4 .5,1.2 .4,6.6 .4,-5 .5,-2.1 .4,8.2 .4,-13.5 .5,-8.2 .4,6.8 .4,-4.8 .5,6.7 .4,-.1 .4,1 .5,2.2 .4,2.2 .4,-1.6 .5,-2.3 .4,-3.5 .4,-1.6 .5,3.1 .4,-2 .4,-6.2 .5,4.5 .4,7.6 .4,-4.9 .5,-6.5 .4,7.3 .4,2.5 .5,-12.3 .4,19.1 .5,-3.9 .4,-9.4 .4,8.7 .5,-6.2 .4,2.3 .4,-10.8 .5,2.5 .4,1.5 .4,.7 .5,-3 .4,-7.9 .4,3 .5,10.5 .4,-6.1 .4,14.2 .5,-2.6 .4,-11.3 .4,2.7 .5,-14.4 .4,17.4 .4,2.5 .5,-13.3 .4,-.3 .4,1.1 .5,8.8 .4,1.9 .4,-14.3 .5,3.9 .4,6.1 .4,-2.4 .5,-3.9 .4,5.4 .4,-10.1 .5,-4.3 .4,14.3 .4,.6 .5,3.8 .4,-11.5 .5,-3.9 .4,6.1 .4,-1.2 .5,.7 .4,-1.2 .4,9.6 .5,-7.3 .4,6.9 .4,-14.4 .5,-2.3 .4,13.1 .4,-15 .5,.2 .4,-.1 .4,-5.2 .5,15.8 .4,8.2 .4,-7.9 .5,1.6 .4,-8.4 .4,-4.5 .5,10.1 .4,-11.9 .4,-2.9 .5,4.4 .4,13.1 .4,-5 .5,-4.5 .4,-6.1 .4,.7 .5,8.6 .4,-3.1 .4,-5 .5,13.1 .4,-12.8 .4,-6.9 .5,9.2 .4,9 .5,-2.8 .4,1.3 .4,-12.4 .5,8.5 .4,-2.3 .4,-2.9 .5,-6.6 .4,16.4 .4,-8.1 .5,-4.8 .4,8.8 .4,12.3 .5,-28.5 .4,12.1 .4,10.7 .5,-.1 .4,-20.3 .4,3.3 .5,-10.8 .4,14 .4,-11 .5,3.3 .4,17.2 .4,-18.5 .5,-4.2 .4,12.6 .4,1.2 .5,.1 .4,6.6 .4,-13.2 .5,3.9 .4,5.4 .4,-7.6 .5,12.8 .4,-3.1 .4,-6.7 .5,-1.6 .4,1.4 .5,1.9 .4,-16.3 .4,4.6 .5,3.4 .4,-.6 .4,1.3 .5,0 .4,4.7 .4,-3.1 .5,4.6 .4,-.3 .4,-2.8 .5,-2.8 .4,-2.4 .4,10.5 .5,-8.9 .4,4.6 .4,4 .5,-4.4 .4,-12.9 .4,5.6 .5,19.2 .4,-25.8 .4,20.2 .5,-16.8 .4,8.2 .4,6.8 .5,-14.9 .4,14.1 .4,-23.1 .5,14.5 .4,-3.6 .4,7.3 .5,2.4 .4,2.8 .4,-.5 .5,-11.2 .4,-3.7 .5,9.4 .4,-7 .4,-11.4 .5,-.7 .4,12.3 .4,-.2 .5,3.3 .4,.7 .4,-12.9 .5,13.3 .4,-10.4 .4,11.1 .5,-3.4 .4,11.2 .4,-8.7 .5,-6.6 .4,2 .4,1.9 .5,3.7 .4,1.3 .4,-11.8 .5,-1.1 .4,12.5 .4,-5.3 .5,7.5 .4,-4.2 .4,8.5 .5,-7.6 .4,-13.4 .4,5.6 .5,6.9 .4,-11.6 .4,7.5 .5,4.6 .4,3 .4,-1.8 .5,-17 .4,19 .5,-14.8 .4,6.8 .4,-6.5 .5,12.4 .4,-7.2 .4,2.1 .5,1.3 .4,-3.7 .4,-4.1 .5,14.5 .4,-6.2 .4,1.1 .5,-18.2 .4,-1.9 .4,25.6 .5,-7 .4,-17.8 .4,15.1 .5,-2.6 .4,-7.8 .4,3.6 .5,15.7 .4,-18.3 .4,8.2 .5,-9.3 .4,-5.4 .4,27.7 .5,-12.6 .4,-8.5 .4,.5 .5,.4 .4,-5.8 .4,10.3 .5,1 .4,-7.7 .4,2.4 .5,-9.1 .4,10.7 .4,-16.1 .5,13 .4,10.9 .5,-12.8 .4,21.9 .4,-28.6 .5,6.1 .4,1.4 .4,7.2 .5,2 .4,-8.3 .4,-14 .5,23.8 .4,-6.6 .4,1.1 .5,-20.6 .4,17.3 .4,-5.8 .5,9.6 .4,6.7 .4,-23.4 .5,6.4 .4,1 .4,-7.8 .5,12 .4,-.5 .4,-14 .5,-.9 .4,9.7 .4,-21 .5,19.6 .4,4.4 .4,-.9 .5,-19.3 .4,27 .4,2.2 .5,-34.4 .4,29.2 .4,-5.2 .5,-5.3 .4,-18.9 .5,18.5 .4,-24.4 .4,11.9 .5,7.9 .4,-4.3 .4,-10 .5,6.7 .4,-6.8 .4,3.9 .5,-13.4 .4,-5.9 .4,6.3 .5,-8.9 .4,28.4 .4,17.8 .5,-23.8 .4,5.7 .4,-28.3 .5,11.2 .4,-12.8 .4,21.9 .5,-7.1 .4,-14.5 .4,30 .5,-18.6 .4,9.8 .4,1.1 .5,6.3 .4,-2.3 .4,-16.1 .5,-3.9 .4,-5.7 .4,-5.7 .5,34.8 .4,-29.8 .4,24.3 .5,-29.2 .4,1.3 .5,20.6 .4,-14.9 .4,-8.7 .5,29.7 .4,-36.9 .4,5.3 .5,18.1 .4,9.9 .4,-19.6 .5,-11 .4,37.9 .4,-28.4 .5,-8.6 .4,8.9 .4,12.8 .5,-50.6 .4,21.6 .4,21.7 .5,-2.7 .4,-6.5 .4,-3 .5,8.7 .4,5.7 .4,-21 .5,1.3 .4,14.5 .4,-14.3 .5,-12.8 .4,14.1 .4,-11.3 .5,21.9 .4,3.6 .4,-18.5 .5,6.8 .4,6.4 .4,11.7 .5,-2.6 .4,-8.8 .5,1.7 .4,13 .4,-8.3 .5,-1.2 .4,-19.5 .4,16.2 .5,3.5 .4,-4.2 .4,-13.5 .5,-9.4 .4,30.5 .4,.6 .5,-5.3 .4,-11.8 .4,6.4 .5,5.9 .4,11.3 .4,-7 .5,-10.3 .4,4.8 .4,-7.3 .5,38.4 .4,-30.5 .4,28 .5,-13.4 .4,20.4 .4,-35.1 .5,23.8 .4,-19.5 .4,1.3 .5,2.8 .4,-6.3 .4,6.2 .5,8.8 .4,24.5 .4,-25.3 .5,-12.9 .4,27.5 .5,10.2 .4,-48.5 .4,38.5 .5,-22.8 .4,-4.9 .4,32 .5,10.9 .4,5.6 .4,-21.9 .5,-4.2 .4,7.7 .4,5.9 .5,4.6 .4,6.6 .4,-10.9 .5,3.1 .4,-3.6 .4,-11.1 .5,15.2 .4,13.1 .4,-7.9 .5,-33.6 .4,44.2 .4,-27.3 .5,37.4 .4,-1.1 .4,-16.2 .5,14.1 .4,-30.1 .4,7.7 .5,-5 .4,12.6 .4,-2.7 .5,1.9 .4,-1.4 .4,15 .5,-16.5 .4,-5 .5,5.8 .4,3.8 .4,-.5 .5,-16.1 .4,5.6 .4,1.8 .5,-6.7 .4,-7.4 .4,10.4 .5,-21.4 .4,24.4 .4,-10.4 .5,9.9 .4,1.8 .4,21 .5,.8 .4,2.4 .4,-21.7 .5,-5.9 .4,13.4 .4,-18.9 .5,9.4 .4,-6.5 .4,7.7 .5,8.6 .4,-17.2 .4,13.7 .5,-.1 .4,1 .4,3.3 .5,-7.7 .4,3.6 .4,-1.8 .5,-10.4 .4,28.8 .4,-6.6 .5,.4 .4,-11.3 .5,-9.1 .4,18.8 .4,-9.8 .5,25 .4,.2 .4,-19.6 .5,17.5 .4,-4.9 .4,-6.4 .5,-12.6 .4,20.2 .4,3.2 .5,.9 .4,-12.2 .4,5.9 .5,.8 .4,.5 .4,-5.1 .5,15.8 .4,-3.9 .4,-8 .5,8 .4,5.5 .4,-5 .5,.3 .4,4.8 .4,-13.2 .5,13.7 .4,-11.6 .4,8.4 .5,9.9 .4,-14.5 .4,15.1 .5,-3.8 .4,7 .4,-25.1 .5,-21.1 .4,27.3 .4,27.8 .5,-15.5 .4,-4.6 .5,3 .4,4.2 .4,-5.2 .5,22.7 .4,-19.3 .4,-12.7 .5,.7 .4,10.8 .4,1.3 .5,7.8 .4,1.5 .4,1.1 .5,-18.1 .4,13.4 .4,-9.4 .5,7.8 .4,-10.7 .4,21.7 .5,1 .4,-9.1 .4,-11.3 .5,18.4 .4,-6.5 .4,-14.5 .5,18.1 .4,2 .4,-3.5 .5,-20.5 .4,22.3 .4,2.4 .5,-14.1 .4,15.2 .4,-5.2 .5,4.1 .4,-24.4 .4,13 .5,6.9 .4,-17.9 .5,14.6 .4,14.4 .4,-29.4 .5,26.6 .4,-4.6 .4,-16.2 .5,.7 .4,-.6 .4,10.7 .5,-24 .4,27.2 .4,-19.9 .5,10.4 .4,-.6 .4,10.6 .5,-16.1 .4,1.3 .4,18.1 .5,3.9 .4,-15.6 .4,-3 .5,5.4 .4,-1.9 .4,-.8 .5,-9.4 .4,-11.3 .4,22.1 .5,-2.9 .4,10.7 .4,-.4 .5,4.6 .4,-19.7 .4,11 .5,-18.2 .4,13.5 .4,2 .5,-11.4 .4,5.5 .5,23.1 .4,-30.3 .4,17.1 .5,-13.1 .4,11.4 .4,-32 .5,11.3 .4,9.5 .4,17.2 .5,-16.9 .4,-10.1 .4,7.1 .5,10.9 .4,-21.5 .4,14.5 .5,-2.6 .4,-2.1 .4,7.2 .5,-10.8 .4,12 .4,.3 .5,9.9 .4,-12.8 .4,-3.9 .5,-9.7 .4,5 .4,-7.2 .5,24.3 .4,-33.9 .4,24.8 .5,-.2 .4,1.1 .4,-10.7 .5,23.6 .4,-23.8 .4,-12.2 .5,7.8 .4,-1.4 .5,18 .4,-12.9 .4,-8.7 .5,-.7 .4,6.4 .4,-3.5 .5,2.7 .4,9.6 .4,-22.7 .5,5.9 .4,8 .4,-17.1 .5,19.8 .4,6.7 .4,-12.6 .5,6.4 .4,-12 .4,3.1 .5,1.8 .4,-4.4 .4,11.9 .5,-18.7 .4,13.1 .4,-15.4 .5,20.2 .4,-3.3 .4,-12.2 .5,-20.4 .4,4 .4,-21.4 .5,37.5 .4,-16.2 .4,-4.6 .5,7.4 .4,-18.4 .4,9.8 .5,6.4 .4,8.1 .5,14 .4,-37.7 .4,19.7 .5,-20 .4,-6.6 .4,15.9 .5,-6.5 .4,-19.8 .4,16.9 .5,23.9 .4,-36.5 .4,-1.8 .5,24.4 .4,-14.4 .4,-14.8 .5,14.5 .4,-15 .4,-5.1 .5,13.7 .4,-18.7 .4,20.2 .5,9 .4,-31.5 .4,-2.3 .5,-2.9 .4,6.4 .4,-12.6 .5,9 .4,6.7 .4,-27.5 .5,14.8 .4,9.7 .4,-6.7 .5,-25.8 .4,26.3 .4,-29.8 .5,25.7 .4,-34.8 .5,28.8 .4,-12.5 .4,-.8 .5,-1.2 .4,-8 .4,18.5 .5,-4.4 .4,8.4 .4,-22.2 .5,20.3 .4,3.3 .4,-25.5 .5,28 .4,3.5 .4,-36.4 .5,3.2 .4,44.5 .4,-28.2 .5,-6.6 .4,-10.9 .4,20.7 .5,-15 .4,10.8 .4,-2.8 .5,2.9 .4,1.9 .4,-13 .5,9.2 .4,1.2 .4,-11.9 .5,-6.7 .4,12.4 .4,16.6 .5,-23.8 .4,-4.3 .4,9.7 .5,-10.8 .4,6.6 .4,-2.1 .5,-7.6 .4,11.4 .5,-16.5 .4,.8 .4,-13 .5,11 .4,12.5 .4,11.8 .5,23.8 .4,-42 .4,-5 .5,31 .4,-44.8 .4,30.6 .5,-7.8 .4,17.4 .4,-24 .5,4.8 .4,-24.7 .4,13.9 .5,7.5 .4,-7 .4,-2.1 .5,23.1 .4,-33.3 .4,-2.8 .5,2.2 .4,9.5 .4,-3.1 .5,8.2 .4,-5.3 .4,32.1 .5,-32.2 .4,7.7 .4,10.8 .5,24.2 .4,-31.3 .4,-3.8 .5,21.3 .4,-17.3 .5,-14 .4,1.4 .4,15.5 .5,-11.1 .4,33.5 .4,-7.4 .5,17.7 .4,-17.9 .4,-6.2 .5,14.7 .4,.7 .4,-19.4 .5,35.4 .4,-18.5 .4,9.3 .5,-15.8 .4,22.1 .4,17.5 .5,-28.7 .4,-8.3 .4,16.2 .5,2 .4,8.3 .4,-25.4 .5,33.6 .4,-7.1 .4,-5 .5,-9 .4,18.9 .4,12.1 .5,-5.3 .4,1.9 .4,-2.9 .5,4.6 .4,-16.8 .4,34 .5,-2.8 .4,-11.6 .5,6.1 .4,-13 .4,8.5 .5,16.4 .4,-9.2 .4,-1.8 .5,11.2 .4,12.2 .4,-14.5 .5,18.3 .4,3.9 .4,3 .5,1.7 .4,-1.7 .4,-1.7 .5,13.1 .4,-17.2 .4,21.5 .5,-22.8 .4,10.8 .4,5.4 .5,-17.7 .4,22.1 .4,6.1 .5,-18.4 .4,8.8 .4,9.7 .5,.6 .4,3 .4,-20.9 .5,12.6 .4,12.7 .4,-21 .5,2.8 .4,10.2 .4,1.1 .5,-9.5 .4,4.4 .5,7.7 .4,2.8 .4,14 .5,-5.7 .4,-4 .4,-.8 .5,6.6 .4,14.9 .4,-20.3 .5,-2.8 .4,-1.3 .4,9.9 .5,-7.4 .4,-4.3 .4,9.2 .5,1 .4,13.6 .4,5.6 .5,-13.5 .4,1 .4,12.2 .5,-6.4 .4,-1.6 .4,9.9 .5,-11.7 .4,12.6 .4,11.5 .5,-24.4 .4,14.8 .4,-3.9 .5,12.1 .4,-2.1 .4,-13.2 .5,4.9 .4,-5.2 .4,13.8 .5,-13.9 .4,5.6 .5,7.2 .4,-9.9 .4,-4.5 .5,-.6 .4,.9 .4,6.1 .5,-.9 .4,5.5 .4,-3.6 .5,9.2 .4,-3 .4,4.9 .5,-14.4 .4,-4.2 .4,18.1 .5,-6.5 .4,-17.8 .4,10.9 .5,7.3 .4,5.7 .4,8.3 .5,-8.7 .4,-6.1 .4,-5.2 .5,-2.8 .4,1.2 .4,-3.1 .5,7.8 .4,7.8 .4,-3.9 .5,-10.6 .4,12 .4,3.2 .5,-8.9 .4,-.8 .4,1.9 .5,3.3 .4,-17.4 .5,7.8 .4,-3.2 .4,9.7 .5,3.3 .4,-7.4 .4,11.5 .5,-6.1 .4,.7 .4,-1.2 .5,-9 .4,20.5 .4,-10.7 .5,-13.4 .4,16 .4,2.1 .5,-15.5 .4,9.8 .4,10.6 .5,-7.3 .4,-3.1 .4,-.5 .5,2.8 .4,-10.3 .4,4 .5,5.2 .4,-2.3 .4,9.6 .5,-22.5 .4,27.6 .4,-18.2 .5,-1.4 .4,4.2 .4,8 .5,-9.2 .4,11.3 .4,-1.3 .5,-7.7 .4,-1.6 .5,.1 .4,2.9 .4,-11.8 .5,20 .4,-9.4 .4,1.3 .5,-6.4 .4,.2 .4,15.2 .5,-24.3 .4,15.3 .4,-7.3 .5,-6.5 .4,16.7 .4,-11.3 .5,10.9 .4,-7.6 .4,-12.7 .5,14.2 .4,-7.8 .4,6.5 .5,-.7 .4,5.3 .4,-2.6 .5,-2.8 .4,-2.7 .4,-6.4 .5,-4.9 .4,15.9 .4,-10.5 .5,4.8 .4,7.8 .4,1 .5,-.2 .4,-5.1 .4,1.5 .5,-.5 .4,-1.4 .4,-10.7 .5,10.1 .4,4.2 .5,-7.3 .4,.8 .4,-18.6 .5,9.8 .4,23.9 .4,-24.5 .5,10.9 .4,4.3 .4,-2 .5,-6.1 .4,-2 .4,-9.1 .5,20.9 .4,-11.9 .4,7.3 .5,-19.7 .4,-3.1 .4,-.6 .5,19.4 .4,-8.2 .4,-.2 .5,3.3 .4,-1.7 .4,-.1 .5,-6.4 .4,-2.6 .4,7.6 .5,5.7 .4,-11.6 .4,4.4 .5,-3.7 .4,5.4 .4,-12.2 .5,21.5 .4,-1.3 .4,-12.2 .5,-2.1 .4,-11.7 .5,18.2 .4,-5.8 .4,-.1 .5,-13.3 .4,16.1 .4,7.6 .5,-21.2 .4,5.6 .4,10 .5,-3.8 .4,.3 .4,17.3 .5,-11.9 .4,-8.6 .4,-21.2 .5,18.8 .4,-8.3 .4,.7 .5,18.2 .4,-16.7 .4,6.8 .5,11.2 .4,-15.1 .4,1.5 .5,-4.5 .4,5.1 .4,-8 .5,13.1 .4,-6.4 .4,8.3 .5,1.3 .4,-4.9 .4,1.6 .5,-3.6 .4,6.6 .4,3 .5,-3.2 .4,7 .5,-8 .4,-1.4 .4,4 .5,-14.6 .4,8 .4,-10.8 .5,16.6 .4,5.2 .4,-15.7 .5,4.3 .4,1.2 .4,12.9 .5,-5.4 .4,6.9 .4,-4.4 .5,.5 .4,-18.3 .4,-.9 .5,24.4 .4,7.7 .4,-25.2 .5,1.1 .4,16.7 .4,6.8 .5,-22.8 .4,3.6 .4,11.9 .5,-4.2 .4,.2 .4,3.8 .5,-14.2 .4,2 .4,17.8 .5,-22.8 .4,18.2 .4,-9.6 .5,13.7 .4,-10.4 .5,-.5 .4,9.9 .4,-8 .5,.2 .4,-16.8 .4,21.5 .5,-5 .4,9.1 .4,-10.3 .5,-5 .4,18.3 .4,-9.4 .5,-1.5 .4,-7.8 .4,20.5 .5,-3.2 .4,-13.9 .4,13 .5,-1.5 .4,5.3 .4,-8.5 .5,15.8 .4,-30 .4,2.9 .5,17 .4,1.8 .4,-3.2 .5,14.7 .4,-14.5 .4,-14.3 .5,23.8 .4,-10.5 .4,-3.1 .5,7.4 .4,.1 .4,-7 .5,9.2 .4,-2.8 .5,-3.9 .4,.4 .4,-14.2 .5,8.8 .4,.6 .4,3 .5,13.7 .4,-10.8 .4,-2.9 .5,-6.9 .4,6.2 .4,-3.5 .5,-.5 .4,7.5 .4,-12 .5,6.8 .4,12.5 .4,-6.2 .5,-7.2 .4,2.8 .4,-1.3 .5,14.5 .4,-.4 .4,3.1 .5,-14.8 .4,2 .4,7.1 .5,-14.2 .4,4.3 .4,11.6 .5,-11.3 .4,-1.9 .4,9.7 .5,-5.5 .4,-2.7 .4,5.4 .5,-13.6 .4,18 .5,-4 .4,1.2 .4,-1 .5,3.5 .4,-17.8 .4,13.1 .5,10 .4,-15.8 .4,-1.2 .5,1 .4,-5.6 .4,29.3 .5,-21.1 .4,7.2 .4,-12.8 .5,1.7 .4,-1.8 .4,-4.3 .5,7.3 .4,12.1 .4,-13.7 .5,12.6 .4,7.3 .4,-10.9 .5,5.6 .4,1.2 .4,-13.7 .5,1 .4,-9.4 .4,9.6 .5,12.1 .4,-6.5 .4,-3.1 .5,-2.2 .4,-2.7 .4,3.2 .5,20.1 .4,-7.4 .4,-7 .5,-3.7 .4,-3.3 .5,12.7 .4,-10.9 .4,.9 .5,.5 .4,12.1 .4,-8.4 .5,11 .4,-17.3 .4,-.1 .5,-3.1 .4,9.8 .4,-9.5 .5,4.6 .4,14 .4,-5.9 .5,-6.1 .4,.5 .4,-22.5 .5,7.3 .4,20.8 .4,-12.8 .5,1.7 .4,12.3 .4,-15.8 .5,10.8 .4,-3.1 .4,3.6 .5,-1.5 .4,13.4 .4,-7.3 .5,6.4 .4,-16.5 .4,4.4 .5,3.4 .4,10 .4,-5.5 .5,-7.7 .4,-8.5 .5,9.4 .4,-8.7 .4,.7 .5,3 .4,1.4 .4,-1.5 .5,13.2 .4,-9 .4,-6.8 .5,7.8 .4,-11.6 .4,14.2 .5,1.8 .4,.6 .4,-12.7 .5,15.2 .4,-.7 .4,7.3 .5,-9 .4,-3.9 .4,-1.7 .5,-3.1 .4,-1.9 .4,1.7 .5,12.5 .4,-8.7 .4,1.6 .5,-3.3 .4,6.3 .4,3.5 .5,-.8 .4,-13.2 .4,6.9 .5,17.2 .4,-12.6 .4,-3.1 .5,-3.7 .4,-6.8 .5,-2.8 .4,10.9 .4,2.7 .5,-6.5 .4,5.2 .4,5 .5,-.2 .4,4.4 .4,-18.9 .5,12.4 .4,2.7 .4,-3.2 .5,-10.1 .4,-2.3 .4,23.7 .5,-16.4 .4,6.4 .4,-6.6 .5,-1.2 .4,8.8 .4,3.6 .5,-6.9 .4,-1.5 .4,8.3 .5,-7.7 .4,-.2 .4,-2.2 .5,5.6 .4,-2.7 .4,-.5 .5,-.8 .4,3.7 .4,7 .5,-9.3 .4,-5.2 .4,21.6 .5,-8.2 .4,-10.7 .5,-9.1 .4,20.7 .4,-14.3 .5,4.9 .4,-18.7 .4,23.8 .5,2.7 .4,-9.6 .4,-.7 .5,.9 .4,-8.4 .4,.3 .5,15.6 .4,-9.9 .4,2 .5,-.8 .4,6.4 .4,-6.3 .5,4.2 .4,1.1 .4,-9.2 .5,2.9 .4,4 .4,3.4 .5,-3.9 .4,.4 .4,-10.6 .5,3.6 .4,6 .4,-4.9 .5,1.3 .4,.9 .4,10.3 .5,-17.6 .4,12.6 .4,-1.4 .5,-3.2 .4,-7.1 .5,5.1 .4,-3.9 .4,9.3 .5,-6 .4,.8 .4,-7.3 .5,14.6 .4,-22.8 .4,30.4 .5,-24.1 .4,2.4 .4,.8 .5,-7.4 .4,17.1 .4,-12.6 .5,-1.6 .4,13.6 .4,-3.8 .5,-16.3 .4,2 .4,9.4 .5,1.2 .4,3.5 .4,-5.5 .5,9.8 .4,-1.1 .4,-4.8 .5,-2.7 .4,7.6 .4,1.8 .5,-8 .4,-2.6 .4,5.7 .5,-9.1 .4,5.9 .4,2.8 .5,-13.4 .4,2.2 .5,-8.4 .4,9.4 .4,7.3 .5,-6.9 .4,6.5 .4,-3.2 .5,-5.9 .4,14.9 .4,-10.8 .5,8.1 .4,-4.2 .4,-3.4 .5,12.3 .4,-14.8 .4,-1.8 .5,13.3 .4,-6.6 .4,-8 .5,2.5 .4,-6.6 .4,12.9 .5,3.9 .4,-4.5 .4,1.3 .5,4 .4,-8.1 .4,-6.5 .5,.3 .4,7.2 .4,-1.1 .5,-.2 .4,-9.7 .4,7.6 .5,10.1 .4,-9.8 .4,7.8 .5,-6.4 .4,-4.2 .5,9.9 .4,3.5 .4,-7.2 .5,4 .4,-11.9 .4,-4.9 .5,-5 .4,12.6 .4,10 .5,-14.5 .4,-6.3 .4,10.1 .5,-.7 .4,-.6 .4,-7.1 .5,17.5 .4,-15.4 .4,2.4 .5,-9.8 .4,14.6 .4,7.9 .5,-4.9 .4,-16.1 .4,13.4 .5,-13.3 .4,5.8 .4,-1.3 .5,7.8 .4,-1.8 .4,-6 .5,1.1 .4,10.8 .4,-20.7 .5,6.4 .4,18.6 .4,-13.9 .5,-7.7 .4,10.6 .4,2.6 .5,-13.4 .4,5.8 .5,-3.1 .4,9.2 .4,-3.4 .5,-6.2 .4,10.4 .4,-9.9 .5,17.9 .4,-6.1 .4,-11.2 .5,3.4 .4,6.3 .4,-4.9 .5,-11.5 .4,3.3 .4,-.3 .5,1.1 .4,-11 .4,17.2 .5,18.7 .4,-23.1 .4,-.4 .5,-2.9 .4,5.1 .4,-8.7 .5,1.8 .4,5.6 .4,-20 .5,11.4 .4,16.3 .4,-5.5 .5,-4.3 .4,1.3 .4,-19 .5,23.2 .4,-6.8 .4,11.9 .5,-5.6 .4,2.7 .5,-15 .4,-.2 .4,26.1 .5,-15.4 .4,-.9 .4,13.6 .5,-5.1 .4,.9 .4,8.3 .5,-9.8 .4,-3.3 .4,-1.2 .5,-11.6 .4,14.7 .4,.2 .5,-3.1 .4,22.3 .4,-23.5 .5,4.1 .4,-.7 .4,1.2 .5,8.8 .4,-7.5 .4,7.1 .5,13.9 .4,-20.5 .4,-2 .5,.9 .4,13 .4,-6.3 .5,-.2 .4,-5.2 .4,-1.2 .5,17.4 .4,-1.5 .4,-18.4 .5,-.4 .4,2.8 .5,0 .4,10.1 .4,3.8 .5,-10.7 .4,-6.1 .4,13.5 .5,3.7 .4,-21.5 .4,12.8 .5,-8.9 .4,-.1 .4,.3 .5,16.6 .4,-7.6 .4,-7.5 .5,4.5 .4,3.2 .4,-13.2 .5,15.1 .4,-12.1 .4,1.7 .5,17.2 .4,-35.3 .4,31.5 .5,.3 .4,-10 .4,10.4 .5,-7 .4,-5.6 .4,7.3 .5,-6.5 .4,1.3 .4,-4.1 .5,26.4 .4,-11.6 .4,-9.5 .5,-9.4 .4,3.8 .5,.7 .4,-2.2 .4,6.8 .5,.4 .4,13.2 .4,-1.7 .5,-20.9 .4,20.7 .4,-17.9 .5,15.2 .4,-6.4 .4,-1 .5,2.1 .4,-7.3 .4,-3.9 .5,22.6 .4,-24.5 .4,16.6 .5,-12.3 .4,10.1 .4,-3.5 .5,1.5 .4,-7 .4,8.6 .5,11.1 .4,-7.8 .4,4 .5,-13.6 .4,1.6 .4,8.6 .5,-17.9 .4,19.5 .4,-7.9 .5,-1.3 .4,12.8 .4,-17.2 .5,16.9 .4,-19.4 .5,-.6 .4,16.4 .4,1.2 .5,-19 .4,11.5 .4,14 .5,-14.4 .4,-9.6 .4,6.9 .5,2.5 .4,-1.3 .4,-6.9 .5,3.8 .4,7.4 .4,2.1 .5,-5.4 .4,4 .4,-2.1 .5,-12.9 .4,22.6 .4,-1.4 .5,-10.1 .4,-1.8 .4,1.5 .5,.4 .4,4.5 .4,.9 .5,-9.4 .4,-5.7 .4,-.7 .5,19.6 .4,-13.7 .4,-7.6 .5,-8.6 .4,21.1 .4,-5.6 .5,.3 .4,-9.3 .5,3.8 .4,-1.2 .4,5.1 .5,13.6 .4,-18.7 .4,-4.9 .5,15.4 .4,-1 .4,-9.9 .5,4 .4,-6.8 .4,19.6 .5,-10.6 .4,-15.1 .4,18 .5,.6 .4,-18.6 .4,10.7 .5,-.3 .4,-12.1 .4,-1.8 .5,34.8 .4,-30.3 .4,11 .5,-.2 .4,1 .4,-2.4 .5,-7.4 .4,-8.4 .4,-4.7 .5,11.5 .4,-11.9 .4,12.8 .5,-10.3 .4,9.4 .4,-23.1 .5,23.7 .4,-17 .4,4.7 .5,-15.2 .4,13.8 .5,-4.8 .4,5.3 .4,-4.3 .5,10 .4,-28 .4,7.9 .5,-7.3 .4,8.8 .4,7.4 .5,-.6 .4,-12.4 .4,-7.2 .5,10.6 .4,4.2 .4,-16.2 .5,11.1 .4,-7.1 .4,8.6 .5,-8.9 .4,12.6 .4,-12.7 .5,4.5 .4,22.6 .4,-55.4 .5,28.2 .4,.6 .4,3.5 .5,0 .4,-2.5 .4,-6.8 .5,2.6 .4,4.4 .4,-16.2 .5,17.6 .4,-9 .4,9 .5,-12.8 .4,5.2 .5,-6.1 .4,7.6 .4,.8 .5,-13.2 .4,8.1 .4,-7 .5,4.8 .4,-9.2 .4,-2.4 .5,3.1 .4,.1 .4,-8.4 .5,-1.6 .4,-9.4 .4,6.7 .5,-10.4 .4,-9.6 .4,14.5 .5,-22.9 .4,16.8 .4,-7.9 .5,1.5 .4,11.6 .4,-20.1 .5,-3.4 .4,-3 .4,8.4 .5,7.4 .4,-9.9 .4,.6 .5,.9 .4,-3.9 .4,2.7 .5,-10.8 .4,-6.5 .4,8.5 .5,.6 .4,11.1 .5,-6.1 .4,-10.1 .4,15.8 .5,-2.5 .4,-10.1 .4,18.5 .5,-12.3 .4,-5.9 .4,3.4 .5,7.1 .4,-3 .4,-9.7 .5,19.2 .4,-11.7 .4,-4.1 .5,4 .4,3 .4,10.1 .5,-1.3 .4,-21.7 .4,10.2 .5,2.7 .4,1.6 .4,5 .5,-.3 .4,-9.7 .4,21.6 .5,-4.1 .4,-15.1 .4,21.9 .5,-2.8 .4,-8.9 .4,12.5 .5,5.8 .4,-.4 .4,-4.1 .5,6.4 .4,1.6 .5,1.1 .4,9.2 .4,-8.1 .5,9.5 .4,3.4 .4,4.7 .5,-1.5 .4,-4.2 .4,.8 .5,.2 .4,16.9 .4,-12.9 .5,-1.2 .4,4.6 .4,9.8 .5,2.5 .4,-15.5 .4,19.6 .5,-6.3 .4,14.1 .4,-.3 .5,-13.1 .4,-.7 .4,1.3 .5,5.6 .4,6.6 .4,1.8 .5,2.2 .4,3.2 .4,-5 .5,3.3 .4,4.7 .4,6.9 .5,-8.2 .4,-1.5 .4,11.6 .5,-1.9 .4,3.2 .5,-2.7 .4,5.4 .4,-4.8 .5,-2 .4,7.5 .4,-11 .5,15.1 .4,10.8 .4,-21 .5,2.5 .4,9.8 .4,-8.1 .5,9.5 .4,-4 .4,-1.3 .5,9.6 .4,-9 .4,.9 .5,-5.2 .4,14.4 .4,-4.2 .5,-2.4 .4,10.3 .4,-5.8 .5,9.8 .4,-1.2 .4,-8.3 .5,-.7 .4,15.6 .4,-10.3 .5,-3.7 .4,4 .4,-11.2 .5,13.8 .4,-10.9 .4,14 .5,-8.7 .4,6.2 .5,10.9 .4,-2.9 .4,-11 .5,5.4 .4,-10.9 .4,11.1 .5,7.1 .4,-2.4 .4,1.5 .5,-4.7 .4,-11.4 .4,8.9 .5,-8.1 .4,15.3 .4,-8.5 .5,-1.7 .4,-3.8 .4,9.8 .5,2.3 .4,-.9 .4,-14.8 .5,15.9 .4,-7.4 .4,-13.1 .5,22.3 .4,-3.2 .4,-13.7 .5,19.3 .4,-2.9 .4,9.6 .5,-9.1 .4,-2.5 .4,-13.5 .5,28.8 .4,-26.9 .4,8.2 .5,8.4 .4,-7.2 .5,-19.3 .4,19 .4,-.8 .5,11.5 .4,-8.6 .4,12.1 .5,-3.4 .4,.9 .4,-2.9 .5,12.5 .4,-9.3 .4,-.3 .5,-7.6 .4,-2.8 .4,-7.3 .5,-4.7 .4,5.9 .4,15.4 .5,-11.7 .4,4.2 .4,-1.8 .5,3.7 .4,3.8 .4,8.4 .5,-21.4 .4,25.8 .4,-17.3 .5,-3.9 .4,2.3 .4,13.2 .5,-4.7 .4,5.2 .4,-13.5 .5,14.2 .4,-11.5 .4,5 .5,-8.9 .4,2.7 .4,-1.9 .5,11.9 .4,-1 .5,-30.9 .4,25.9 .4,-.1 .5,-10.5 .4,.9 .4,17.7 .5,-11.1 .4,9.2 .4,-.4 .5,-25.5 .4,30 .4,-21 .5,6.2 .4,3.2 .4,4.6 .5,.1 .4,-5.6 .4,.9 .5,4.9 .4,3.8 .4,-9.9 .5,6.9 .4,-.7 .4,-8.7 .5,2.3 .4,1.3 .4,18.7 .5,-15.3 .4,3.8 .4,-.2 .5,-11.1 .4,8.3 .4,-15.8 .5,1.6 .4,13.7 .4,-6.8 .5,5.3 .4,2.5 .5,10.9 .4,-16.7 .4,1.3 .5,-17.7 .4,27.2 .4,-10.7 .5,-4.4 .4,11.4 .4,-6.9 .5,-5.8 .4,-1.1 .4,11.4 .5,2.3 .4,-7.5 .4,-1.2 .5,17.5 .4,-19.6 .4,-4.8 .5,12.6 .4,-10 .4,-6 .5,12.9 .4,-5.5 .4,16.8 .5,-10.4 .4,4.7 .4,2.1 .5,-5.2 .4,3.2 .4,-16.8 .5,1.4 .4,5.9 .4,8.8 .5,-3.8 .4,1.2 .4,1.9 .5,-8.7 .4,-4.6 .5,-.6 .4,17.2 .4,-23.9 .5,1.7 .4,13.3 .4,-10.9 .5,12 .4,-10.8 .4,5.5 .5,-6.5 .4,10.8 .4,-1.3 .5,8.8 .4,-6.9 .4,-.5 .5,-10.9 .4,3.8 .4,-2.2 .5,-9.1 .4,2.3 .4,9.1 .5,3.7 .4,10.5 .4,-18.9 .5,-5.4 .4,16.3 .4,-8.5 .5,-3.2 .4,2.3 .4,-14.2 .5,16.9 .4,2 .4,-1.8 .5,-4.3 .4,2.9 .4,9.6 .5,-15 .4,22.4 .5,-15.8 .4,2.4 .4,19.9 .5,-19.6 .4,-5 .4,5 .5,-11.8 .4,20.1 .4,-9.5 .5,-.8 .4,-5.5 .4,7.8 .5,4.1 .4,-27.3 .4,9.4 .5,15.4 .4,-8.5 .4,3 .5,-8.3 .4,.7 .4,17.5 .5,-5.8 .4,1.4 .4,-28.1 .5,24.9 .4,1.3 .4,.7 .5,-8.6 .4,12.5 .4,1.4 .5,-9 .4,-19.3 .4,18.9 .5,2.2 .4,3.8 .4,-8.8 .5,8.2 .4,-6.2 .5,1.2 .4,-.9 .4,5.6 .5,5.4 .4,-2.5 .4,-14.7 .5,13.5 .4,-8.3 .4,4.8 .5,-22.9 .4,26.5 .4,-8.5 .5,0 .4,3.5 .4,-9.9 .5,2 .4,-13.3 .4,22.7 .5,-7.2 .4,5.3 .4,1.7 .5,-7.3 .4,8.6 .4,-21.6 .5,13.4 .4,5.3 .4,-9.1 .5,6 .4,-4.9 .4,10 .5,.9 .4,-13.3 .4,1.5 .5,4.9 .4,-4.1 .4,3.9 .5,-3 .4,2.7 .5,-10.1 .4,10.2 .4,5.2 .5,-16.7 .4,11.9 .4,-1.4 .5,2.6 .4,-20.3 .4,14.3 .5,-2.1 .4,7.6 .4,1 .5,-27.2 .4,15.3 .4,7.8 .5,.6 .4,-.2 .4,-10.5 .5,3.1 .4,6.3 .4,3.4 .5,-4.5 .4,-9 .4,-16.3 .5,18.7 .4,1.9 .4,.9 .5,4.6 .4,.8 .4,11.5 .5,-15.4 .4,3 .4,9.1 .5,-5.6 .4,-11.8 .4,10.3 .5,-15.1 .4,15.1 .4,.6 .5,-10.3 .4,11.9 .5,-4.2 .4,-7.9 .4,10.2 .5,-11.3 .4,5.2 .4,-10.8 .5,18.9 .4,-12.1 .4,-3.5 .5,3.7 .4,10 .4,5.4 .5,-13.5 .4,-5.3 .4,5.7 .5,-1.1 .4,4.1 .4,-5.1 .5,3.2 .4,-17.5 .4,4.9 .5,7.7 .4,-8.1 .4,2.2 .5,14.1 .4,-7.8 .4,-.1 .5,-.2 .4,-3.5 .4,-.5 .5,2.8 .4,5.3 .4,-3.5 .5,1.1 .4,9 .4,-7.8 .5,4.6 .4,-3.3 .5,4 .4,-14.3 .4,-2.2 .5,14.3 .4,-3.9 .4,3.2 .5,-16.4 .4,28.7 .4,-18.6 .5,16.1 .4,-18.7 .4,.1 .5,-13.6 .4,19.6 .4,-3 .5,-3.4 .4,6.9 .4,-8.7 .5,10.8 .4,-2.7 .4,-.8 .5,-7.1 .4,-.6 .4,14.7 .5,-9.4 .4,-38.4 .4,37.9 .5,-1.8 .4,-8.9 .4,12.9 .5,-6.1 .4,-2.8 .4,14.8 .5,9 .4,-19.7 .4,4.7 .5,-13 .4,17.2 .5,-7 .4,5.4 .4,.9 .5,-9.5 .4,6.9 .4,-6.2 .5,3.3 .4,-2 .4,-11.6 .5,3.4 .4,-6.2 .4,-.9 .5,16.6 .4,6.7 .4,-4.8 .5,-8 .4,22.5 .4,-14.8 .5,5.5 .4,-11.8 .4,5.4 .5,-11.5 .4,4.4 .4,-7.8 .5,11.1 .4,-5.3 .4,-3.3 .5,12.5 .4,-7 .4,0 .5,3.6 .4,-7.7 .4,6.1 .5,-1.6 .4,-1.9 .4,2.4 .5,6.6 .4,-4 .5,-3 .4,-4.6 .4,10.2 .5,4.8 .4,-9.4 .4,-8 .5,25.9 .4,-15.9 .4,13.5 .5,-26 .4,.4 .4,4.3 .5,2.3 .4,-16.6 .4,7 .5,14.2 .4,-6.3 .4,8.9 .5,-5.7 .4,-3.9 .4,5.9 .5,1.1 .4,-8 .4,11.9 .5,-1 .4,-.8 .4,-3.7 .5,1.6 .4,2.8 .4,.7 .5,-2.5 .4,12.2 .4,-7.3 .5,7.4 .4,-1.5 .4,-18.9 .5,25.2 .4,-27.8 .5,15.1 .4,-7.2 .4,2.5 .5,8.9 .4,.1 .4,-3.1 .5,-8.3 .4,6.8 .4,-3.7 .5,-.4 .4,-5.5 .4,2.5 .5,10.3 .4,-12.5 .4,-3 .5,12.9 .4,-.8 .4,-5.5 .5,13.6 .4,-9 .4,.5 .5,-22.4 .4,21.8 .4,7 .5,-17.2 .4,14.2 .4,-7.9 .5,-.7 .4,-.8 .4,-7.3 .5,-5.9 .4,1.4 .4,22.3 .5,-5.8 .4,-14.4 .4,17.3 .5,-1.5 .4,-6 .5,7.2 .4,.1 .4,-2.1 .5,6.1 .4,-14.5 .4,7.5 .5,10.9 .4,3.6 .4,-14 .5,11.7 .4,-15.6 .4,-7.8 .5,16.3 .4,4 .4,-12.8 .5,11.8 .4,-20.1 .4,2.9 .5,3.6 .4,3.4 .4,2.1 .5,1 .4,4.3 .4,-11.5 .5,2.3 .4,15.9 .4,-13.6 .5,7 .4,-4 .4,-2 .5,4.9 .4,-10.3 .4,7.6 .5,3.6 .4,-3.4 .4,-4.3 .5,-1.7 .4,2.6 .5,9.7 .4,-4.6 .4,-8.2 .5,15.1 .4,-14.2 .4,10.3 .5,-7.6 .4,-10.7 .4,10.1 .5,-3.3 .4,3 .4,.4 .5,-2.8 .4,5.5 .4,-2.1 .5,-7.7 .4,11.4 .4,.8 .5,-6.7 .4,3.1 .4,-2.8 .5,-1.7 .4,4.2 .4,5.8 .5,-1.2 .4,-13.1 .4,9.1 .5,7 .4,3.4 .4,-11.8 .5,6.3 .4,-2.9 .4,-8.9 .5,11.1 .4,-7.7 .4,-3.9 .5,20.8 .4,-2.6 .4,-6.4 .5,-10.6 .4,13.7 .5,-6.7 .4,5.2 .4,-4 .5,3.1 .4,-11.9 .4,10.5 .5,1.8 .4,7.2 .4,-22 .5,27.7 .4,1.6 .4,-15.6 .5,-3.9 .4,13 .4,-21 .5,10.8 .4,9 .4,5.6 .5,-6 .4,-5 .4,-.9 .5,1.9 .4,6.1 .4,-23.3 .5,14.5 .4,2.5 .4,-4.8 .5,3.2 .4,9.6 .4,-10.8 .5,-.6 .4,12.5 .4,-10.1 .5,-3.1 .4,-7 .4,8.9 .5,-9.8 .4,8.2 .5,7.2 .4,-7.9 .4,3.3 .5,5.1 .4,3.8 .4,5.8 .5,-2.6 .4,-5 .4,-1.3 .5,-3.5 .4,-4.8 .4,-15.1 .5,22.5 .4,-8.2 .4,14.7 .5,-19.1 .4,-3.2 .4,9.3 .5,12.4 .4,-10.4 .4,-.9 .5,10.8 .4,-9 .4,4.3 .5,-5.5 .4,1.7 .4,26.3 .5,-38.5 .4,24.1 .4,-26.9 .5,1 .4,22 .4,-8.8 .5,1.4 .4,6.2 .4,-10.2 .5,-9.1 .4,13.9 .5,-6.9 .4,17.6 .4,-10.1 .5,2.6 .4,-14.9 .4,11.4 .5,1 .4,2.9 .4,-13.6 .5,12.8 .4,4.4 .4,-10.6 .5,-1.5 .4,7.5 .4,3.5 .5,-9.4 .4,9.1 .4,6.1 .5,-9.6 .4,-4.3 .4,6.9 .5,4.9 .4,-1.2 .4,-8.2 .5,3.8 .4,-9.9 .4,5 .5,-4.1 .4,-1.2 .4,4.2 .5,-3.8 .4,4 .4,-.3 .5,-8.6 .4,4.4 .4,8.2 .5,-7.3 .4,15.9 .5,3.7 .4,-10.8 .4,-3.8 .5,.3 .4,-13.6 .4,7.4 .5,-11.6 .4,17.8 .4,3.1 .5,-5.3 .4,-2.8 .4,-3.8 .5,7.8 .4,-11.9 .4,16.2 .5,-17.2 .4,-2.4 .4,8.9 .5,4.2 .4,-7 .4,3.4 .5,3.5 .4,-7.7 .4,12 .5,-8.2 .4,5.3 .4,-9 .5,-8.2 .4,16.7 .4,2.4 .5,-12.2 .4,4.6 .4,-9.1 .5,-1.8 .4,21 .4,1.3 .5,-15.5 .4,17.5 .5,-17.6 .4,8 .4,-3.8 .5,.5 .4,-19.5 .4,29.3 .5,-17.6 .4,5.4 .4,8.8 .5,-17.2 .4,8.6 .4,-.5 .5,-.6 .4,-7.5 .4,11.5 .5,-12.4 .4,8.7 .4,12.3 .5,-11.5 .4,-10.4 .4,10.9 .5,-11.2 .4,3.7 .4,7.1 .5,-7 .4,4 .4,-21.5 .5,22.2 .4,8.1 .4,-21.9 .5,12.8 .4,10 .4,-5.7 .5,-2.3 .4,1.1 .4,1.1 .5,4.5 .4,6.2 .5,-10.9 .4,-5.2 .4,11.6 .5,-2.7 .4,-2.9 .4,-1.2 .5,-5.7 .4,-7.2 .4,17.4 .5,-15 .4,-2 .4,2.4 .5,8.2 .4,4.5 .4,-3.1 .5,9.1 .4,-32.1 .4,31.2 .5,-13 .4,8.6 .4,-26.5 .5,17.8 .4,22.5 .4,-25.6 .5,15.7 .4,-11.2 .4,3.4 .5,-13.5 .4,8.8 .4,15.5 .5,-5.4 .4,-12.6 .4,5.3 .5,-2.5 .4,7.2 .4,1.6 .5,-4.5 .4,-4.2 .4,4.1 .5,-1.3 .4,-1 .5,-.7 .4,-10.5 .4,6.1 .5,-1 .4,9.8 .4,-4.6 .5,4.2 .4,-2.9 .4,-10.2 .5,9.9 .4,-2.1 .4,7 .5,-8.9 .4,9.6 .4,-13.6 .5,11.9 .4,-3.6 .4,-4.3 .5,-7 .4,-3.1 .4,29.8 .5,-25 .4,16.3 .4,-11.7 .5,7.1 .4,1.3 .4,-6.8 .5,7.2 .4,-12.1 .4,14.7 .5,2.7 .4,-13.8 .4,6.1 .5,1.1 .4,-.8 .4,-.2 .5,-4.5 .4,4.2 .5,-6.2 .4,0 .4,9.9 .5,-9.2 .4,.5 .4,-.4 .5,11.1 .4,-15.4 .4,19.4 .5,6.2 .4,-16.2 .4,3.8 .5,9.8 .4,-16.2 .4,-.9 .5,10 .4,-5.1 .4,18 .5,-27.2 .4,-4.4 .4,14.9 .5,-3.1 .4,-8.5 .4,17.2 .5,-5.4 .4,16.3 .4,-29.8 .5,2.3 .4,9.5 .4,-2.4 .5,15 .4,-9.6 .4,6.6 .5,-15.7 .4,10.3 .4,1.8 .5,-.6 .4,-1.5 .5,-2.3 .4,21.2 .4,-18.3 .5,0 .4,-5.5 .4,3.8 .5,3.6 .4,-11.9 .4,20.5 .5,-11.5 .4,9.6 .4,-18.7 .5,15.7 .4,-17 .4,14.7 .5,4.2 .4,8.2 .4,-27.6 .5,18.5 .4,4.6 .4,-18.8 .5,-2.9 .4,3.2 .4,9.1 .5,-8.8 .4,-3.2 .4,16.3 .5,-4 .4,-5.5 .4,5.1 .5,-15.7 .4,9 .4,5.7 .5,1 .4,-10 .4,11.5 .5,-18.6 .4,10.3 .5,-2.9 .4,17.1 .4,7.9 .5,-15.5 .4,-17.2 .4,1.7 .5,18.7 .4,7.6 .4,-17.1 .5,6.1 .4,-12.8 .4,-.9 .5,18.7 .4,4.4 .4,-9.7 .5,-1.3 .4,-.8 .4,-3.8 .5,.3 .4,12.7 .4,-6.8 .5,-1.1 .4,-.6 .4,-9.2 .5,3.7 .4,5.8 .4,-6.5 .5,-7 .4,16.2 .4,-3.1 .5,-8.1 .4,4.3 .4,7 .5,-5.1 .4,4.4 .4,-3.1 .5,3 .4,-2.1 .5,1.1 .4,2.9 .4,.8 .5,5 .4,.1 .4,-14.1 .5,-12.7 .4,13.9 .4,10 .5,-8.2 .4,-5.5 .4,-7.3 .5,8.1 .4,6.8 .4,2.4 .5,-8.6 .4,-6.4 .4,19.2 .5,-22.8 .4,27.9 .4,-12.7 .5,-3.9 .4,-3.5 .4,7.5 .5,-7.9 .4,10.3 .4,-7.3 .5,8.7 .4,-10.8 .4,-2.8 .5,-.9 .4,20.8 .4,-9.6 .5,-.9 .4,13.1 .4,-19 .5,11.9 .4,-2.3 .5,0 .4,3.8 .4,-1.5 .5,8.8 .4,-17.9 .4,-6 .5,13.5 .4,-9.2 .4,14.1 .5,-9.6 .4,10.3 .4,7.1 .5,-13.8 .4,-1.7 .4,-1.9 .5,4.5 .4,-7.2 .4,11.4 .5,2.5 .4,-15.8 .4,25.5 .5,-20.7 .4,4.6 .4,.3 .5,-8.3 .4,19.7 .4,-30.6 .5,12.5 .4,-7.6 .4,12.1 .5,7.7 .4,-2.3 .4,-16.5 .5,7.7 .4,-.8 .4,0 .5,-8.2 .4,13.7 .5,-21.8 .4,35.3 .4,-16.2 .5,-4.3 .4,-2.2 .4,15.7 .5,-13 .4,11.7 1.6,-52.1 .4,69.5"/>
<path d="M273.4,1014.6l.5,73.2 3.1,-29 .4,-9.5 .5,10.5 .4,-5.5 .4,-15.6 .5,23.9 .4,-10.8 .4,6.4 .5,11.2 .4,-15.2 .4,-13.1 .5,3.4 .4,15.6 .4,-23.7 .5,15.9 .4,.6 .4,-14.8 .5,12.3 .4,3.7 .4,-12.6 .5,2.8 .4,9.6 .5,-17.4 .4,4 .4,17.3 .5,-8.2 .4,-14.2 .4,13.5 .5,18.2 .4,-32.6 .4,22 .5,-.5 .4,-8.9 .4,7.4 .5,-12.1 .4,21 .4,1.7 .5,-24.6 .4,6.3 .4,3.2 .5,-7.1 .4,9.2 .4,-13.1 .5,15.3 .4,-8.3 .4,2.3 .5,5 .4,4.3 .4,-18.1 .5,16.8 .4,.8 .4,-9.4 .5,15.6 .4,-21.7 .4,2 .5,8.8 .4,-10 .4,19.6 .5,-11.3 .4,14.3 .5,-26.2 .4,1 .4,21.6 .5,-22.5 .4,20.1 .4,-17.8 .5,10.1 .4,8.5 .4,-11.6 .5,-10.2 .4,6.2 .4,15.4 .5,-9.1 .4,4.7 .4,-6.1 .5,1.8 .4,-4.7 .4,-8 .5,14.6 .4,-3.6 .4,-20.6 .5,18.6 .4,8.9 .4,8.9 .5,-31.2 .4,13.7 .4,4 .5,1.8 .4,-14 .4,11.3 .5,-9 .4,3.4 .4,-4.8 .5,7.8 .4,-6.8 .4,6.4 .5,-3.9 .4,9.3 .5,7.1 .4,-16.8 .4,-6.4 .5,4.6 .4,-3 .4,-10.9 .5,15.8 .4,-5.1 .4,13 .5,-9.9 .4,9.8 .4,-1.7 .5,-12.1 .4,1.4 .4,-2 .5,.5 .4,11.9 .4,-12.9 .5,.8 .4,-3.8 .4,20.6 .5,-16.8 .4,1.8 .4,-6.9 .5,10.1 .4,-9.8 .4,.9 .5,-13.1 .4,3.5 .4,17.2 .5,5.2 .4,-23.1 .4,17.1 .5,0 .4,26.8 .4,-38.3 .5,2.9 .4,-3.8 .5,17.5 .4,2 .4,-12.6 .5,16.7 .4,5.3 .4,-24.4 .5,9.4 .4,-7.2 .4,-4.3 .5,1.5 .4,1.9 .4,-10 .5,11.1 .4,8.2 .4,-16.6 .5,3.8 .4,-3.8 .4,12 .5,-4.7 .4,9.6 .4,-12 .5,-11 .4,19 .4,-8.3 .5,13.4 .4,-4.2 .4,-31.7 .5,6 .4,18.7 .4,-7.5 .5,-14.3 .4,16 .4,17 .5,-6.3 .4,-14.6 .4,10.9 .5,6.7 .4,-11.5 .5,18.3 .4,-23.6 .4,26.4 .5,-5.5 .4,-9.8 .4,-2.9 .5,-2 .4,-9.2 .4,18 .5,2.7 .4,-4.6 .4,-4.8 .5,-1.8 .4,-9.8 .4,2.5 .5,-7.5 .4,18.1 .4,-13.1 .5,16.4 .4,-14.3 .4,19.6 .5,1.4 .4,-.4 .4,-3.8 .5,-13.7 .4,-.2 .4,-4.1 .5,10.1 .4,12.6 .4,-26.2 .5,33.1 .4,-28.3 .4,-5.7 .5,14.1 .4,6.9 .4,-13.6 .5,-6.3 .4,26.1 .5,-27 .4,19.7 .4,-8 .5,-5 .4,3.9 .4,-10.8 .5,-.3 .4,13.4 .4,-12.8 .5,2.4 .4,21 .4,3.2 .5,-6.6 .4,-2.1 .4,-10.9 .5,3.2 .4,-7.9 .4,-19.6 .5,28.3 .4,.2 .4,7.1 .5,-20.7 .4,22.1 .4,-15.9 .5,-6.4 .4,9.3 .4,11.4 .5,-8.8 .4,4.4 .4,-12.4 .5,13 .4,4.9 .4,-17.5 .5,12.4 .4,-16.5 .4,15 .5,-16.2 .4,18.1 .4,-3.7 .5,-10.4 .4,14.1 .5,-12.6 .4,10.3 .4,-9.3 .5,13.8 .4,-10.2 .4,18.9 .5,-9.1 .4,.9 .4,-17.5 .5,-6.9 .4,12.3 .4,24.7 .5,-25.8 .4,20.5 .4,.5 .5,-17.2 .4,3.6 .4,14.5 .5,-14.6 .4,-1.3 .4,-1.5 .5,6.2 .4,-1.5 .4,12.8 .5,-9.3 .4,9 .4,-12 .5,24.8 .4,-24.6 .4,-.2 .5,-6 .4,-8.3 .4,7.9 .5,10.4 .4,-11.3 .4,17.3 .5,-23 .4,-.4 .5,18.7 .4,.8 .4,-14.1 .5,20.9 .4,2.9 .4,-9.6 .5,-15.4 .4,23.9 .4,-14.4 .5,1.1 .4,6.3 .4,-11 .5,20.8 .4,-20 .4,16 .5,-2.7 .4,9.5 .4,-11.9 .5,3.5 .4,-11.8 .4,1.6 .5,-3.4 .4,12.9 .4,-13.2 .5,20.4 .4,-15.1 .4,-10.1 .5,5 .4,17.3 .4,-15.4 .5,10.2 .4,-20.3 .4,19.1 .5,3.1 .4,-2.4 .4,2.7 .5,-16.5 .4,-6.2 .5,3.3 .4,20.3 .4,-4 .5,3.8 .4,-12.7 .4,12.9 .5,-22 .4,18.5 .4,-13.5 .5,5.8 .4,10.2 .4,2.2 .5,-9.6 .4,-1.8 .4,16.1 .5,-2.9 .4,-16.2 .4,9.1 .5,-4.7 .4,11 .4,-4.8 .5,-.2 .4,-3.2 .4,-6 .5,15.3 .4,-6.4 .4,-25.6 .5,18.1 .4,6 .4,-9.5 .5,-1.7 .4,2.6 .4,9.2 .5,-12.3 .4,12.4 .4,9.2 .5,-3.9 .4,.3 .5,-11.2 .4,13 .4,-10.9 .5,8 .4,-18.9 .4,22.3 .5,-17.2 .4,5.7 .4,9.5 .5,-9.9 .4,-4.5 .4,2.8 .5,11.7 .4,.1 .4,-4.2 .5,-12.2 .4,2 .4,9.9 .5,.8 .4,-13.7 .4,0 .5,13.1 .4,3.6 .4,-9.5 .5,-12 .4,26.1 .4,-14.7 .5,4 .4,-24.6 .4,13.3 .5,4.9 .4,4.6 .4,-11.5 .5,-6.3 .4,-1.2 .4,11.6 .5,6.1 .4,-.6 .5,-18.7 .4,9.3 .4,5.5 .5,10.1 .4,-4.3 .4,-3 .5,-18.3 .4,25.7 .4,-11.1 .5,2.6 .4,-8.4 .4,4.2 .5,-1.4 .4,-.8 .4,-4.6 .5,14.4 .4,2 .4,-13.7 .5,-2.9 .4,0 .4,4.7 .5,15.9 .4,-14.7 .4,18.2 .5,-29 .4,1.5 .4,2.7 .5,-.9 .4,10.9 .4,13 .5,-23.2 .4,9.9 .4,9.1 .5,9.8 .4,-20.5 .4,7.1 .5,3 .4,-11.6 .5,4.3 .4,-8.7 .4,-5.2 .5,2.6 .4,16.2 .4,1.6 .5,-10.3 .4,-13.9 .4,22.7 .5,-11.5 .4,14.2 .4,-12.8 .5,-11.5 .4,8.3 .4,-3.3 .5,21.3 .4,-35.8 .4,15.9 .5,2.8 .4,-15.9 .4,23.2 .5,2 .4,2.4 .4,.1 .5,-8.5 .4,9.9 .4,-12.7 .5,4.7 .4,2 .4,-1.2 .5,4.3 .4,-10.7 .4,5.2 .5,-4.1 .4,6.3 .4,2.5 .5,-9.7 .4,20.7 .5,4.9 .4,-12.7 .4,-4.1 .5,-6.4 .4,4.4 .4,-.2 .5,8.7 .4,-6.3 .4,6.9 .5,-1.1 .4,-9.5 .4,-7.7 .5,1.6 .4,1.3 .4,9.9 .5,11.5 .4,-19.4 .4,14.9 .5,-7.5 .4,13.6 .4,9.4 .5,-10.8 .4,-6.5 .4,1.8 .5,7.8 .4,-14.7 .4,-4.2 .5,9.2 .4,13.8 .4,-21.2 .5,17.3 .4,-1.8 .4,-9.9 .5,-4.9 .4,-7.5 .4,4.7 .5,12.7 .4,5.7 .4,-12.4 .5,.9 .4,-1.5 .5,30.3 .4,-35.3 .4,-.6 .5,24 .4,-19.8 .4,20 .5,-16.8 .4,17.7 .4,3.6 .5,-16.8 .4,4.4 .4,-8.7 .5,17.9 .4,-10.8 .4,-5.6 .5,13.3 .4,-.3 .4,-3.5 .5,-3.3 .4,13.4 .4,-14.7 .5,-1.6 .4,6.1 .4,7.5 .5,-8.1 .4,-1.9 .4,-3.4 .5,2.5 .4,1.6 .4,25.3 .5,-35.1 .4,12.8 .4,5.3 .5,-8.6 .4,-2.5 .4,16.8 .5,8.1 .4,-2.2 .5,-9.9 .4,-3.9 .4,10.5 .5,-21.5 .4,7.7 .4,21.9 .5,-9.6 .4,-2.3 .4,-3.1 .5,-1.7 .4,-4.1 .4,13.5 .5,-.5 .4,.3 .4,-27.7 .5,35.3 .4,-3.8 .4,6.9 .5,-20 .4,-15 .4,8.4 .5,4.1 .4,27.5 .4,-25.9 .5,2.9 .4,14 .4,-.8 .5,.9 .4,-13.4 .4,22.2 .5,-13.6 .4,-11.7 .4,12.1 .5,-17 .4,1.7 .4,5.5 .5,-4.6 .4,6.7 .5,-1.3 .4,1.9 .4,-3.6 .5,18.9 .4,-19.8 .4,4.6 .5,-3.4 .4,3.2 .4,-6.5 .5,32.3 .4,-22.3 .4,10.5 .5,-11 .4,-8.7 .4,7.6 .5,-1.4 .4,-5 .4,12.8 .5,14.5 .4,-13.2 .4,8.3 .5,2.7 .4,-30.3 .4,36.5 .5,-30.2 .4,30.1 .4,-15.1 .5,3.9 .4,15.5 .4,-10.7 .5,-24.9 .4,-1.6 .4,5.9 .5,21.1 .4,-6.3 .4,5.8 .5,-4.3 .4,7.7 .5,-21.1 .4,-7.3 .4,11.2 .5,14.2 .4,-17 .4,-12.3 .5,17.2 .4,11.8 .4,-2.3 .5,-6.9 .4,-1.4 .4,-14.8 .5,19.7 .4,18.3 .4,-22.3 .5,20.2 .4,-26.9 .4,8 .5,-.5 .4,4.5 .4,-16.6 .5,28.3 .4,-14.1 .4,-17.3 .5,26.7 .4,-4.5 .4,-13.2 .5,11.2 .4,9 .4,-.7 .5,-3.1 .4,-9.1 .4,9.3 .5,9.8 .4,8.8 .4,-14.1 .5,2.3 .4,1.9 .5,-11.1 .4,-13.7 .4,11.5 .5,3.8 .4,4.1 .4,-2.1 .5,-6.9 .4,1.8 .4,2.9 .5,-6 .4,.5 .4,-8.2 .5,12.9 .4,4.5 .4,-7 .5,3.9 .4,3.6 .4,-10.9 .5,4.5 .4,-2.2 .4,13.3 .5,-14.4 .4,11.2 .4,-18.9 .5,36 .4,-10.8 .4,-12.2 .5,7.6 .4,19.1 .4,-16.7 .5,-15 .4,13.6 .4,-4.3 .5,9.4 .4,-3.2 .4,-16.7 .5,17.4 .4,6.9 .5,4 .4,-10 .4,14.3 .5,-4 .4,-6.5 .4,7.2 .5,-38.5 .4,35.4 .4,1.7 .5,-14.8 .4,8.5 .4,-14.2 .5,4.4 .4,-.3 .4,-8.4 .5,7.5 .4,-14.8 .4,15.1 .5,17.1 .4,1.7 .4,-18.3 .5,16.4 .4,-12.8 .4,-16.1 .5,6 .4,5.1 .4,.2 .5,6.1 .4,-13 .4,2.6 .5,13.5 .4,-8.7 .4,2.4 .5,-4.6 .4,7 .4,.3 .5,-14.6 .4,17.9 .4,-17 .5,9.2 .4,-6.3 .5,8.9 .4,-3.8 .4,2.6 .5,-4.3 .4,-2.6 .4,2.8 .5,-2.2 .4,-7.9 .4,-7 .5,19.5 .4,6.9 .4,-21.4 .5,13.6 .4,-10.7 .4,7.3 .5,6.4 .4,-5.1 .4,-5.8 .5,-16.3 .4,16.1 .4,1.5 .5,11.7 .4,-18.4 .4,5.4 .5,2.6 .4,9.8 .4,-23.2 .5,18.7 .4,-8.9 .4,-5.6 .5,-6.7 .4,3.6 .4,16.7 .5,-12.9 .4,-4.2 .4,4.9 .5,16.1 .4,-3.3 .5,-1.8 .4,1.3 .4,-2.1 .5,-11.3 .4,-6.7 .4,21.8 .5,-13 .4,2.2 .4,-5.7 .5,8.9 .4,7.7 .4,-16.6 .5,5 .4,-1 .4,5.5 .5,-6.5 .4,.5 .4,-6 .5,6 .4,-7.1 .4,13.7 .5,-8.1 .4,16.7 .4,-21.8 .5,-3.2 .4,18.2 .4,-2.6 .5,-18.7 .4,37.2 .4,-26 .5,12.1 .4,-14.1 .4,10.2 .5,3.9 .4,-14.9 .4,7.9 .5,4.9 .4,11.1 .5,-9.9 .4,4 .4,-7.6 .5,1.1 .4,-1.2 .4,-7.2 .5,-15.2 .4,1.4 .4,19 .5,1.3 .4,-3.9 .4,-6.1 .5,.7 .4,-7.2 .4,22.8 .5,-26.7 .4,31 .4,-19.4 .5,27.9 .4,-19.2 .4,-7.6 .5,4.2 .4,-5.7 .4,18.8 .5,-14.5 .4,2.4 .4,-10.4 .5,13.6 .4,-19.4 .4,7.7 .5,18 .4,-31.2 .4,22 .5,8.1 .4,-10.1 .4,12.4 .5,-2.2 .4,-7.3 .5,-19.8 .4,10.3 .4,1.1 .5,12.3 .4,-10.5 .4,-2.2 .5,-9.6 .4,9.9 .4,3.8 .5,-25.3 .4,22 .4,3.9 .5,-6.3 .4,.9 .4,-4.2 .5,13.5 .4,-13.7 .4,16.1 .5,-8 .4,-21.5 .4,14.9 .5,5.3 .4,5 .4,-7 .5,-2.5 .4,8.6 .4,7.2 .5,-32 .4,10.8 .4,21.5 .5,-13.3 .4,-12 .4,25 .5,2.3 .4,-20.8 .4,9 .5,-7 .4,3 .5,5.6 .4,-11.8 .4,1.5 .5,-2.3 .4,-13.5 .4,20.2 .5,3.3 .4,-6.5 .4,-1.3 .5,7 .4,-14.6 .4,-3.8 .5,13.7 .4,-3.3 .4,14.5 .5,-30.1 .4,12.4 .4,-11.5 .5,30.9 .4,-24.2 .4,10.6 .5,-28.5 .4,11.4 .4,15.7 .5,-11.4 .4,-2.4 .4,11.7 .5,-5.8 .4,-.3 .4,.8 .5,-7.4 .4,18.4 .4,-5.2 .5,-11.2 .4,-2.7 .4,-14.3 .5,6.3 .4,22.5 .5,-23.9 .4,6.7 .4,19 .5,-6 .4,-7.2 .4,.1 .5,-7.3 .4,4.2 .4,-1.7 .5,11.4 .4,-5.8 .4,-14.6 .5,19.4 .4,-5.9 .4,2 .5,.7 .4,-5 .4,-6 .5,9.7 .4,-1.9 .4,-13.7 .5,.1 .4,3.4 .4,1.8 .5,-6 .4,-13.1 .4,23.3 .5,-17.9 .4,-5.2 .4,2.2 .5,7.7 .4,-3.3 .4,-20.2 .5,6.3 .4,-1.2 .4,7.1 .5,7.6 .4,-8 .5,24.3 .4,-10.5 .4,5.5 .5,-7.1 .4,-19.2 .4,16.5 .5,-19 .4,4.4 .4,11.7 .5,-1.9 .4,5.5 .4,-8.8 .5,13 .4,-2.8 .4,-4.6 .5,-10.9 .4,1.2 .4,16.2 .5,18.1 .4,-33.6 .4,6.3 .5,-10.8 .4,-16.2 .4,30.8 .5,-4.8 .4,5.1 .4,-13.7 .5,-2.3 .4,23.6 .4,-25.2 .5,16.2 .4,2.1 .4,-10.6 .5,-6.4 .4,7.8 .4,-21.7 .5,15 .4,-1.6 .4,-11.6 .5,11.3 .4,12 .5,14.6 .4,-37 .4,15.9 .5,-.7 .4,-8.3 .4,-3.5 .5,11 .4,2 .4,-24.1 .5,31.6 .4,-18.7 .4,2.2 .5,-8.1 .4,19.3 .4,-28.9 .5,8.8 .4,6.3 .4,-12.5 .5,6.6 .4,7.4 .4,6.5 .5,-16.2 .4,-4.2 .4,9.6 .5,-4.9 .4,-14.1 .4,20.7 .5,-14.1 .4,-7.9 .4,20.4 .5,-5.5 .4,-16.5 .4,15.9 .5,-16.9 .4,.5 .4,-6.1 .5,20.6 .4,-12.6 .5,7.6 .4,-23.2 .4,9.2 .5,-15.9 .4,11.2 .4,1.8 .5,1.4 .4,-17 .4,30 .5,-32.6 .4,33.6 .4,-16.1 .5,14 .4,-25.4 .4,13.5 .5,5.3 .4,19.5 .4,-21.7 .5,16.5 .4,-17.4 .4,13.1 .5,-17.5 .4,1.1 .4,10.6 .5,-27.5 .4,-4.8 .4,22.4 .5,24.4 .4,-8.5 .4,-17.4 .5,6.5 .4,-5.3 .4,2 .5,13 .4,-33.2 .4,-.8 .5,-9.9 .4,13.3 .5,24.4 .4,-14.5 .4,-16.4 .5,8.3 .4,1.8 .4,19.4 .5,-7.3 .4,-1.4 .4,10.8 .5,-9.3 .4,7.2 .4,-25.3 .5,-2.4 .4,7.4 .4,32 .5,-42.9 .4,17.5 .4,4.3 .5,-20.4 .4,-4.1 .4,44.4 .5,-30.3 .4,-3.4 .4,9.7 .5,-3.9 .4,-21.7 .4,-4.6 .5,20.8 .4,-8.4 .4,9.4 .5,-16.5 .4,51.9 .4,-30 .5,21.3 .4,-35.5 .4,4.9 .5,-5.8 .4,7.5 .5,4.8 .4,-14.1 .4,-8.4 .5,4.4 .4,6.3 .4,14 .5,-35.1 .4,10.4 .4,16.2 .5,12.9 .4,-26.7 .4,10.1 .5,-8 .4,-1.5 .4,5.1 .5,-10.7 .4,3.7 .4,-1.7 .5,26.9 .4,-23.9 .4,24.3 .5,-26.3 .4,4 .4,-14.7 .5,15.2 .4,18.1 .4,3.2 .5,-40.2 .4,53.3 .4,-32.2 .5,3 .4,7.2 .4,-14.2 .5,-13.7 .4,13.8 .4,-6.3 .5,35.1 .4,-28.8 .5,-35.2 .4,55 .4,-11.2 .5,-9.9 .4,-28.3 .4,79.8 .5,-56 .4,-.1 .4,-3.6 .5,11.6 .4,-3.9 .4,6.3 .5,2.3 .4,-7.7 .4,16.9 .5,-34.4 .4,31.1 .4,-9.4 .5,-5.8 .4,10.8 .4,-7.8 .5,-1 .4,-11.2 .4,-6.7 .5,-10.7 .4,3.3 .4,9.3 .5,23.1 .4,-17.3 .4,5.6 .5,-20 .4,-8.2 .4,26 .5,36.3 .4,-56.9 .4,39.6 .5,-41.5 .4,-1.2 .5,4.1 .4,.6 .4,27.3 .5,-11.5 .4,-2.9 .4,-11.3 .5,23.1 .4,14.2 .4,-26.5 .5,-12 .4,-12.4 .4,11.3 .5,-16.5 .4,42.8 .4,-36.4 .5,31.7 .4,-41.2 .4,34.6 .5,-5.6 .4,2.2 .4,-8.8 .5,-24.2 .4,63.8 .4,-71.9 .5,42.4 .4,-23.4 .4,-16.9 .5,31.8 .4,10.3 .4,-8.2 .5,-42.2 .4,9.1 .4,21.9 .5,-4.3 .4,8.2 .4,-21.5 .5,-29 .4,8 .4,25 .5,-24.7 .4,-7.6 .5,34.2 .4,12.4 .4,-37.4 .5,6.9 .4,.1 .4,17.5 .5,-22.4 .4,-1.3 .4,2.6 .5,-22.5 .4,44.8 .4,3.1 .5,-28.2 .4,.2 .4,.5 .5,-4.6 .4,-15.4 .4,24.9 .5,-.2 .4,4.3 .4,-38.5 .5,19.9 .4,-29.5 .4,56.7 .5,-64 .4,24 .4,30 .5,-63.1 .4,32.9 .4,-35.3 .5,46.9 .4,-25.8 .4,-5.8 .5,-8.4 .4,26 .4,-9 .5,9.2 .4,.8 .5,-28 .4,14.5 .4,18.1 .5,-16.3 .4,-3.4 .4,-7.1 .5,-12.1 .4,7.4 .4,-3 .5,46.8 .4,-54.2 .4,-15.2 .5,25.1 .4,-12.8 .4,-8.8 .5,26.6 .4,-20.3 .4,-13.3 .5,25.6 .4,25.6 .4,-13.5 .5,-21.7 .4,-.1 .4,-7.8 .5,13.4 .4,-19 .4,9.7 .5,-11.3 .4,6.1 .4,-44.4 .5,37.6 .4,-11.9 .4,3.3 .5,12.7 .4,-33.7 .4,6.6 .5,19.4 .4,-3.4 .5,15.7 .4,-12.5 .4,-39.9 .5,39.3 .4,-11.9 .4,5.2 .5,16.6 .4,-18.5 .4,-6.8 .5,-28.8 .4,22.7 .4,24.5 .5,-6.5 .4,-35.7 .4,-4 .5,19.3 .4,16.3 .4,-24.8 .5,41.6 .4,15 .4,-66.4 .5,63.3 .4,-2.5 .4,-81.6 .5,7.2 .4,29.5 .4,2.9 .5,-17.8 .4,17.4 .4,15.9 .5,-34.5 .4,-28.3 .4,39.6 .5,22.7 .4,14 .4,-8.5 .5,-79.5 .4,32.3 .5,22.3 .4,-15.6 .4,29.1 .5,-2.1 .4,9 .4,11.6 .5,-40.3 .4,49.4 .4,-65.5 .5,8.1 .4,.1 .4,5.4 .5,33.6 .4,22.4 .4,-65.9 .5,47.9 .4,11 .4,-18.5 .5,-48.1 .4,53.5 .4,10.6 .5,-56.5 .4,28.6 .4,35.3 .5,-12.4 .4,19.8 .4,5.9 .5,-51 .4,4.1 .4,47.2 .5,-23.2 .4,27.8 .4,-3.5 .5,-26.5 .4,39.5 .4,-7.6 .5,-20 .4,5.1 .5,1.4 .4,20.6 .4,16.1 .5,-7.1 .4,-13.5 .4,-23.6 .5,31.8 .4,-2.7 .4,-10.2 .5,-3.3 .4,51.6 .4,.2 .5,-58 .4,49.8 .4,-10.6 .5,29.9 .4,-51.7 .4,37.8 .5,-29.7 .4,7.9 .4,10.3 .5,16.2 .4,-15 .4,-32.2 .5,49 .4,-15.3 .4,-3 .5,-28.2 .4,27.1 .4,33 .5,3.2 .4,-13.9 .4,-25.8 .5,33.4 .4,-31.1 .4,33 .5,-25.1 .4,-18.5 .5,39 .4,-3.7 .4,.8 .5,-20.5 .4,-2.1 .4,42.5 .5,-21.7 .4,33.1 .4,.8 .5,-51.2 .4,14.4 .4,-47.7 .5,54.6 .4,-10.4 .4,17.6 .5,-10 .4,-2.9 .4,-4.5 .5,1.7 .4,38.1 .4,-9.9 .5,29 .4,-24.5 .4,-21.2 .5,-.5 .4,39.9 .4,-64 .5,37.8 .4,-3.9 .4,-34.4 .5,59.6 .4,-18.6 .4,-3.4 .5,-10.7 .4,15.7 .4,-.5 .5,21.8 .4,-23.4 .5,51 .4,-53.7 .4,14.5 .5,-13.1 .4,27.8 .4,-21.8 .5,34.4 .4,-6.5 .4,-9.6 .5,-36.1 .4,30.2 .4,-.3 .5,13.4 .4,-34.9 .4,37.1 .5,2.2 .4,-12 .4,7.7 .5,-12.2 .4,26.5 .4,-35.8 .5,10.3 .4,57.5 .4,-44 .5,1.8 .4,-13.7 .4,13 .5,10.4 .4,-23.1 .4,-3.1 .5,19.1 .4,35.8 .4,-30.7 .5,50.6 .4,-21.9 .4,-8.2 .5,-17.3 .4,17.9 .4,41.6 .5,-71.4 .4,29.5 .5,22.2 .4,-11.1 .4,-13.7 .5,-8.8 .4,23.2 .4,-43.7 .5,59 .4,-43 .4,-18.4 .5,28 .4,3 .4,-2.9 .5,-20.3 .4,14.8 .4,25.3 .5,-5.3 .4,13.7 .4,-14.9 .5,-18.9 .4,13.6 .4,7.1 .5,3.6 .4,2.4 .4,.4 .5,7.8 .4,1.7 .4,-23.1 .5,31.8 .4,-6.6 .4,-14.9 .5,9.6 .4,-5.4 .4,6.8 .5,-31.9 .4,-.2 .4,42.3 .5,-18.2 .4,26.8 .5,2.5 .4,-17.6 .4,24.2 .5,-42.3 .4,17.7 .4,-21.9 .5,22.4 .4,14.5 .4,-14 .5,1.6 .4,-20.5 .4,17.4 .5,-16.4 .4,12 .4,-13.5 .5,23.3 .4,-5.7 .4,-4 .5,5.2 .4,5.7 .4,-19.9 .5,-11.7 .4,.2 .4,32.8 .5,-20.4 .4,-23.2 .4,-.3 .5,32.6 .4,-23 .4,28.6 .5,-4.3 .4,-27.9 .4,-1.9 .5,-10.9 .4,24.3 .4,-33.8 .5,26.2 .4,-13.7 .5,27.6 .4,-29.8 .4,-7.6 .5,19.5 .4,-25.8 .4,24.6 .5,-16.4 .4,-5.6 .4,2.9 .5,-.1 .4,-16.5 .4,26.9 .5,-11.1 .4,-9.5 .4,27.9 .5,-17.9 .4,19.9 .4,-54.4 .5,46.8 .4,-20.2 .4,22.2 .5,-26.2 .4,-10.5 .4,-4 .5,14.1 .4,-32.3 .4,16.8 .5,-11.7 .4,50 .4,-30 .5,-14.1 .4,-43.8 .4,42.2 .5,-9.9 .4,6.7 .4,-.6 .5,-13.6 .4,-10.9 .5,13.9 .4,.8 .4,-.7 .5,-1.3 .4,5.3 .4,-21.3 .5,25.9 .4,-21.2 .4,7.9 .5,-11.1 .4,10.3 .4,19.8 .5,-18.4 .4,-6.3 .4,-1.7 .5,-12.3 .4,-11.7 .4,-14.9 .5,33.7 .4,5.1 .4,1.6 .5,-42.7 .4,16.1 .4,18.5 .5,-14.9 .4,17.4 .4,2.2 .5,-36.7 .4,33.3 .4,-16.5 .5,-7.8 .4,12.1 .4,-16.7 .5,-17.3 .4,39.4 .4,-5.6 .5,-1 .4,-6.8 .5,-26.3 .4,21.6 .4,26 .5,-21 .4,-6.6 .4,2.6 .5,-8.3 .4,3.2 .4,-1.4 .5,-11.9 .4,6.5 .4,1.3 .5,.4 .4,38.3 .4,-46.6 .5,-15.2 .4,16.9 .4,-27 .5,56.5 .4,-39.8 .4,6.2 .5,5 .4,10.8 .4,-24.5 .5,14 .4,-9.9 .4,1.6 .5,8.8 .4,-21.6 .4,32.9 .5,-26.9 .4,14.9 .4,-24.8 .5,7.4 .4,-13.8 .4,23.5 .5,-14 .4,-11.9 .5,-8 .4,51.6 .4,-29 .5,2.9 .4,7.3 .4,-12.9 .5,12 .4,-24.1 .4,5.2 .5,21.8 .4,-48.3 .4,20.5 .5,-14.3 .4,33.9 .4,-31.8 .5,6.3 .4,-2.7 .4,-17.8 .5,5.9 .4,-7.8 .4,23.3 .5,-28.3 .4,26.9 .4,-15.2 .5,5.6 .4,6 .4,-9.1 .5,-10.1 .4,-20.1 .4,5.5 .5,2 .4,8.2 .4,-14.5 .5,-6.4 .4,31.6 .4,-25.2 .5,-1.4 .4,-22.4 .4,.1 .5,-1.7 .4,-10.6 .5,14 .4,2.8 .4,-17.7 .5,1.9 .4,22.8 .4,-43.3 .5,21.5 .4,25 .4,-11.5 .5,-4.2 .4,15.6 .4,-7 .5,-11.6 .4,-23.9 .4,-12.3 .5,5.9 .4,31.9 .4,-32.3 .5,1.5 .4,24.1 .4,-23.8 .5,9.8 .4,-29.3 .4,11.5 .5,-1.9 .4,-2.8 .4,-15.6 .5,11.2 .4,26.2 .4,-12.7 .5,9.4 .4,-25.5 .4,40.3 .5,-40.8 .4,3.1 .4,11.7 .5,-15.4 .4,11 .5,23.7 .4,-14 .4,-12.8 .5,28.8 .4,-27.1 .4,4.4 .5,13.7 .4,3.1 .4,-37.4 .5,41.1 .4,-12.3 .4,-10.6 .5,1.8 .4,3.1 .4,-3.8 .5,44.4 .4,12.6 .4,-18.1 .5,7 .4,5.9 .4,22.7 .5,-5.9 .4,25.4 .4,-13.4 .5,19.2 .4,-38.6 .4,12.2 .5,20.2 .4,-1.2 .4,-4.7 .5,0 .4,-1.3 .4,25.1 .5,-1.3 .4,19.5 .4,-13.9 .5,12.4 .4,10.9 .5,8.1 .4,-12.5 .4,11.2 .5,27.8 .4,-47.5 .4,38.1 .5,4.5 .4,-3 .4,-13.9 .5,25.8 .4,-3.1 .4,8 .5,2.3 .4,2.9 .4,18.7 .5,-8.4 .4,30.4 .4,-1.3 .5,-.4 .4,12.5 .4,15 .5,-6.2 .4,18.9 .4,20.9 .5,-22.5 .4,5.7 .4,-8 .5,8.5 .4,-5.3 .4,24.9 .5,-19.9 .4,14.9 .4,-9.4 .5,9.2 .4,-7 .4,1.3 .5,23.9 .4,-.2 .5,-4.9 .4,-2.4 .4,4.1 .5,-6.2 .4,13.1 .4,12.3 .5,-16 .4,28 .4,-15 .5,12.8 .4,-5.9 .4,-11.3 .5,.5 .4,24.5 .4,.2 .5,-15.2 .4,26.7 .4,-16 .5,30.4 .4,-28.3 .4,13 .5,-6.2 .4,-5.6 .4,13.3 .5,-11.6 .4,-.3 .4,8.6 .5,-10 .4,2.1 .4,9.8 .5,6.3 .4,6.9 .4,5.1 .5,-10.3 .4,16.3 .4,-9.4 .5,-2.6 .4,11 .5,2.8 .4,-10.2 .4,-3.3 .5,7.4 .4,-3.2 .4,-10.3 .5,11.2 .4,.2 .4,2.1 .5,2.8 .4,7.4 .4,-17 .5,9 .4,5.7 .4,-25.5 .5,30.5 .4,-8.2 .4,21.5 .5,-15.4 .4,-13.3 .4,8.5 .5,-2.7 .4,6.4 .4,-15.3 .5,14.6 .4,-3.9 .4,.5 .5,6.5 .4,-2.1 .4,15.5 .5,-13.1 .4,4 .4,-10.7 .5,.1 .4,18.4 .4,-16.5 .5,-4.9 .4,.3 .5,3.3 .4,-1.6 .4,2.9 .5,16.4 .4,-11.8 .4,6.2 .5,12.5 .4,-22.1 .4,.4 .5,-8.8 .4,22.6 .4,-6.1 .5,-17.3 .4,24.9 .4,-2.3 .5,-30 .4,12 .4,16.3 .5,-15.2 .4,6.2 .4,7.1 .5,-2.4 .4,-6.9 .4,10 .5,5.7 .4,-13.2 .4,24.6 .5,-16.2 .4,-1.8 .4,-13.2 .5,2 .4,1 .4,14.3 .5,-15.6 .4,18.6 .4,-2.5 .5,-12.7 .4,4.3 .5,13.2 .4,-19 .4,-11 .5,12.3 .4,7 .4,6.5 .5,-3.5 .4,16.3 .4,-11.4 .5,-5.7 .4,7 .4,.4 .5,-8.1 .4,4.8 .4,-1.5 .5,-3.3 .4,-1.9 .4,-8.7 .5,7.5 .4,-6.3 .4,13 .5,-5.1 .4,-10 .4,7.9 .5,-1.6 .4,-9 .4,6 .5,6.2 .4,10.9 .4,-12 .5,4.2 .4,6.6 .4,-1.9 .5,-7.7 .4,3.7 .4,-6.9 .5,-1.3 .4,2.6 .4,1.2 .5,6.5 .4,-2.5 .5,2 .4,-20.3 .4,9.6 .5,2 .4,-8.9 .4,-8.9 .5,21.7 .4,13.1 .4,-24.7 .5,9.1 .4,13.4 .4,-15.6 .5,-.7 .4,-7.3 .4,7.9 .5,7.7 .4,1.1 .4,-10 .5,9.6 .4,-17.3 .4,5.4 .5,6.1 .4,0 .4,5.8 .5,-9.8 .4,-14.6 .4,25.9 .5,6.7 .4,-11.8 .4,-5.7 .5,-1.8 .4,4.6 .4,-11.7 .5,12.1 .4,-3.8 .4,-9.1 .5,13 .4,3.1 .5,10.1 .4,-13.4 .4,12.5 .5,-16.6 .4,1.4 .4,6.2 .5,-8.6 .4,7.1 .4,-7.3 .5,-.1 .4,2.8 .4,9.3 .5,-5.4 .4,-3.5 .4,16.4 .5,-12.6 .4,6.7 .4,-2.9 .5,4.1 .4,-6.3 .4,-4.4 .5,7.7 .4,.9 .4,1.9 .5,-.7 .4,-.2 .4,-10.8 .5,15.5 .4,.2 .4,-8 .5,3.2 .4,-.8 .4,10.1 .5,-22 .4,9.7 .4,6.9 .5,-16.6 .4,7.2 .5,17.7 .4,-22.7 .4,9.4 .5,-6 .4,5.3 .4,-4.8 .5,6.8 .4,-12 .4,23.5 .5,-9.6 .4,-.2 .4,-5.8 .5,4.9 .4,-3.2 .4,5.7 .5,-6.7 .4,0 .4,12.8 .5,-2.2 .4,4.5 .4,-5.4 .5,-19.6 .4,16.3 .4,2.6 .5,-4 .4,5.7 .4,0 .5,-5.5 .4,1.7 .4,-3.9 .5,10.2 .4,-19.8 .4,-.7 .5,17.5 .4,-19.4 .4,15.4 .5,-2.7 .4,8.7 .5,-16.3 .4,-.3 .4,6.3 .5,-.3 .4,-4.9 .4,-1 .5,6.7 .4,5.6 .4,-21.3 .5,22.3 .4,-3.2 .4,-7.1 .5,-4.1 .4,2.4 .4,-10 .5,15 .4,-.7 .4,-.4 .5,2.7 .4,-11.5 .4,15.4 .5,-7.7 .4,1.7 .4,1.5 .5,0 .4,3.7 .4,-4.1 .5,-.1 .4,-7.8 .4,2.3 .5,-7.4 .4,12.4 .4,-3.8 .5,1.4 .4,4.9 .4,-7 .5,12.4 .4,-18.5 .5,18.8 .4,-2.4 .4,-10.4 .5,5.2 .4,4 .4,-11 .5,5.9 .4,5 .4,-3.5 .5,-6.1 .4,-8.1 .4,15.4 .5,.6 .4,6.2 .4,-5.8 .5,-15.1 .4,1.3 .4,-3.3 .5,14.8 .4,-6.1 .4,2.3 .5,-5.1 .4,-8.1 .4,13.3 .5,-14.2 .4,-2.4 .4,7.2 .5,10 .4,6.6 .4,-7 .5,-1.3 .4,2.5 .4,2.9 .5,2.5 .4,-14.9 .4,1.5 .5,26.3 .4,-31.3 .5,-6.7 .4,11.6 .4,.4 .5,-2.1 .4,18.1 .4,-4.3 .5,-13.9 .4,24.2 .4,-20.6 .5,4.4 .4,-7.3 .4,-1 .5,9.9 .4,7.3 .4,-6.5 .5,-4.4 .4,-2.2 .4,11.3 .5,-20.4 .4,8.2 .4,-5.1 .5,4.7 .4,-.7 .4,-3.6 .5,-3 .4,10.6 .4,12.7 .5,-13 .4,-3.8 .4,-4.9 .5,10 .4,-1.5 .4,11.1 .5,-16.6 .4,13.2 .4,-17.6 .5,9.2 .4,2 .4,-9.4 .5,-9.2 .4,13.7 .5,1 .4,6.1 .4,-1.1 .5,4.7 .4,-19.7 .4,17.9 .5,-8.4 .4,2.2 .4,-20.2 .5,17.2 .4,-3 .4,.1 .5,17.6 .4,-23.8 .4,1.7 .5,4.2 .4,.3 .4,-10.5 .5,-.8 .4,7.9 .4,-8.8 .5,12.6 .4,-8.2 .4,-6.8 .5,14.7 .4,-1.4 .4,.6 .5,-3.7 .4,3 .4,-6.5 .5,-9.9 .4,9.6 .4,.4 .5,-1.3 .4,4.9 .4,10.1 .5,-6.2 .4,-2.5 .5,1.1 .4,-11.4 .4,20.8 .5,-12.9 .4,8 .4,-1.7 .5,-.1 .4,4.7 .4,-12.1 .5,6.6 .4,-8 .4,.9 .5,-14.8 .4,15.3 .4,-1.4 .5,2.6 .4,-8.6 .4,-1.8 .5,10 .4,-3.8 .4,4.9 .5,-10.8 .4,-3.7 .4,13.8 .5,-1.2 .4,-.6 .4,1.2 .5,-1.5 .4,-2.4 .4,-5.4 .5,7.4 .4,-2.2 .4,-2 .5,-7.5 .4,6.5 .4,6.7 .5,1.1 .4,-14.7 .5,16.3 .4,-10.8 .4,11.2 .5,-8.3 .4,-5.9 .4,13.9 .5,-17 .4,12.3 .4,-2.6 .5,3.2 .4,.9 .4,-2 .5,6 .4,-19.3 .4,16.2 .5,3.4 .4,-19 .4,0 .5,5.6 .4,-3.7 .4,13.9 .5,-2.6 .4,-8.8 .4,1.1 .5,14.9 .4,-15.4 .4,-1.2 .5,18 .4,-4.7 .4,-11.3 .5,6.9 .4,-15.7 .4,17.7 .5,13.2 .4,-23 .4,7.7 .5,-5.7 .4,-5.7 .5,5.3 .4,-2.7 .4,-5.8 .5,9.2 .4,1.9 .4,1.5 .5,-1.2 .4,-.5 .4,-1.7 .5,-3.3 .4,-7.2 .4,9.4 .5,-3.3 .4,-6.7 .4,9 .5,4.5 .4,5.7 .4,-16.2 .5,14.3 .4,-13.4 .4,6 .5,7.2 .4,-8.8 .4,-2.6 .5,-4.6 .4,14 .4,-13.3 .5,6.9 .4,-2 .4,3.3 .5,6.6 .4,-6.4 .4,10.3 .5,-2.4 .4,-13 .4,-7.9 .5,6.3 .4,-.7 .5,11.3 .4,-9.8 .4,3.8 .5,-14.5 .4,13.6 .4,6.9 .5,-10.6 .4,-6.6 .4,4.1 .5,2.2 .4,-.8 .4,-.6 .5,1.6 .4,-7.9 .4,3.5 .5,-1 .4,-.2 .4,-10.3 .5,12.4 .4,1.5 .4,-11.4 .5,18.5 .4,-12.5 .4,.5 .5,3.8 .4,-3.3 .4,5.7 .5,.5 .4,-21.9 .4,14 .5,6 .4,-2.6 .4,1.5 .5,-4.4 .4,-3.6 .4,-6.4 .5,19.6 .4,-9.6 .5,-1 .4,.5 .4,-2.8 .5,1.1 .4,6.5 .4,-5 .5,-11.5 .4,7.5 .4,-2.7 .5,2.5 .4,-1.3 .4,10.4 .5,-18.4 .4,11.9 .4,-1.4 .5,-8.4 .4,-7.6 .4,9.9 .5,-11.9 .4,19.3 .4,-5 .5,-22.7 .4,17.2 .4,-4.7 .5,-3.8 .4,-1.2 .4,17.5 .5,-19.3 .4,.3 .4,13.1 .5,-9.6 .4,-12.9 .4,34.2 .5,-19.9 .4,-10.5 .4,27.9 .5,-18.6 .4,-2 .5,-5.7 .4,8.2 .4,-3.3 .5,-2.2 .4,7.8 .4,-12.1 .5,-7 .4,-3.2 .4,15.2 .5,-4.1 .4,-7.7 .4,12.4 .5,-4.4 .4,-11.8 .4,-7.7 .5,6.7 .4,-5.6 .4,8 .5,3.3 .4,1.3 .4,-24.7 .5,14.3 .4,7.6 .4,.6 .5,-3.2 .4,-6.3 .4,3.9 .5,8.5 .4,-12.6 .4,-4.3 .5,11.9 .4,.9 .4,-18.2 .5,3.8 .4,-7.7 .4,11.5 .5,4.3 .4,-6.3 .4,-7.3 .5,-1 .4,9.4 .5,7.8 .4,-7.2 .4,-1.7 .5,12.5 .4,-16.5 .4,-.9 .5,-7.4 .4,22.7 .4,-3.6 .5,-11.5 .4,2.7 .4,-14.3 .5,3.2 .4,8.4 .4,4.5 .5,-32.4 .4,39.8 .4,-7.8 .5,-20.4 .4,14.3 .4,-8.3 .5,-2.7 .4,.9 .4,-.5 .5,6.5 .4,.5 .4,8 .5,-12.6 .4,-6.7 .4,9.5 .5,3.1 .4,-4.6 .4,11.8 .5,-16.7 .4,-11.1 .4,19.5 .5,.3 .4,-7.5 .5,.5 .4,-12.3 .4,8.9 .5,3.4 .4,-4.3 .4,-12.9 .5,14.9 .4,-10.6 .4,12 .5,-2.2 .4,4.7 .4,-16.4 .5,10.7 .4,1.5 .4,-2.2 .5,9.4 .4,-22.9 .4,18.7 .5,1.7 .4,-10.6 .4,-11.1 .5,9.1 .4,.9 .4,.7 .5,9.2 .4,-5.2 .4,-22.5 .5,25.5 .4,-29.2 .4,10.5 .5,-11 .4,21.6 .4,-9.8 .5,16.1 .4,-19.2 .4,8.7 .5,13.8 .4,-19.2 .5,15.3 .4,-9.6 .4,-2.7 .5,-15.4 .4,13.8 .4,18.1 .5,-18.8 .4,5.1 .4,9.7 .5,-21.5 .4,7.3 .4,0 .5,-7.6 .4,11.9 .4,7.4 .5,-7.8 .4,-6.3 .4,2 .5,-19.4 .4,21.5 .4,-15.1 .5,20.7 .4,-19.3 .4,18.2 .5,-16.3 .4,.3 .4,-12 .5,20.4 .4,-.5 .4,7.2 .5,-19.6 .4,-8.6 .4,25.6 .5,-36.4 .4,15.6 .4,20.1 .5,-10.9 .4,-12.7 .5,10.9 .4,16.5 .4,-15.8 .5,-2.4 .4,15.4 .4,-18.1 .5,7.7 .4,11.7 .4,-30.4 .5,9.4 .4,15.6 .4,-8.5 .5,19.5 .4,-19.6 .4,2.1 .5,-15.7 .4,3.5 .4,27.1 .5,-23.3 .4,10 .4,-5.5 .5,27.7 .4,-41.7 .4,23 .5,-5.8 .4,-10.9 .4,7.8 .5,9.8 .4,23.5 .4,-15.8 .5,-7.1 .4,-4.1 .4,-17.1 .5,.4 .4,20.2 .4,-21.3 .5,27.9 .4,-5.9 .5,9.4 .4,-11.3 .4,-12.7 .5,22.1 .4,-23.2 .4,11.1 .5,-2.3 .4,-6.5 .4,7.2 .5,2.3 .4,-9.8 .4,24.7 .5,-20.8 .4,1.1 .4,9.5 .5,-8.6 .4,2.2 .4,2.4 .5,-20.2 .4,37.4 .4,-30.5 .5,-7.5 .4,21.6 .4,.3 .5,-2.2 .4,-11.4 .4,-.8 .5,9.9 .4,-1.6 .4,11.4 .5,-11.3 .4,6.1 .4,-6.5 .5,-18.4 .4,9.1 .4,25 .5,-12.8 .4,10.3 .5,-13.3 .4,-.4 .4,-5 .5,17 .4,4.5 .4,-25.7 .5,12.2 .4,-10.8 .4,9 .5,-17.1 .4,.8 .4,20.2 .5,-3.6 .4,-3.4 .4,16 .5,-23.2 .4,5.9 .4,14.6 .5,-13.7 .4,-6.9 .4,14.8 .5,-13 .4,-3.4 .4,-10.3 .5,-4.2 .4,-2.6 .4,5.6 .5,5.9 .4,5.7 .4,-19.8 .5,16.3 .4,11 .4,-.5 .5,-21.8 .4,33 .4,-21.1 .5,2 .4,5.7 .4,-29.5 .5,5 .4,3.5 .5,2.2 .4,-16.9 .4,18.1 .5,-17.2 .4,6.8 .4,1.3 .5,-15.4 .4,18.1 .4,-24.4 .5,-14.6 .4,29 .4,-14 .5,-16.9 .4,9.9 .4,4.3 .5,-6.9 .4,5.4 .4,-17.1 .5,5.3 .4,-9.3 .4,-4.3 .5,1.3 .4,1.7 .4,-16.6 .5,-6.6 .4,4.9 .4,-9.2 .5,-26.6 .4,13.1 .4,-8.2 .5,-7.6 .4,-.1 .4,-3.9 .5,18.8 .4,-24.1 .4,-1.9 .5,-15.8 .4,10.5 .5,5 .4,-14.6 .4,5.9 .5,-5.1 .4,-5.7 .4,19.4 .5,-31.7 .4,5.3 .4,-15.8 .5,14.4 .4,-14.9 .4,-1.7 .5,8 .4,-13.5 .4,9.7 .5,-23.8 .4,18.7 .4,-15 .5,-12.7 .4,22.2 .4,3 .5,-12.7 .4,7.8 .4,-8.7 .5,-15.5 .4,16.7 .4,-16.1 .5,7.5 .4,-7.6 .4,-11.1 .5,1.3 .4,-7.8 .4,10.8 .5,-16.5 .4,24.4 .4,-16.7 .5,-15.3 .4,12.1 .5,-12.5 .4,21.4 .4,-5.4 .5,-9.8 .4,21.1 .4,-.9 .5,-1.7 .4,-11.3 .4,3.5 .5,28.8 .4,-30.6 .4,18.3 .5,1.2 .4,-9.5 .4,.2 .5,.4 .4,23.5 .4,-13.8 .5,18 .4,2.2 .4,.1 .5,1.4 .4,3.3 .4,10.5 .5,-1.7 .4,-1.3 .4,12.6 .5,21.5 .4,1.5 .4,-10.6 .5,-4.3 .4,8.2 .4,7.2 .5,13.4 .4,2.3 .4,13.4 .5,10.2 .4,-10.2 .5,13.9 .4,-.4 .4,-5.1 .5,7 .4,1.1 .4,-3.3 .5,27 .4,5.8 .4,1.2 .5,-2.3 .4,8 .4,6.3 .5,2.8 .4,0 .4,7.2 .5,4.5 .4,10.7 .4,4.7 .5,-14.3 .4,33.1 .4,-13 .5,-6.5 .4,-3.4 .4,18.9 .5,8.4 .4,-11.6 .4,6.8 .5,19.9 .4,-2.5 .4,1.3 .5,2.6 .4,14.7 .4,-16.8 .5,8.2 .4,-5.1 .4,-3.3 .5,-2 .4,9 .5,.3 .4,3 .4,11.1 .5,-7.1 .4,-1.5 .4,5.2 .5,.2 .4,4.1 .4,13.4 .5,-11.6 .4,5.9 .4,-.8 .5,-1.8 .4,9.4 .4,2.2 .5,-1.9 .4,7.9 .4,-3.8 .5,8.6 .4,-10.9 .4,11.9 .5,-.4 .4,-4.7 .4,-1.4 .5,-.3 .4,-.9 .4,5.3 .5,1.8 .4,2.5 .4,20.6 .5,-16.4 .4,-5.2 .4,20.6 .5,-1.9 .4,-11.9 .4,12.9 .5,-2.1 .4,6.2 .5,-9.7 .4,6.4 .4,-1.6 .5,-1.9 .4,6 .4,13.1 .5,-12.8 .4,-1.9 .4,1.2 .5,11.7 .4,-5.2 .4,-8 .5,1.4 .4,8.2 .4,10.7 .5,6.8 .4,-1.7 .4,-8.5 .5,5.7 .4,6.7 .4,-11.7 .5,-21.9 .4,41.9 .4,-2.3 .5,-4.3 .4,8 .4,-3.1 .5,-11.4 .4,-4.9 .4,8.5 .5,-6.2 .4,4.6 .4,10.8 .5,-17.8 .4,10.5 .4,18.5 .5,-16.7 .4,-12 .5,14.2 .4,-4.1 .4,11.4 .5,-13.2 .4,17.5 .4,-2.9 .5,6.6 .4,-12.1 .4,9.7 .5,-30.9 .4,6.7 .4,13.2 .5,-2.7 .4,-4 .4,8.1 .5,.2 .4,2.3 .4,-19.4 .5,21.6 .4,-2.1 .4,-7.5 .5,-3.5 .4,12 .4,-6.4 .5,-.6 .4,9.7 .4,6.4 .5,-14.2 .4,-3.9 .4,5.3 .5,-4 .4,-8.5 .4,18.7 .5,-3.1 .4,-11.4 .4,5.6 .5,1.5 .4,-6.1 .4,17 .5,-5.3 .4,-12.8 .5,-5 .4,31.9 .4,-35.1 .5,27.3 .4,-3.4 .4,1.9 .5,-14.5 .4,7.4 .4,-.8 .5,17.6 .4,-12.2 .4,-14.7 .5,17.2 .4,4.4 .4,1.1 .5,-11.5 .4,3.7 .4,-6.7 .5,5.2 .4,5.5 .4,1.4 .5,-19.4 .4,15.7 .4,3.1 .5,-1 .4,-25.4 .4,19.9 .5,12.4 .4,5.4 .4,-13.8 .5,.7 .4,-11.4 .4,7.3 .5,2.5 .4,18.2 .4,-37.4 .5,31 .4,-.5 .5,1 .4,-19 .4,9.9 .5,-2.5 .4,5.5 .4,-7.1 .5,-2.4 .4,.1 .4,-3.6 .5,20.7 .4,-19 .4,1.6 .5,15.6 .4,-10.7 .4,.9 .5,10 .4,-8.2 .4,4.9 .5,-5.3 .4,-18.1 .4,12.3 .5,9.2 .4,-6.4 .4,13 .5,-13.7 .4,1.7 .4,-2.5 .5,1.4 .4,20.2 .4,-23.3 .5,-9.4 .4,7.9 .4,-7.9 .5,14.7 .4,.3 .4,-3.4 .5,-2.7 .4,1.9 .5,-14.6 .4,17.3 .4,-4.1 .5,19.7 .4,-15.2 .4,2.5 .5,-9 .4,6.3 .4,9.9 .5,-17.6 .4,10.5 .4,-1.6 .5,6.9 .4,-9.7 .4,3 .5,-2.1 .4,16.4 .4,-4.1 .5,-10.2 .4,6.2 .4,-13.7 .5,7.5 .4,.3 .4,1.5 .5,11.2 .4,-15.1 .4,-1.4 .5,8.6 .4,-1.8 .4,9.5 .5,15.5 .4,-20.9 .4,-8.5 .5,-1.3 .4,15 .4,-20.5 .5,5.5 .4,5.8 .5,-.1 .4,-7.8 .4,18.5 .5,-3.1 .4,1.2 .4,-15.5 .5,-4.4 .4,11.9 .4,-6.3 .5,-.5 .4,-.5 .4,12 .5,-15.7 .4,32.3 .4,-45.7 .5,15.3 .4,1.6 .4,-4.1 .5,4.8 .4,-2.4 .4,-10.4 .5,15.6 .4,14.6 .4,-29.3 .5,5 .4,-3.3 .4,10.2 .5,-12.3 .4,11.7 .4,.8 .5,2.9 .4,5.4 .4,-16.5 .5,-1.7 .4,13.1 .4,3.6 .5,-11.6 .4,-13.6 .5,24 .4,-.3 .4,-27.1 .5,24.7 .4,-9 .4,-12.4 .5,25.7 .4,-6 .4,14.3 .5,-15.8 .4,-3.7 .4,10 .5,8.7 .4,-9.4 .4,-9.3 .5,2.7 .4,-3.7 .4,-7.5 .5,5.4 .4,5.2 .4,-6.1 .5,10.4 .4,-12.8 .4,8.8 .5,-14 .4,-4.6 .4,23.2 .5,-6.6 .4,-5.3 .4,9.8 .5,15.8 .4,-18.3 .4,6.8 .5,-13.8 .4,4.6 .4,-2 .5,19.7 .4,-10.6 .5,-17.5 .4,-5.2 .4,35.6 .5,-15.9 .4,-4.8 .4,-5 .5,3.2 .4,-6.4 .4,3.3 .5,-7.5 .4,9.7 .4,-3.7 .5,13.3 .4,-6.5 .4,-17.7 .5,9.9 .4,13.6 .4,-10 .5,-3.6 .4,10.4 .4,-3 .5,-12 .4,13.4 .4,-4.9 .5,-10.7 .4,5.2 .4,7 .5,-9.5 .4,6.1 .4,4.7 .5,-7.2 .4,-5.3 .4,.8 .5,3.4 .4,-8.6 .4,27.6 .5,-18.5 .4,3.6 .4,-.4 .5,9.9 .4,-25.7 .5,20.5 .4,-7.9 .4,-2.6 .5,-10.5 .4,21.1 .4,.1 .5,-3.7 .4,-5.2 .4,-8.5 .5,5 .4,13.5 .4,-6.6 .5,8.4 .4,-7.6 .4,6.6 .5,2.7 .4,-.8 .4,-20.6 .5,16.2 .4,-6.4 .4,15.3 .5,-12.6 .4,7.8 .4,-15.1 .5,9.6 .4,-8.8 .4,-2.3 .5,8.4 .4,-2 .4,4.1 .5,-19.6 .4,2.3 .4,26.1 .5,-19.7 .4,4.6 .4,6.6 .5,3 .4,.9 .5,-17.8 .4,14.3 .4,-4.5 .5,-6.9 .4,4.1 .4,5.9 .5,1.4 .4,-9.6 .4,10.3 .5,-20.8 .4,11.1 .4,-17.2 .5,32.1 .4,-9.5 .4,-10.4 .5,1.4 .4,1.7 .4,.7 .5,-14.3 .4,8.3 .4,12.5 .5,-2.4 .4,-12.2 .4,11.3 .5,6.9 .4,-20 .4,-6.6 .5,.2 .4,23.5 .4,-9.8 .5,-3.1 .4,-5.6 .4,19.4 .5,-10.8 .4,5.3 .4,-6.9 .5,-13 .4,25.4 .5,-15.9 .4,10.6 .4,-3.4 .5,-8.4 .4,16.1 .4,-2.9 .5,-3.8 .4,8.8 .4,-17.2 .5,8.9 .4,-9.3 .4,.7 .5,8.4 .4,-20.5 .4,17.6 .5,-13.5 .4,16 .4,-21.1 .5,9.2 .4,14.8 .4,-8.4 .5,5.6 .4,-10.2 .4,17.1 .5,-12.7 .4,11.6 .4,-16.9 .5,-2.2 .4,14.3 .4,-13 .5,8.7 .4,14.1 .4,-18.6 .5,-6 .4,15.7 .4,-16.2 .5,8.4 .4,-2.9 .5,2.3 .4,-2 .4,-18.4 .5,25.9 .4,5.8 .4,0 .5,-6.1 .4,1.9 .4,-16.1 .5,3 .4,22.4 .4,-18.2 .5,-8 .4,11.3 .4,-2.8 .5,7.6 .4,2.1 .4,-16.1 .5,13.1 .4,7 .4,-4.5 .5,-7.8 .4,12.6 .4,-5.5 .5,-13.6 .4,-.1 .4,15.6 .5,-14.7 .4,1.8 .4,13.4 .5,-4.2 .4,-6.9 .4,-33.2 .5,34.7 .4,15.4 .4,-10.4 .5,20.1 .4,-3.9 .5,-4 .4,-4.8 .4,-1.8 .5,-7 .4,18.2 .4,9.7 .5,-23.4 .4,1.7 .4,-28.8 .5,26.7 .4,-6.2 .4,28.2 .5,-28.9 .4,11.3 .4,7.8 .5,-3.1 .4,-15.4 .4,13.2 .5,1.7 .4,-3.6 .4,-.8 .5,-19 .4,21.5 .4,-8.6 .5,13.2 .4,-17.4 .4,-1.6 .5,14.7 .4,-3.2 .4,-10.1 .5,8.2 .4,-1.3 .4,6.5 .5,-.1 .4,-12.7 .4,18.3 .5,4.4 .4,-25.4 .5,10.7 .4,14.5 .4,-21.8 .5,3 .4,-3.3 .4,25.8 .5,-5.3 .4,-16.7 .4,16.6 .5,1.1 .4,.4 .4,1.4 .5,.9 .4,-12.2 .4,13.6 .5,-14.7 .4,24.4 .4,-24 .5,9.6 .4,11.3 .4,-16.8 .5,3.7 .4,0 .4,-2.8 .5,8.6 .4,5.2 .4,-17.8 .5,18.7 .4,-21.8 .4,5.9 .5,-15.6 .4,3.2 .4,21.2 .5,-16.7 .4,4 .4,-10.7 .5,24.5 .4,-14.8 .5,-1.8 .4,26.1 .4,-15 .5,.1 .4,-10.5 .4,25.7 .5,-19.4 .4,9.6 .4,-1.4 .5,-15.9 .4,9.8 .4,4.7 .5,3.1 .4,-2.8 .4,-10.1 .5,9.2 .4,4.6 .4,-20.3 .5,13.6 .4,1.4 .4,5 .5,-8.4 .4,2.7 .4,-26.3 .5,14.1 .4,-7.8 .4,18.6 .5,10.2 .4,-4.4 .4,-11.2 .5,18.2 .4,-11 .4,2.8 .5,-6.7 .4,5.7 .4,-8.6 .5,8.6 .4,-.1 .4,-10.9 .5,17.4 .4,-7.4 .5,-12.5 .4,-8.6 .4,14.5 .5,10.8 .4,-12.1 .4,14.6 .5,-6.9 .4,-2.3 .4,4.3 .5,0 .4,-4.8 .4,3.2 .5,2 .4,-4.8 .4,21.5 .5,-13.1 .4,2.9 .4,.4 .5,-1.5 .4,-8.7 .4,-8.5 .5,5.5 .4,19.5 .4,-10.2 .5,-17.2 .4,12.8 .4,5.5 .5,-12.3 .4,4.4 .4,2.5 .5,17.3 .4,-15.8 .4,-.8 .5,-11.9 .4,22.2 .4,-.3 .5,-5.5 .4,-3.7 .5,6.6 .4,-4.5 .4,3.1 .5,5.6 .4,-9.1 .4,-3.5 .5,7.3 .4,-12.5 .4,-.3 .5,20.4 .4,-24.1 .4,-1.3 .5,7.3 .4,4 .4,-2.5 .5,12.3 .4,-7.7 .4,-20.4 .5,11.8 .4,11.1 .4,-24.3 .5,29.5 .4,-1 .4,-7.2 .5,1.2 .4,-15.6 .4,17 .5,2.8 .4,-16.2 .4,15 .5,8.3 .4,5.1 .4,-11.2 .5,-4.1 .4,1.4 .4,-8.7 .5,7.4 .4,3.3 .5,-12.6 .4,3.4 .4,6.8 .5,-7.3 .4,16.9 .4,-21.9 .5,10.5 .4,1.9 .4,4.3 .5,-12.6 .4,-2.1 .4,7.2 .5,-1.1 .4,-.6 .4,10.6 .5,-14.2 .4,15.3 .4,-6 .5,8.4 .4,-6.7 .4,1.6 .5,-4.9 .4,-.1 .4,-16.2 .5,27.6 .4,1.8 .4,-17.6 .5,11.9 .4,-11.2 .4,10.2 .5,-15.1 .4,7.8 .4,4.3 .5,-6.9 .4,9.8 .4,-16.1 .5,3.7 .4,14.4 .5,-17.5 .4,3.8 .4,-11.5 .5,7.1 .4,4.2 .4,16.4 .5,-16.1 .4,9.4 .4,-5.1 .5,-5.6 .4,-3 .4,19.5 .5,-17.1 .4,-3.2 .4,-8.4 .5,14 .4,.6 .4,1.9 .5,-12.6 .4,-2.5 .4,-3.2 .5,10.3 .4,-2.3 .4,2.1 .5,8.9 .4,-11.1 .4,11.3 .5,-24.8 .4,27.4 .4,-9.5 .5,-4.1 .4,3.6 .4,-1.4 .5,7.2 .4,-7 .4,16.4 .5,-29.5 .4,9.3 .5,2.4 .4,7.5 .4,-20.2 .5,9.4 .4,21.5 .4,-16.4 .5,14.4 .4,-24.7 .4,10.7 .5,2.8 .4,-9.2 .4,1.7 .5,-2.8 .4,9.3 .4,3.9 .5,4.4 .4,-7.8 .4,-2.6 .5,-12.3 .4,35.8 .4,-5.4 .5,-36.1 .4,23.5 .4,-4.5 .5,-4.4 .4,-3.1 .4,11.2 .5,1.8 .4,4.2 .4,-18.1 .5,3.5 .4,10.7 .4,-5.3 .5,-3.7 .4,.6 .4,6.8 .5,-13.2 .4,-4.3 .5,20.3 .4,-5.3 .4,-12.5 .5,6.6 .4,3.9 .4,8.3 .5,-6.7 .4,-2.4 .4,-9.6 .5,7.8 .4,-11.2 .4,14.3 .5,14.9 .4,-25.2 .4,15.2 .5,7 .4,-31.1 .4,21.7 .5,-10.4 .4,6.3 .4,-5.6 .5,3.3 .4,4.8 .4,-6.4 .5,4.2 .4,.3 .4,-.4 .5,-4.3 .4,-1.9 .4,-1.8 .5,19.7 .4,-26.8 .4,29.2 .5,-10.3 .4,4.9 .4,-11.2 .5,12.4 .4,-10.8 .4,-7 .5,6.5 .4,-6.2 .5,27.9 .4,-13.4 .4,-3.9 .5,-.9 .4,15.3 .4,-3.1 .5,-66.7 .4,54.1 .4,3.1 .5,9.7 .4,-17 .4,8.6 .5,-.1 .4,-6.9 .4,14.3 .5,-8.8 .4,-4.1 .4,-2.2 .5,9 .4,-11.8 .4,5.9 .5,4.6 .4,-3.5 .4,3.9 .5,4.1 .4,-19.8 .4,21.7 .5,-7.8 .4,2.7 .4,6.8 .5,0 .4,-9.8 .4,-3.5 .5,7.8 .4,-17.5 .4,23.8 .5,-14.2 .4,9.6 .5,-3.1 .4,15.6 .4,.7 .5,-17 .4,15.6 .4,-11 .5,-1.8 .4,6.7 .4,-8.8 .5,6.1 .4,-11.1 .4,6.8 .5,9.8 .4,-11.6 .4,19.6 .5,-5.8 .4,-13.5 .4,10.7 .5,-6.7 .4,12.5 .4,1.8 .5,-16.7 .4,-7.4 .4,27.4 .5,-17.7 .4,-.1 .4,6.8 .5,-14.6 .4,24.6 .4,-13.4 .5,-5.5 .4,29.5 .4,.3 .5,-18.1 .4,1.1 .4,3.4 .5,-15.4 .4,-19.5 .5,35.3 .4,-11.3 .4,2.9 .5,4.3 .4,3.1 .4,6.5 .5,-13 .4,-8 .4,11.8 .5,2.3 .4,-1 .4,6.1 .5,-3.7 .4,.2 .4,-3.7 .5,-12 .4,29.8 .4,-29.9 .5,-3.2 .4,12.8 .4,17.2 .5,-12.7 .4,5.1 .4,-38.2 .5,29.7 .4,-3.4 .4,4.5 .5,4.8 .4,4.9 .4,-1.9 .5,-3.6 .4,7.1 .4,-19.3 .5,.2 .4,3.7 .4,1 .5,-3.7 .4,7.2 .5,6.2 .4,1.3 .4,-8.7 .5,-1.5 .4,.3 .4,-1 .5,6.1 .4,-15.1 .4,7.7 .5,1.2 .4,29.4 .4,-28.2 .5,-7.3 .4,11.6 .4,-10.5 .5,20 .4,20.2 .4,-28.5 .5,-8 .4,12.3 .4,.1 .5,1.4 .4,-3.1 .4,11.9 .5,-9.2 .4,-3.8 .4,4.4 .5,-19.1 .4,6.6 .4,15.9 .5,-13.4 .4,-1.4 .4,10.2 .5,10.6 .4,-15 .4,-6.5 .5,3.3 .4,1.2 .5,10.7 .4,-19.2 .4,13.7 .5,4 .4,-8.8 .4,-4.6 .5,4.3 .4,26.2 .4,-20.5 .5,4.7 .4,-21.6 .4,10.1 .5,-6.6 .4,11.5 .4,-7 .5,9.9 .4,-7 .4,11.2 .5,-8.6 .4,-1.7 .4,-.6 .5,-4.1 .4,6 .4,7.1 .5,-16.4 .4,13.9 .4,-2.4 .5,-7.1 .4,.4 .4,23.3 .5,-7.3 .4,-15.6 .4,1.7 .5,-13.4 .4,20.1 .4,-15.5 .5,12.6 .4,.6 .5,-19.1 .4,25.6 .4,-.3 .5,-4.1 .4,0 .4,-6.2 .5,8.6 .4,-4.8 .4,-2.5 .5,-5.1 .4,1.7 .4,3 .5,11.1 .4,-4.4 .4,-16.2 .5,20.1 .4,.4 .4,-9.3 .5,6.6 .4,-16.4 .4,.6 .5,-.8 .4,15.2 .4,-3.5 .5,-22 .4,17.8 .4,-13.7 .5,17.5 .4,-4.5 .4,8.1 .5,-8 .4,.6 .4,10 .5,7.6 .4,-15.3 .4,11 .5,5.6 .4,-11.9 .5,-16.1 .4,16.2 .4,-11.4 .5,3.4 .4,10.2 .4,-6.8 .5,-7.6 .4,-9.8 1.6,-21.5 .4,75.5"/>
</g>
<line x1="1183.7" y1="65" x2="1183.7" y2="1379.5" stroke="#000080" stroke-width="6" stroke-linecap="round" stroke-dasharray="20.5 26.5"/>
<line x1="1421.7" y1="65" x2="1421.7" y2="1374.0" stroke="#ff0000" stroke-width="6" stroke-linecap="round" stroke-dasharray="20.5 26.5"/>
<line x1="1481.3" y1="65" x2="1481.3" y2="1320.9" stroke="#0000ff" stroke-width="6" stroke-linecap="round" stroke-dasharray="20.5 26.5"/>
<line x1="1503.4" y1="65" x2="1503.4" y2="1207.0" stroke="#00ff00" stroke-width="6" stroke-linecap="round" stroke-dasharray="20.5 26.5"/>
<line x1="1024.3" y1="1163.8" x2="1024.3" y2="1545" stroke="#000080" stroke-width="9.5"/><rect x="1007.5" y="1147.0" width="33.6" height="33.6" fill="#000080"/><line x1="1182.0" y1="1379.5" x2="1182.0" y2="1545" stroke="#000080" stroke-width="9.5"/><rect x="1165.2" y="1362.7" width="33.6" height="33.6" fill="#000080"/><line x1="1717.4" y1="1477.4" x2="1717.4" y2="1545" stroke="#000080" stroke-width="9.5"/><rect x="1700.6" y="1460.6" width="33.6" height="33.6" fill="#000080"/>
<line x1="867.0" y1="1283.9" x2="867.0" y2="1545" stroke="#ff0000" stroke-width="9.5"/><circle cx="867.0" cy="1283.9" r="18.1" fill="#ff0000"/><line x1="997.8" y1="1164.0" x2="997.8" y2="1545" stroke="#ff0000" stroke-width="9.5"/><circle cx="997.8" cy="1164.0" r="18.1" fill="#ff0000"/><line x1="1422.9" y1="1374.0" x2="1422.9" y2="1545" stroke="#ff0000" stroke-width="9.5"/><circle cx="1422.9" cy="1374.0" r="18.1" fill="#ff0000"/><line x1="1696.6" y1="1484.0" x2="1696.6" y2="1545" stroke="#ff0000" stroke-width="9.5"/><circle cx="1696.6" cy="1484.0" r="18.1" fill="#ff0000"/><line x1="1784.4" y1="1499.0" x2="1784.4" y2="1545" stroke="#ff0000" stroke-width="9.5"/><circle cx="1784.4" cy="1499.0" r="18.1" fill="#ff0000"/>
<line x1="477.8" y1="1486.0" x2="477.8" y2="1545" stroke="#00ff00" stroke-width="9.5"/><polygon points="477.8,1462.0 500.6,1502.0 455.1,1502.0" fill="#00ff00"/><line x1="749.8" y1="1416.7" x2="749.8" y2="1545" stroke="#00ff00" stroke-width="9.5"/><polygon points="749.8,1392.7 772.5,1432.7 727.0,1432.7" fill="#00ff00"/><line x1="873.7" y1="1163.3" x2="873.7" y2="1545" stroke="#00ff00" stroke-width="9.5"/><polygon points="873.7,1139.3 896.5,1179.3 851.0,1179.3" fill="#00ff00"/><line x1="912.2" y1="1510.9" x2="912.2" y2="1545" stroke="#00ff00" stroke-width="9.5"/><polygon points="912.2,1486.9 935.0,1526.9 889.5,1526.9" fill="#00ff00"/><line x1="1049.6" y1="1304.5" x2="1049.6" y2="1545" stroke="#00ff00" stroke-width="9.5"/><polygon points="1049.6,1280.5 1072.3,1320.5 1026.8,1320.5" fill="#00ff00"/><line x1="1145.6" y1="1534.7" x2="1145.6" y2="1545" stroke="#00ff00" stroke-width="9.5"/><polygon points="1145.6,1510.7 1168.3,1550.7 1122.8,1550.7" fill="#00ff00"/><line x1="1291.5" y1="1496.3" x2="1291.5" y2="1545" stroke="#00ff00" stroke-width="9.5"/><polygon points="1291.5,1472.3 1314.2,1512.3 1268.8,1512.3" fill="#00ff00"/><line x1="1373.8" y1="1406.0" x2="1373.8" y2="1545" stroke="#00ff00" stroke-width="9.5"/><polygon points="1373.8,1382.0 1396.5,1422.0 1351.0,1422.0" fill="#00ff00"/><line x1="1505.5" y1="1211.3" x2="1505.5" y2="1545" stroke="#00ff00" stroke-width="9.5"/><polygon points="1505.5,1187.3 1528.2,1227.3 1482.8,1227.3" fill="#00ff00"/><line x1="1582.4" y1="1530.5" x2="1582.4" y2="1545" stroke="#00ff00" stroke-width="9.5"/><polygon points="1582.4,1506.5 1605.2,1546.5 1559.7,1546.5" fill="#00ff00"/><line x1="1605.4" y1="1535.0" x2="1605.4" y2="1545" stroke="#00ff00" stroke-width="9.5"/><polygon points="1605.4,1511.0 1628.2,1551.0 1582.7,1551.0" fill="#00ff00"/><line x1="1703.6" y1="1520.6" x2="1703.6" y2="1545" stroke="#00ff00" stroke-width="9.5"/><polygon points="1703.6,1496.6 1726.3,1536.6 1680.8,1536.6" fill="#00ff00"/><line x1="1775.5" y1="1498.6" x2="1775.5" y2="1545" stroke="#00ff00" stroke-width="9.5"/><polygon points="1775.5,1474.6 1798.2,1514.6 1752.8,1514.6" fill="#00ff00"/><line x1="1801.4" y1="1535.4" x2="1801.4" y2="1545" stroke="#00ff00" stroke-width="9.5"/><polygon points="1801.4,1511.4 1824.2,1551.4 1778.7,1551.4" fill="#00ff00"/><line x1="1894.9" y1="1510.6" x2="1894.9" y2="1545" stroke="#00ff00" stroke-width="9.5"/><polygon points="1894.9,1486.6 1917.7,1526.6 1872.2,1526.6" fill="#00ff00"/><line x1="1965.5" y1="1532.4" x2="1965.5" y2="1545" stroke="#00ff00" stroke-width="9.5"/><polygon points="1965.5,1508.4 1988.2,1548.4 1942.8,1548.4" fill="#00ff00"/>
<line x1="469.9" y1="1464.4" x2="469.9" y2="1545" stroke="#0000ff" stroke-width="9.5"/><polygon points="447.1,1448.4 492.6,1448.4 469.9,1488.4" fill="#0000ff"/><line x1="739.2" y1="1464.4" x2="739.2" y2="1545" stroke="#0000ff" stroke-width="9.5"/><polygon points="716.5,1448.4 762.0,1448.4 739.2,1488.4" fill="#0000ff"/><line x1="861.8" y1="1167.2" x2="861.8" y2="1545" stroke="#0000ff" stroke-width="9.5"/><polygon points="839.0,1151.2 884.5,1151.2 861.8,1191.2" fill="#0000ff"/><line x1="1035.0" y1="1297.2" x2="1035.0" y2="1545" stroke="#0000ff" stroke-width="9.5"/><polygon points="1012.2,1281.2 1057.8,1281.2 1035.0,1321.2" fill="#0000ff"/><line x1="1273.8" y1="1510.8" x2="1273.8" y2="1545" stroke="#0000ff" stroke-width="9.5"/><polygon points="1251.0,1494.8 1296.5,1494.8 1273.8,1534.8" fill="#0000ff"/><line x1="1353.9" y1="1428.6" x2="1353.9" y2="1545" stroke="#0000ff" stroke-width="9.5"/><polygon points="1331.2,1412.6 1376.7,1412.6 1353.9,1452.6" fill="#0000ff"/><line x1="1481.7" y1="1316.9" x2="1481.7" y2="1545" stroke="#0000ff" stroke-width="9.5"/><polygon points="1459.0,1300.9 1504.5,1300.9 1481.7,1340.9" fill="#0000ff"/><line x1="1557.6" y1="1536.9" x2="1557.6" y2="1545" stroke="#0000ff" stroke-width="9.5"/><polygon points="1534.8,1520.9 1580.3,1520.9 1557.6,1560.9" fill="#0000ff"/><line x1="1675.4" y1="1536.9" x2="1675.4" y2="1545" stroke="#0000ff" stroke-width="9.5"/><polygon points="1652.7,1520.9 1698.2,1520.9 1675.4,1560.9" fill="#0000ff"/><line x1="1747.6" y1="1503.0" x2="1747.6" y2="1545" stroke="#0000ff" stroke-width="9.5"/><polygon points="1724.8,1487.0 1770.3,1487.0 1747.6,1527.0" fill="#0000ff"/><line x1="1773.5" y1="1536.4" x2="1773.5" y2="1545" stroke="#0000ff" stroke-width="9.5"/><polygon points="1750.8,1520.4 1796.2,1520.4 1773.5,1560.4" fill="#0000ff"/><line x1="1865.0" y1="1511.1" x2="1865.0" y2="1545" stroke="#0000ff" stroke-width="9.5"/><polygon points="1842.2,1495.1 1887.8,1495.1 1865.0,1535.1" fill="#0000ff"/><line x1="2038.0" y1="1524.4" x2="2038.0" y2="1545" stroke="#0000ff" stroke-width="9.5"/><polygon points="2015.2,1508.4 2060.8,1508.4 2038.0,1548.4" fill="#0000ff"/>
</g>
<g font-size="100">
<text x="260.9" y="203.9">c</text>
<text x="256.5" y="475.3">b</text>
<text x="254.9" y="991.6">a</text>
</g>
<g font-size="100" text-anchor="middle" transform="translate(0,1666.4) scale(1,1.025) translate(0,-1666.4)"><text x="273.4" y="1666.4">10</text><text x="490.6" y="1666.4">20</text><text x="707.9" y="1666.4">30</text><text x="925.1" y="1666.4">40</text><text x="1142.4" y="1666.4">50</text><text x="1359.7" y="1666.4">60</text><text x="1576.9" y="1666.4">70</text><text x="1794.2" y="1666.4">80</text><text x="2011.4" y="1666.4">90</text></g>
<text transform="translate(144.4,983.5) rotate(-90) scale(1,1.045)" font-size="100.8">Intensity (a.u.)</text>
<g font-size="100" transform="translate(0,1782.9) scale(1,1.025) translate(0,-1782.9)">
<text x="1004.5" y="1782.9">2</text>
<text transform="translate(1095,1782.9) scale(1.12,1)" x="-4.7" y="0" font-family="'Liberation Serif', serif">θ</text>
<text x="1170.3" y="1782.9">(</text>
<text x="1202.6" y="1782.9">°</text>
<text x="1248.4" y="1782.9">)</text>
</g>
<rect x="58.1" y="1811.8" width="2082.4" height="251.4" fill="none" stroke="#000" stroke-width="5.7" stroke-linejoin="round"/>
<rect x="143.6" y="1964.3" width="34" height="34" fill="#000080"/>
<circle cx="604.7" cy="1982" r="18.25" fill="#ff0000"/>
<polygon points="1115.9,1956.1 1138.9,1996 1092.9,1996" fill="#00ff00"/>
<polygon points="1716.2,1968 1760.8,1968 1738.5,2010.3" fill="#0000ff"/>
<g font-size="84" transform="translate(0,1898.4) scale(1,1.04) translate(0,-1898.4)">
<text x="739.5" y="1898.4">Reference patterns</text>
</g>
<g font-size="84" transform="translate(0,2010.2) scale(1,1.04) translate(0,-2010.2)">
<text x="276.4" y="2010.2">N<tspan x="339.4">i</tspan></text>
<text x="722.3" y="2010.2">Ni<tspan x="803">O</tspan></text>
<text x="1229" y="2010.2" font-family="'Liberation Serif', serif">γ</text>
<text x="1264.9" y="2010.2">-</text>
<text x="1295.1" y="2010.2">Al</text>
<text x="1367.8" y="2039.1" font-size="50.4">2</text>
<text x="1396.3" y="2010.2">O</text>
<text x="1461.6" y="2039.1" font-size="50.4">3</text>
<text x="1853.1" y="2010.2">NiAl</text>
<text x="2009.4" y="2039.1" font-size="50.4">2</text>
<text x="2037.2" y="2010.2">O</text>
<text x="2101.3" y="2039.1" font-size="50.4">4</text>
</g>
</svg>
</body></html>
